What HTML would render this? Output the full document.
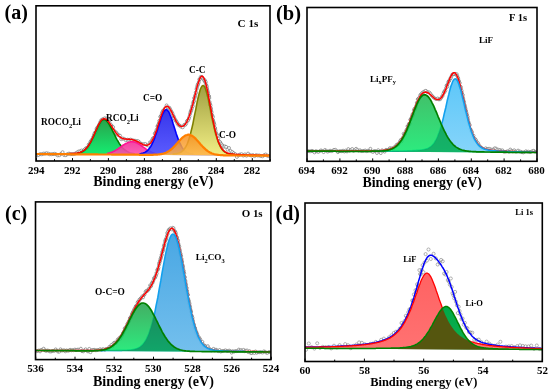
<!DOCTYPE html>
<html><head><meta charset="utf-8"><title>XPS spectra</title>
<style>
html,body{margin:0;padding:0;background:#fff;}
svg{display:block;}
text{font-family:"Liberation Serif","DejaVu Serif",serif;font-weight:bold;fill:#000;}
</style></head><body>
<svg width="550" height="391" viewBox="0 0 550 391">
<rect width="550" height="391" fill="#fff"/>
<defs>
<clipPath id="clipa"><rect x="36.0" y="5.8" width="234.0" height="155.2"/></clipPath>
<linearGradient id="g1" gradientUnits="userSpaceOnUse" x1="0" y1="119.5" x2="0" y2="155.7"><stop offset="0" stop-color="#169a3c"/><stop offset="1" stop-color="#00ee66"/></linearGradient>
<linearGradient id="g2" gradientUnits="userSpaceOnUse" x1="0" y1="141.7" x2="0" y2="155.7"><stop offset="0" stop-color="#f0309a"/><stop offset="1" stop-color="#ff52b0"/></linearGradient>
<linearGradient id="g3" gradientUnits="userSpaceOnUse" x1="0" y1="109.8" x2="0" y2="155.7"><stop offset="0" stop-color="#2020e8"/><stop offset="1" stop-color="#4a4aff"/></linearGradient>
<linearGradient id="g4" gradientUnits="userSpaceOnUse" x1="0" y1="85.5" x2="0" y2="155.7"><stop offset="0" stop-color="#8f8f20"/><stop offset="1" stop-color="#f0ec70"/></linearGradient>
<linearGradient id="g5" gradientUnits="userSpaceOnUse" x1="0" y1="134.7" x2="0" y2="155.7"><stop offset="0" stop-color="#f59020"/><stop offset="1" stop-color="#ffb347"/></linearGradient>
<clipPath id="clipb"><rect x="307.0" y="7.5" width="230.0" height="153.8"/></clipPath>
<linearGradient id="g6" gradientUnits="userSpaceOnUse" x1="0" y1="78.9" x2="0" y2="152.6"><stop offset="0" stop-color="#55c4f8"/><stop offset="1" stop-color="#7fd2fa"/></linearGradient>
<linearGradient id="g7" gradientUnits="userSpaceOnUse" x1="0" y1="94.7" x2="0" y2="152.6"><stop offset="0" stop-color="#20b650"/><stop offset="1" stop-color="#08e868"/></linearGradient>
<linearGradient id="g8" gradientUnits="userSpaceOnUse" x1="0" y1="94.7" x2="0" y2="152.6"><stop offset="0" stop-color="#20b650"/><stop offset="1" stop-color="#08e868"/></linearGradient>
<clipPath id="clipc"><rect x="35.5" y="201.9" width="235.4" height="157.7"/></clipPath>
<linearGradient id="g9" gradientUnits="userSpaceOnUse" x1="0" y1="234.1" x2="0" y2="352.0"><stop offset="0" stop-color="#3fa2e2"/><stop offset="1" stop-color="#6cbcec"/></linearGradient>
<linearGradient id="g10" gradientUnits="userSpaceOnUse" x1="0" y1="303.0" x2="0" y2="352.0"><stop offset="0" stop-color="#22a048"/><stop offset="1" stop-color="#08e868"/></linearGradient>
<linearGradient id="g11" gradientUnits="userSpaceOnUse" x1="0" y1="303.0" x2="0" y2="352.0"><stop offset="0" stop-color="#22a048"/><stop offset="1" stop-color="#08e868"/></linearGradient>
<clipPath id="clipd"><rect x="305.0" y="203.0" width="237.3" height="158.5"/></clipPath>
<linearGradient id="g12" gradientUnits="userSpaceOnUse" x1="0" y1="273.2" x2="0" y2="349.9"><stop offset="0" stop-color="#ff5a5a"/><stop offset="1" stop-color="#ff6a6a"/></linearGradient>
<linearGradient id="g13" gradientUnits="userSpaceOnUse" x1="0" y1="306.5" x2="0" y2="349.9"><stop offset="0" stop-color="#00a848"/><stop offset="1" stop-color="#10b050"/></linearGradient>
<linearGradient id="g14" gradientUnits="userSpaceOnUse" x1="0" y1="306.5" x2="0" y2="349.9"><stop offset="0" stop-color="#00a848"/><stop offset="1" stop-color="#10b050"/></linearGradient>
</defs>
<g clip-path="url(#clipa)">
<g fill="#fff" stroke="#666" stroke-width="0.60"><circle cx="37.0" cy="155.4" r="1.50"/><circle cx="38.6" cy="154.9" r="1.50"/><circle cx="40.2" cy="154.1" r="1.50"/><circle cx="41.8" cy="154.3" r="1.50"/><circle cx="43.4" cy="153.6" r="1.50"/><circle cx="45.0" cy="153.6" r="1.50"/><circle cx="46.6" cy="153.2" r="1.50"/><circle cx="48.2" cy="153.6" r="1.50"/><circle cx="49.8" cy="154.3" r="1.50"/><circle cx="51.4" cy="154.2" r="1.50"/><circle cx="53.0" cy="154.1" r="1.50"/><circle cx="54.6" cy="153.8" r="1.50"/><circle cx="56.2" cy="154.4" r="1.50"/><circle cx="57.8" cy="155.4" r="1.50"/><circle cx="59.4" cy="155.2" r="1.50"/><circle cx="61.0" cy="153.8" r="1.50"/><circle cx="62.6" cy="152.2" r="1.50"/><circle cx="64.2" cy="155.1" r="1.50"/><circle cx="65.8" cy="155.2" r="1.50"/><circle cx="67.4" cy="154.1" r="1.50"/><circle cx="69.0" cy="153.6" r="1.50"/><circle cx="70.6" cy="154.1" r="1.50"/><circle cx="72.2" cy="154.1" r="1.50"/><circle cx="73.8" cy="154.0" r="1.50"/><circle cx="75.4" cy="153.5" r="1.50"/><circle cx="77.0" cy="152.5" r="1.50"/><circle cx="78.6" cy="151.5" r="1.50"/><circle cx="80.1" cy="151.3" r="1.50"/><circle cx="81.6" cy="150.5" r="1.50"/><circle cx="83.1" cy="151.1" r="1.50"/><circle cx="84.4" cy="149.7" r="1.50"/><circle cx="85.6" cy="148.6" r="1.50"/><circle cx="86.8" cy="147.8" r="1.50"/><circle cx="87.8" cy="147.5" r="1.50"/><circle cx="88.7" cy="144.6" r="1.50"/><circle cx="89.6" cy="144.3" r="1.50"/><circle cx="90.4" cy="141.9" r="1.50"/><circle cx="91.1" cy="140.9" r="1.50"/><circle cx="91.9" cy="139.6" r="1.50"/><circle cx="92.6" cy="140.0" r="1.50"/><circle cx="93.2" cy="137.0" r="1.50"/><circle cx="93.9" cy="135.2" r="1.50"/><circle cx="94.5" cy="133.5" r="1.50"/><circle cx="95.2" cy="132.4" r="1.50"/><circle cx="95.8" cy="132.3" r="1.50"/><circle cx="96.5" cy="129.0" r="1.50"/><circle cx="97.1" cy="127.8" r="1.50"/><circle cx="97.8" cy="129.0" r="1.50"/><circle cx="98.5" cy="126.0" r="1.50"/><circle cx="99.2" cy="124.5" r="1.50"/><circle cx="100.0" cy="122.5" r="1.50"/><circle cx="100.9" cy="120.7" r="1.50"/><circle cx="101.9" cy="119.7" r="1.50"/><circle cx="103.1" cy="119.1" r="1.50"/><circle cx="104.6" cy="118.3" r="1.50"/><circle cx="106.2" cy="118.5" r="1.50"/><circle cx="107.5" cy="119.4" r="1.50"/><circle cx="108.6" cy="121.4" r="1.50"/><circle cx="109.6" cy="122.9" r="1.50"/><circle cx="110.5" cy="125.9" r="1.50"/><circle cx="111.3" cy="125.2" r="1.50"/><circle cx="112.2" cy="126.8" r="1.50"/><circle cx="113.1" cy="127.2" r="1.50"/><circle cx="113.9" cy="130.4" r="1.50"/><circle cx="114.8" cy="132.0" r="1.50"/><circle cx="115.7" cy="132.1" r="1.50"/><circle cx="116.7" cy="133.4" r="1.50"/><circle cx="117.7" cy="134.5" r="1.50"/><circle cx="118.8" cy="135.4" r="1.50"/><circle cx="120.0" cy="135.7" r="1.50"/><circle cx="121.3" cy="139.2" r="1.50"/><circle cx="122.7" cy="138.4" r="1.50"/><circle cx="124.3" cy="138.9" r="1.50"/><circle cx="125.8" cy="140.3" r="1.50"/><circle cx="127.4" cy="139.7" r="1.50"/><circle cx="129.0" cy="139.8" r="1.50"/><circle cx="130.6" cy="139.6" r="1.50"/><circle cx="132.2" cy="140.3" r="1.50"/><circle cx="133.8" cy="140.5" r="1.50"/><circle cx="135.3" cy="140.8" r="1.50"/><circle cx="136.8" cy="141.1" r="1.50"/><circle cx="138.2" cy="141.2" r="1.50"/><circle cx="139.6" cy="142.4" r="1.50"/><circle cx="141.0" cy="143.9" r="1.50"/><circle cx="142.4" cy="144.1" r="1.50"/><circle cx="143.9" cy="144.3" r="1.50"/><circle cx="145.4" cy="144.0" r="1.50"/><circle cx="147.0" cy="145.3" r="1.50"/><circle cx="148.6" cy="145.5" r="1.50"/><circle cx="149.9" cy="142.4" r="1.50"/><circle cx="151.0" cy="142.5" r="1.50"/><circle cx="152.0" cy="140.2" r="1.50"/><circle cx="152.8" cy="138.6" r="1.50"/><circle cx="153.5" cy="138.1" r="1.50"/><circle cx="154.2" cy="137.8" r="1.50"/><circle cx="154.8" cy="133.5" r="1.50"/><circle cx="155.4" cy="133.6" r="1.50"/><circle cx="155.9" cy="132.2" r="1.50"/><circle cx="156.4" cy="130.4" r="1.50"/><circle cx="156.9" cy="129.5" r="1.50"/><circle cx="157.4" cy="126.3" r="1.50"/><circle cx="157.9" cy="126.0" r="1.50"/><circle cx="158.4" cy="124.5" r="1.50"/><circle cx="158.9" cy="123.1" r="1.50"/><circle cx="159.4" cy="120.9" r="1.50"/><circle cx="159.8" cy="120.5" r="1.50"/><circle cx="160.3" cy="116.8" r="1.50"/><circle cx="160.8" cy="116.4" r="1.50"/><circle cx="161.3" cy="115.4" r="1.50"/><circle cx="161.9" cy="113.4" r="1.50"/><circle cx="162.4" cy="112.0" r="1.50"/><circle cx="163.0" cy="110.7" r="1.50"/><circle cx="163.7" cy="111.8" r="1.50"/><circle cx="164.5" cy="109.4" r="1.50"/><circle cx="165.4" cy="108.0" r="1.50"/><circle cx="166.6" cy="105.4" r="1.50"/><circle cx="168.2" cy="107.6" r="1.50"/><circle cx="169.4" cy="107.8" r="1.50"/><circle cx="170.3" cy="109.5" r="1.50"/><circle cx="171.1" cy="111.3" r="1.50"/><circle cx="171.8" cy="112.3" r="1.50"/><circle cx="172.5" cy="113.6" r="1.50"/><circle cx="173.2" cy="115.7" r="1.50"/><circle cx="173.9" cy="116.8" r="1.50"/><circle cx="174.5" cy="118.4" r="1.50"/><circle cx="175.3" cy="120.0" r="1.50"/><circle cx="176.0" cy="120.8" r="1.50"/><circle cx="176.8" cy="122.1" r="1.50"/><circle cx="177.6" cy="123.7" r="1.50"/><circle cx="178.6" cy="125.0" r="1.50"/><circle cx="179.8" cy="125.7" r="1.50"/><circle cx="181.1" cy="126.7" r="1.50"/><circle cx="182.7" cy="127.3" r="1.50"/><circle cx="184.2" cy="124.9" r="1.50"/><circle cx="185.3" cy="124.8" r="1.50"/><circle cx="186.2" cy="123.5" r="1.50"/><circle cx="187.0" cy="121.1" r="1.50"/><circle cx="187.7" cy="120.7" r="1.50"/><circle cx="188.4" cy="119.7" r="1.50"/><circle cx="189.0" cy="118.1" r="1.50"/><circle cx="189.5" cy="116.4" r="1.50"/><circle cx="190.0" cy="113.9" r="1.50"/><circle cx="190.5" cy="112.1" r="1.50"/><circle cx="191.0" cy="110.9" r="1.50"/><circle cx="191.4" cy="109.9" r="1.50"/><circle cx="191.8" cy="108.2" r="1.50"/><circle cx="192.3" cy="106.1" r="1.50"/><circle cx="192.7" cy="106.2" r="1.50"/><circle cx="193.1" cy="103.3" r="1.50"/><circle cx="193.5" cy="101.8" r="1.50"/><circle cx="193.9" cy="101.0" r="1.50"/><circle cx="194.2" cy="98.3" r="1.50"/><circle cx="194.6" cy="97.7" r="1.50"/><circle cx="195.0" cy="96.3" r="1.50"/><circle cx="195.4" cy="95.0" r="1.50"/><circle cx="195.8" cy="92.6" r="1.50"/><circle cx="196.1" cy="92.5" r="1.50"/><circle cx="196.5" cy="89.2" r="1.50"/><circle cx="196.9" cy="87.7" r="1.50"/><circle cx="197.4" cy="85.8" r="1.50"/><circle cx="197.8" cy="84.5" r="1.50"/><circle cx="198.3" cy="83.7" r="1.50"/><circle cx="198.8" cy="82.0" r="1.50"/><circle cx="199.3" cy="79.4" r="1.50"/><circle cx="199.9" cy="79.1" r="1.50"/><circle cx="200.7" cy="76.9" r="1.50"/><circle cx="201.8" cy="77.0" r="1.50"/><circle cx="203.4" cy="79.0" r="1.50"/><circle cx="204.2" cy="80.5" r="1.50"/><circle cx="204.8" cy="80.2" r="1.50"/><circle cx="205.3" cy="82.3" r="1.50"/><circle cx="205.7" cy="81.9" r="1.50"/><circle cx="206.1" cy="84.7" r="1.50"/><circle cx="206.5" cy="85.7" r="1.50"/><circle cx="206.8" cy="87.0" r="1.50"/><circle cx="207.2" cy="89.1" r="1.50"/><circle cx="207.5" cy="90.9" r="1.50"/><circle cx="207.8" cy="92.3" r="1.50"/><circle cx="208.1" cy="93.6" r="1.50"/><circle cx="208.4" cy="95.9" r="1.50"/><circle cx="208.7" cy="96.1" r="1.50"/><circle cx="209.0" cy="96.4" r="1.50"/><circle cx="209.3" cy="98.0" r="1.50"/><circle cx="209.6" cy="102.0" r="1.50"/><circle cx="209.9" cy="104.9" r="1.50"/><circle cx="210.2" cy="104.3" r="1.50"/><circle cx="210.5" cy="105.6" r="1.50"/><circle cx="210.8" cy="108.0" r="1.50"/><circle cx="211.0" cy="109.2" r="1.50"/><circle cx="211.3" cy="111.2" r="1.50"/><circle cx="211.6" cy="112.5" r="1.50"/><circle cx="211.9" cy="114.9" r="1.50"/><circle cx="212.2" cy="116.6" r="1.50"/><circle cx="212.5" cy="116.0" r="1.50"/><circle cx="212.8" cy="117.3" r="1.50"/><circle cx="213.1" cy="120.2" r="1.50"/><circle cx="213.4" cy="121.7" r="1.50"/><circle cx="213.8" cy="122.9" r="1.50"/><circle cx="214.1" cy="123.8" r="1.50"/><circle cx="214.4" cy="124.8" r="1.50"/><circle cx="214.8" cy="128.1" r="1.50"/><circle cx="215.2" cy="128.1" r="1.50"/><circle cx="215.5" cy="130.4" r="1.50"/><circle cx="215.9" cy="132.5" r="1.50"/><circle cx="216.4" cy="134.1" r="1.50"/><circle cx="216.8" cy="134.6" r="1.50"/><circle cx="217.2" cy="137.4" r="1.50"/><circle cx="217.7" cy="136.0" r="1.50"/><circle cx="218.3" cy="138.7" r="1.50"/><circle cx="218.8" cy="141.0" r="1.50"/><circle cx="219.4" cy="142.8" r="1.50"/><circle cx="220.1" cy="142.1" r="1.50"/><circle cx="220.8" cy="143.6" r="1.50"/><circle cx="221.6" cy="144.5" r="1.50"/><circle cx="222.5" cy="145.7" r="1.50"/><circle cx="223.6" cy="146.8" r="1.50"/><circle cx="224.8" cy="146.4" r="1.50"/><circle cx="226.1" cy="146.9" r="1.50"/><circle cx="227.5" cy="149.6" r="1.50"/><circle cx="229.0" cy="148.0" r="1.50"/><circle cx="230.6" cy="151.0" r="1.50"/><circle cx="232.2" cy="152.0" r="1.50"/><circle cx="233.7" cy="153.2" r="1.50"/><circle cx="235.3" cy="154.2" r="1.50"/><circle cx="236.9" cy="156.9" r="1.50"/><circle cx="238.5" cy="155.2" r="1.50"/><circle cx="240.1" cy="154.5" r="1.50"/><circle cx="241.7" cy="154.2" r="1.50"/><circle cx="243.3" cy="155.6" r="1.50"/><circle cx="244.9" cy="154.4" r="1.50"/><circle cx="246.5" cy="155.7" r="1.50"/><circle cx="248.1" cy="153.6" r="1.50"/><circle cx="249.7" cy="155.0" r="1.50"/><circle cx="251.3" cy="155.6" r="1.50"/><circle cx="252.9" cy="155.1" r="1.50"/><circle cx="254.5" cy="156.1" r="1.50"/><circle cx="256.1" cy="155.2" r="1.50"/><circle cx="257.7" cy="155.5" r="1.50"/><circle cx="259.3" cy="155.5" r="1.50"/><circle cx="260.9" cy="156.0" r="1.50"/><circle cx="262.5" cy="156.3" r="1.50"/><circle cx="264.1" cy="155.2" r="1.50"/><circle cx="265.7" cy="154.5" r="1.50"/><circle cx="267.3" cy="155.7" r="1.50"/><circle cx="268.9" cy="156.2" r="1.50"/></g>
<path d="M42.8,153.9 L43.5,153.9 L44.2,153.9 L45.0,153.9 L45.8,153.9 L46.5,153.9 L47.2,153.9 L48.0,153.9 L48.8,153.9 L49.5,153.9 L50.2,153.9 L51.0,153.9 L51.8,153.9 L52.5,153.9 L53.2,153.9 L54.0,153.9 L54.8,153.9 L55.5,153.9 L56.2,153.9 L57.0,153.9 L57.8,153.9 L58.5,153.9 L59.2,153.9 L60.0,153.9 L60.8,153.9 L61.5,153.9 L62.2,153.9 L63.0,153.9 L63.8,153.9 L64.5,153.8 L65.2,153.8 L66.0,153.8 L66.8,153.8 L67.5,153.8 L68.2,153.8 L69.0,153.8 L69.8,153.8 L70.5,153.7 L71.2,153.7 L72.0,153.7 L72.8,153.6 L73.5,153.6 L74.2,153.5 L75.0,153.5 L75.8,153.4 L76.5,153.3 L77.2,153.2 L78.0,153.1 L78.8,152.9 L79.5,152.7 L80.2,152.5 L81.0,152.2 L81.8,151.9 L82.5,151.5 L83.2,151.0 L84.0,150.5 L84.8,149.9 L85.5,149.3 L86.2,148.5 L87.0,147.7 L87.8,146.7 L88.5,145.7 L89.2,144.5 L90.0,143.3 L90.8,141.9 L91.5,140.5 L92.2,139.0 L93.0,137.4 L93.8,135.7 L94.5,134.0 L95.2,132.3 L96.0,130.6 L96.8,128.9 L97.5,127.3 L98.2,125.7 L99.0,124.3 L99.8,123.0 L100.5,121.9 L101.2,120.9 L102.0,120.2 L102.8,119.7 L103.5,119.5 L104.2,119.5 L105.0,119.8 L105.8,120.2 L106.5,120.8 L107.2,121.6 L108.0,122.6 L108.8,123.7 L109.5,124.9 L110.2,126.2 L111.0,127.6 L111.8,129.1 L112.5,130.6 L113.2,132.1 L114.0,133.7 L114.8,135.2 L115.5,136.7 L116.2,138.2 L117.0,139.6 L117.8,140.9 L118.5,142.2 L119.2,143.4 L120.0,144.6 L120.8,145.6 L121.5,146.6 L122.2,147.5 L123.0,148.3 L123.8,149.0 L124.5,149.7 L125.2,150.3 L126.0,150.8 L126.8,151.3 L127.5,151.7 L128.2,152.1 L129.0,152.4 L129.8,152.7 L130.5,152.9 L131.2,153.1 L132.0,153.3 L132.8,153.5 L133.5,153.6 L134.2,153.7 L135.0,153.8 L135.8,153.9 L136.5,154.0 L137.2,154.0 L138.0,154.1 L138.8,154.1 L139.5,154.2 L140.2,154.2 L141.0,154.2 L141.8,154.3 L142.5,154.3 L143.2,154.3 L144.0,154.4 L144.8,154.4 L145.5,154.4 L146.2,154.4 L147.0,154.4 L147.8,154.5 L148.5,154.5 L149.2,154.5 L150.0,154.5 L150.8,154.5 L151.5,154.5 L152.2,154.5 L153.0,154.6 L153.8,154.6 L154.5,154.6 L155.2,154.6 L156.0,154.6 L156.8,154.6 L157.5,154.6 L158.2,154.6 L159.0,154.7 L159.8,154.7 L160.5,154.7 L161.2,154.7 L162.0,154.7 L162.8,154.7 L163.5,154.7 L164.2,154.7 L165.0,154.7 L165.8,154.8 L166.5,154.8 L167.2,154.8 L168.0,154.8 L168.8,154.8 L169.5,154.8 L170.2,154.8 L171.0,154.8 L171.8,154.8 L172.5,154.8 L172.5,155.0 L42.8,154.0 Z" fill="url(#g1)" fill-opacity="0.92" stroke="none"/>
<path d="M76.5,153.3 L77.2,153.2 L78.0,153.1 L78.8,152.9 L79.5,152.7 L80.2,152.5 L81.0,152.2 L81.8,151.9 L82.5,151.5 L83.2,151.0 L84.0,150.5 L84.8,149.9 L85.5,149.3 L86.2,148.5 L87.0,147.7 L87.8,146.7 L88.5,145.7 L89.2,144.5 L90.0,143.3 L90.8,141.9 L91.5,140.5 L92.2,139.0 L93.0,137.4 L93.8,135.7 L94.5,134.0 L95.2,132.3 L96.0,130.6 L96.8,128.9 L97.5,127.3 L98.2,125.7 L99.0,124.3 L99.8,123.0 L100.5,121.9 L101.2,120.9 L102.0,120.2 L102.8,119.7 L103.5,119.5 L104.2,119.5 L105.0,119.8 L105.8,120.2 L106.5,120.8 L107.2,121.6 L108.0,122.6 L108.8,123.7 L109.5,124.9 L110.2,126.2 L111.0,127.6 L111.8,129.1 L112.5,130.6 L113.2,132.1 L114.0,133.7 L114.8,135.2 L115.5,136.7 L116.2,138.2 L117.0,139.6 L117.8,140.9 L118.5,142.2 L119.2,143.4 L120.0,144.6 L120.8,145.6 L121.5,146.6 L122.2,147.5 L123.0,148.3 L123.8,149.0 L124.5,149.7 L125.2,150.3 L126.0,150.8 L126.8,151.3 L127.5,151.7 L128.2,152.1 L129.0,152.4 L129.8,152.7 L130.5,152.9 L131.2,153.1 L132.0,153.3 L132.8,153.5 L133.5,153.6 L134.2,153.7 L135.0,153.8" fill="none" stroke="#008000" stroke-width="1.60" stroke-linejoin="round"/>
<path d="M99.8,154.3 L100.5,154.3 L101.2,154.2 L102.0,154.2 L102.8,154.1 L103.5,154.0 L104.2,154.0 L105.0,153.9 L105.8,153.8 L106.5,153.6 L107.2,153.5 L108.0,153.3 L108.8,153.1 L109.5,152.9 L110.2,152.7 L111.0,152.4 L111.8,152.2 L112.5,151.9 L113.2,151.5 L114.0,151.2 L114.8,150.8 L115.5,150.4 L116.2,149.9 L117.0,149.5 L117.8,149.0 L118.5,148.5 L119.2,148.0 L120.0,147.4 L120.8,146.9 L121.5,146.4 L122.2,145.8 L123.0,145.3 L123.8,144.8 L124.5,144.3 L125.2,143.9 L126.0,143.5 L126.8,143.1 L127.5,142.7 L128.2,142.4 L129.0,142.2 L129.8,142.0 L130.5,141.8 L131.2,141.7 L132.0,141.7 L132.8,141.7 L133.5,141.8 L134.2,142.0 L135.0,142.2 L135.8,142.5 L136.5,142.8 L137.2,143.1 L138.0,143.5 L138.8,144.0 L139.5,144.4 L140.2,144.9 L141.0,145.5 L141.8,146.0 L142.5,146.5 L143.2,147.1 L144.0,147.6 L144.8,148.1 L145.5,148.7 L146.2,149.2 L147.0,149.7 L147.8,150.1 L148.5,150.6 L149.2,151.0 L150.0,151.4 L150.8,151.8 L151.5,152.1 L152.2,152.5 L153.0,152.7 L153.8,153.0 L154.5,153.3 L155.2,153.5 L156.0,153.7 L156.8,153.8 L157.5,154.0 L158.2,154.1 L159.0,154.3 L159.8,154.4 L160.5,154.5 L161.2,154.5 L162.0,154.6 L162.8,154.7 L163.5,154.7 L164.2,154.8 L164.2,154.9 L99.8,154.5 Z" fill="url(#g2)" fill-opacity="0.90" stroke="none"/>
<path d="M107.2,153.5 L108.0,153.3 L108.8,153.1 L109.5,152.9 L110.2,152.7 L111.0,152.4 L111.8,152.2 L112.5,151.9 L113.2,151.5 L114.0,151.2 L114.8,150.8 L115.5,150.4 L116.2,149.9 L117.0,149.5 L117.8,149.0 L118.5,148.5 L119.2,148.0 L120.0,147.4 L120.8,146.9 L121.5,146.4 L122.2,145.8 L123.0,145.3 L123.8,144.8 L124.5,144.3 L125.2,143.9 L126.0,143.5 L126.8,143.1 L127.5,142.7 L128.2,142.4 L129.0,142.2 L129.8,142.0 L130.5,141.8 L131.2,141.7 L132.0,141.7 L132.8,141.7 L133.5,141.8 L134.2,142.0 L135.0,142.2 L135.8,142.5 L136.5,142.8 L137.2,143.1 L138.0,143.5 L138.8,144.0 L139.5,144.4 L140.2,144.9 L141.0,145.5 L141.8,146.0 L142.5,146.5 L143.2,147.1 L144.0,147.6 L144.8,148.1 L145.5,148.7 L146.2,149.2 L147.0,149.7 L147.8,150.1 L148.5,150.6 L149.2,151.0 L150.0,151.4 L150.8,151.8 L151.5,152.1 L152.2,152.5 L153.0,152.7 L153.8,153.0 L154.5,153.3 L155.2,153.5 L156.0,153.7 L156.8,153.8" fill="none" stroke="#ff1493" stroke-width="1.60" stroke-linejoin="round"/>
<path d="M102.8,154.3 L103.5,154.3 L104.2,154.3 L105.0,154.3 L105.8,154.3 L106.5,154.3 L107.2,154.3 L108.0,154.3 L108.8,154.3 L109.5,154.3 L110.2,154.3 L111.0,154.3 L111.8,154.3 L112.5,154.3 L113.2,154.3 L114.0,154.3 L114.8,154.3 L115.5,154.3 L116.2,154.3 L117.0,154.3 L117.8,154.3 L118.5,154.3 L119.2,154.3 L120.0,154.3 L120.8,154.3 L121.5,154.3 L122.2,154.3 L123.0,154.3 L123.8,154.3 L124.5,154.3 L125.2,154.3 L126.0,154.3 L126.8,154.3 L127.5,154.3 L128.2,154.3 L129.0,154.2 L129.8,154.2 L130.5,154.2 L131.2,154.2 L132.0,154.2 L132.8,154.2 L133.5,154.2 L134.2,154.1 L135.0,154.1 L135.8,154.1 L136.5,154.0 L137.2,154.0 L138.0,153.9 L138.8,153.9 L139.5,153.8 L140.2,153.7 L141.0,153.6 L141.8,153.4 L142.5,153.2 L143.2,153.0 L144.0,152.7 L144.8,152.4 L145.5,152.0 L146.2,151.5 L147.0,151.0 L147.8,150.3 L148.5,149.5 L149.2,148.6 L150.0,147.6 L150.8,146.4 L151.5,145.1 L152.2,143.6 L153.0,142.0 L153.8,140.2 L154.5,138.2 L155.2,136.1 L156.0,133.9 L156.8,131.6 L157.5,129.3 L158.2,126.8 L159.0,124.4 L159.8,122.0 L160.5,119.7 L161.2,117.5 L162.0,115.5 L162.8,113.7 L163.5,112.2 L164.2,111.1 L165.0,110.2 L165.8,109.8 L166.5,109.8 L167.2,110.1 L168.0,110.9 L168.8,112.0 L169.5,113.5 L170.2,115.2 L171.0,117.2 L171.8,119.3 L172.5,121.6 L173.2,124.0 L174.0,126.5 L174.8,128.9 L175.5,131.3 L176.2,133.6 L177.0,135.9 L177.8,138.0 L178.5,140.0 L179.2,141.8 L180.0,143.5 L180.8,145.0 L181.5,146.4 L182.2,147.6 L183.0,148.7 L183.8,149.6 L184.5,150.4 L185.2,151.1 L186.0,151.7 L186.8,152.2 L187.5,152.6 L188.2,153.0 L189.0,153.3 L189.8,153.5 L190.5,153.7 L191.2,153.9 L192.0,154.0 L192.8,154.1 L193.5,154.2 L194.2,154.3 L195.0,154.4 L195.8,154.4 L196.5,154.5 L197.2,154.5 L198.0,154.6 L198.8,154.6 L199.5,154.7 L200.2,154.7 L201.0,154.7 L201.8,154.7 L202.5,154.8 L203.2,154.8 L204.0,154.8 L204.8,154.8 L205.5,154.8 L206.2,154.9 L207.0,154.9 L207.8,154.9 L208.5,154.9 L209.2,154.9 L210.0,154.9 L210.8,155.0 L211.5,155.0 L212.2,155.0 L213.0,155.0 L213.8,155.0 L214.5,155.0 L215.2,155.0 L216.0,155.1 L216.8,155.1 L217.5,155.1 L218.2,155.1 L219.0,155.1 L219.8,155.1 L220.5,155.1 L221.2,155.1 L222.0,155.2 L222.8,155.2 L223.5,155.2 L224.2,155.2 L225.0,155.2 L225.8,155.2 L226.5,155.2 L227.2,155.2 L228.0,155.2 L228.8,155.2 L229.5,155.3 L230.2,155.3 L230.2,155.4 L102.8,154.5 Z" fill="url(#g3)" fill-opacity="0.90" stroke="none"/>
<path d="M139.5,153.8 L140.2,153.7 L141.0,153.6 L141.8,153.4 L142.5,153.2 L143.2,153.0 L144.0,152.7 L144.8,152.4 L145.5,152.0 L146.2,151.5 L147.0,151.0 L147.8,150.3 L148.5,149.5 L149.2,148.6 L150.0,147.6 L150.8,146.4 L151.5,145.1 L152.2,143.6 L153.0,142.0 L153.8,140.2 L154.5,138.2 L155.2,136.1 L156.0,133.9 L156.8,131.6 L157.5,129.3 L158.2,126.8 L159.0,124.4 L159.8,122.0 L160.5,119.7 L161.2,117.5 L162.0,115.5 L162.8,113.7 L163.5,112.2 L164.2,111.1 L165.0,110.2 L165.8,109.8 L166.5,109.8 L167.2,110.1 L168.0,110.9 L168.8,112.0 L169.5,113.5 L170.2,115.2 L171.0,117.2 L171.8,119.3 L172.5,121.6 L173.2,124.0 L174.0,126.5 L174.8,128.9 L175.5,131.3 L176.2,133.6 L177.0,135.9 L177.8,138.0 L178.5,140.0 L179.2,141.8 L180.0,143.5 L180.8,145.0 L181.5,146.4 L182.2,147.6 L183.0,148.7 L183.8,149.6 L184.5,150.4 L185.2,151.1 L186.0,151.7 L186.8,152.2 L187.5,152.6 L188.2,153.0 L189.0,153.3 L189.8,153.5 L190.5,153.7 L191.2,153.9 L192.0,154.0 L192.8,154.1 L193.5,154.2" fill="none" stroke="#0000ff" stroke-width="1.60" stroke-linejoin="round"/>
<path d="M125.2,154.5 L126.0,154.5 L126.8,154.5 L127.5,154.5 L128.2,154.5 L129.0,154.5 L129.8,154.5 L130.5,154.5 L131.2,154.5 L132.0,154.5 L132.8,154.5 L133.5,154.5 L134.2,154.5 L135.0,154.5 L135.8,154.5 L136.5,154.5 L137.2,154.5 L138.0,154.5 L138.8,154.5 L139.5,154.5 L140.2,154.5 L141.0,154.5 L141.8,154.5 L142.5,154.5 L143.2,154.5 L144.0,154.5 L144.8,154.5 L145.5,154.5 L146.2,154.5 L147.0,154.5 L147.8,154.5 L148.5,154.5 L149.2,154.5 L150.0,154.5 L150.8,154.5 L151.5,154.5 L152.2,154.5 L153.0,154.5 L153.8,154.5 L154.5,154.5 L155.2,154.5 L156.0,154.5 L156.8,154.5 L157.5,154.5 L158.2,154.4 L159.0,154.4 L159.8,154.4 L160.5,154.4 L161.2,154.4 L162.0,154.4 L162.8,154.4 L163.5,154.4 L164.2,154.3 L165.0,154.3 L165.8,154.3 L166.5,154.3 L167.2,154.3 L168.0,154.2 L168.8,154.2 L169.5,154.2 L170.2,154.2 L171.0,154.1 L171.8,154.1 L172.5,154.0 L173.2,154.0 L174.0,153.9 L174.8,153.8 L175.5,153.8 L176.2,153.6 L177.0,153.5 L177.8,153.3 L178.5,153.1 L179.2,152.9 L180.0,152.6 L180.8,152.2 L181.5,151.8 L182.2,151.2 L183.0,150.6 L183.8,149.8 L184.5,148.8 L185.2,147.7 L186.0,146.4 L186.8,144.9 L187.5,143.2 L188.2,141.3 L189.0,139.0 L189.8,136.6 L190.5,133.9 L191.2,130.9 L192.0,127.7 L192.8,124.3 L193.5,120.7 L194.2,117.0 L195.0,113.1 L195.8,109.3 L196.5,105.5 L197.2,101.8 L198.0,98.3 L198.8,95.0 L199.5,92.2 L200.2,89.7 L201.0,87.8 L201.8,86.4 L202.5,85.7 L203.2,85.5 L204.0,86.1 L204.8,87.2 L205.5,88.9 L206.2,91.1 L207.0,93.7 L207.8,96.7 L208.5,100.0 L209.2,103.6 L210.0,107.3 L210.8,111.0 L211.5,114.8 L212.2,118.5 L213.0,122.1 L213.8,125.5 L214.5,128.8 L215.2,131.9 L216.0,134.7 L216.8,137.3 L217.5,139.7 L218.2,141.8 L219.0,143.7 L219.8,145.4 L220.5,146.8 L221.2,148.1 L222.0,149.2 L222.8,150.1 L223.5,150.9 L224.2,151.5 L225.0,152.1 L225.8,152.5 L226.5,152.9 L227.2,153.2 L228.0,153.5 L228.8,153.7 L229.5,153.9 L230.2,154.0 L231.0,154.1 L231.8,154.2 L232.5,154.3 L233.2,154.4 L234.0,154.5 L234.8,154.5 L235.5,154.6 L236.2,154.6 L237.0,154.7 L237.8,154.7 L238.5,154.7 L239.2,154.8 L240.0,154.8 L240.8,154.8 L241.5,154.9 L242.2,154.9 L243.0,154.9 L243.8,155.0 L244.5,155.0 L245.2,155.0 L246.0,155.0 L246.8,155.0 L247.5,155.1 L248.2,155.1 L249.0,155.1 L249.8,155.1 L250.5,155.1 L251.2,155.2 L252.0,155.2 L252.8,155.2 L253.5,155.2 L254.2,155.2 L255.0,155.2 L255.8,155.3 L256.5,155.3 L257.2,155.3 L258.0,155.3 L258.8,155.3 L259.5,155.3 L260.2,155.3 L261.0,155.4 L261.8,155.4 L262.5,155.4 L263.2,155.4 L264.0,155.4 L264.8,155.4 L265.5,155.4 L266.2,155.4 L267.0,155.4 L267.8,155.5 L268.5,155.5 L269.2,155.5 L270.0,155.5 L270.0,155.5 L270.0,155.7 L125.2,154.6 Z" fill="url(#g4)" fill-opacity="0.85" stroke="none"/>
<path d="M172.5,154.0 L173.2,154.0 L174.0,153.9 L174.8,153.8 L175.5,153.8 L176.2,153.6 L177.0,153.5 L177.8,153.3 L178.5,153.1 L179.2,152.9 L180.0,152.6 L180.8,152.2 L181.5,151.8 L182.2,151.2 L183.0,150.6 L183.8,149.8 L184.5,148.8 L185.2,147.7 L186.0,146.4 L186.8,144.9 L187.5,143.2 L188.2,141.3 L189.0,139.0 L189.8,136.6 L190.5,133.9 L191.2,130.9 L192.0,127.7 L192.8,124.3 L193.5,120.7 L194.2,117.0 L195.0,113.1 L195.8,109.3 L196.5,105.5 L197.2,101.8 L198.0,98.3 L198.8,95.0 L199.5,92.2 L200.2,89.7 L201.0,87.8 L201.8,86.4 L202.5,85.7 L203.2,85.5 L204.0,86.1 L204.8,87.2 L205.5,88.9 L206.2,91.1 L207.0,93.7 L207.8,96.7 L208.5,100.0 L209.2,103.6 L210.0,107.3 L210.8,111.0 L211.5,114.8 L212.2,118.5 L213.0,122.1 L213.8,125.5 L214.5,128.8 L215.2,131.9 L216.0,134.7 L216.8,137.3 L217.5,139.7 L218.2,141.8 L219.0,143.7 L219.8,145.4 L220.5,146.8 L221.2,148.1 L222.0,149.2 L222.8,150.1 L223.5,150.9 L224.2,151.5 L225.0,152.1 L225.8,152.5 L226.5,152.9 L227.2,153.2 L228.0,153.5 L228.8,153.7 L229.5,153.9 L230.2,154.0 L231.0,154.1 L231.8,154.2 L232.5,154.3 L233.2,154.4 L234.0,154.5 L234.8,154.5" fill="none" stroke="#808000" stroke-width="1.60" stroke-linejoin="round"/>
<path d="M36.0,153.8 L36.8,153.8 L37.5,153.8 L38.2,153.8 L39.0,153.8 L39.8,153.8 L40.5,153.8 L41.2,153.8 L42.0,153.8 L42.8,153.8 L43.5,153.8 L44.2,153.8 L45.0,153.8 L45.8,153.8 L46.5,153.8 L47.2,153.8 L48.0,153.8 L48.8,153.8 L49.5,153.8 L50.2,153.8 L51.0,153.8 L51.8,153.8 L52.5,153.8 L53.2,153.8 L54.0,153.8 L54.8,153.8 L55.5,153.8 L56.2,153.8 L57.0,153.8 L57.8,153.8 L58.5,153.8 L59.2,153.8 L60.0,153.8 L60.8,153.8 L61.5,153.8 L62.2,153.8 L63.0,153.8 L63.8,153.7 L64.5,153.7 L65.2,153.7 L66.0,153.7 L66.8,153.7 L67.5,153.7 L68.2,153.7 L69.0,153.7 L69.8,153.6 L70.5,153.6 L71.2,153.6 L72.0,153.6 L72.8,153.5 L73.5,153.5 L74.2,153.4 L75.0,153.3 L75.8,153.3 L76.5,153.2 L77.2,153.1 L78.0,152.9 L78.8,152.8 L79.5,152.6 L80.2,152.3 L81.0,152.0 L81.8,151.7 L82.5,151.3 L83.2,150.9 L84.0,150.4 L84.8,149.8 L85.5,149.1 L86.2,148.4 L87.0,147.5 L87.8,146.5 L88.5,145.5 L89.2,144.3 L90.0,143.1 L90.8,141.7 L91.5,140.3 L92.2,138.7 L93.0,137.1 L93.8,135.5 L94.5,133.8 L95.2,132.1 L96.0,130.3 L96.8,128.6 L97.5,127.0 L98.2,125.4 L99.0,123.9 L99.8,122.6 L100.5,121.4 L101.2,120.4 L102.0,119.7 L102.8,119.1 L103.5,118.8 L104.2,118.7 L105.0,118.9 L105.8,119.2 L106.5,119.7 L107.2,120.3 L108.0,121.1 L108.8,122.0 L109.5,123.0 L110.2,124.1 L111.0,125.2 L111.8,126.4 L112.5,127.6 L113.2,128.8 L114.0,129.9 L114.8,131.1 L115.5,132.1 L116.2,133.1 L117.0,134.1 L117.8,134.9 L118.5,135.7 L119.2,136.4 L120.0,137.0 L120.8,137.5 L121.5,137.9 L122.2,138.2 L123.0,138.5 L123.8,138.7 L124.5,138.9 L125.2,139.0 L126.0,139.1 L126.8,139.2 L127.5,139.2 L128.2,139.2 L129.0,139.3 L129.8,139.3 L130.5,139.4 L131.2,139.5 L132.0,139.6 L132.8,139.8 L133.5,140.0 L134.2,140.2 L135.0,140.5 L135.8,140.8 L136.5,141.1 L137.2,141.5 L138.0,141.8 L138.8,142.2 L139.5,142.7 L140.2,143.1 L141.0,143.5 L141.8,143.9 L142.5,144.3 L143.2,144.6 L144.0,144.9 L144.8,145.1 L145.5,145.2 L146.2,145.2 L147.0,145.2 L147.8,145.0 L148.5,144.6 L149.2,144.1 L150.0,143.5 L150.8,142.7 L151.5,141.7 L152.2,140.5 L153.0,139.1 L153.8,137.6 L154.5,135.8 L155.2,133.9 L156.0,131.9 L156.8,129.7 L157.5,127.4 L158.2,125.0 L159.0,122.6 L159.8,120.2 L160.5,117.8 L161.2,115.6 L162.0,113.5 L162.8,111.5 L163.5,109.9 L164.2,108.5 L165.0,107.4 L165.8,106.7 L166.5,106.3 L167.2,106.3 L168.0,106.6 L168.8,107.2 L169.5,108.1 L170.2,109.3 L171.0,110.6 L171.8,112.1 L172.5,113.7 L173.2,115.3 L174.0,116.9 L174.8,118.5 L175.5,120.0 L176.2,121.4 L177.0,122.6 L177.8,123.7 L178.5,124.7 L179.2,125.4 L180.0,126.0 L180.8,126.3 L181.5,126.4 L182.2,126.4 L183.0,126.1 L183.8,125.7 L184.5,125.0 L185.2,124.2 L186.0,123.1 L186.8,121.8 L187.5,120.3 L188.2,118.6 L189.0,116.7 L189.8,114.6 L190.5,112.3 L191.2,109.8 L192.0,107.1 L192.8,104.3 L193.5,101.4 L194.2,98.3 L195.0,95.3 L195.8,92.2 L196.5,89.2 L197.2,86.4 L198.0,83.8 L198.8,81.4 L199.5,79.4 L200.2,77.8 L201.0,76.8 L201.8,76.2 L202.5,76.3 L203.2,77.0 L204.0,78.3 L204.8,80.1 L205.5,82.5 L206.2,85.3 L207.0,88.6 L207.8,92.2 L208.5,96.0 L209.2,100.0 L210.0,104.1 L210.8,108.2 L211.5,112.3 L212.2,116.3 L213.0,120.2 L213.8,123.9 L214.5,127.4 L215.2,130.6 L216.0,133.6 L216.8,136.4 L217.5,138.9 L218.2,141.1 L219.0,143.1 L219.8,144.8 L220.5,146.3 L221.2,147.6 L222.0,148.7 L222.8,149.7 L223.5,150.5 L224.2,151.2 L225.0,151.8 L225.8,152.2 L226.5,152.6 L227.2,153.0 L228.0,153.2 L228.8,153.5 L229.5,153.6 L230.2,153.8 L231.0,153.9 L231.8,154.0 L232.5,154.1 L233.2,154.2 L234.0,154.3 L234.8,154.3 L235.5,154.4 L236.2,154.5 L237.0,154.5 L237.8,154.5 L238.5,154.6 L239.2,154.6 L240.0,154.7 L240.8,154.7 L241.5,154.7 L242.2,154.8 L243.0,154.8 L243.8,154.8 L244.5,154.8 L245.2,154.9 L246.0,154.9 L246.8,154.9 L247.5,154.9 L248.2,155.0 L249.0,155.0 L249.8,155.0 L250.5,155.0 L251.2,155.0 L252.0,155.1 L252.8,155.1 L253.5,155.1 L254.2,155.1 L255.0,155.1 L255.8,155.1 L256.5,155.2 L257.2,155.2 L258.0,155.2 L258.8,155.2 L259.5,155.2 L260.2,155.2 L261.0,155.3 L261.8,155.3 L262.5,155.3 L263.2,155.3 L264.0,155.3 L264.8,155.3 L265.5,155.3 L266.2,155.3 L267.0,155.4 L267.8,155.4 L268.5,155.4 L269.2,155.4 L270.0,155.4 L270.0,155.4" fill="none" stroke="#ff0000" stroke-width="1.50" stroke-linejoin="round"/>
<path d="M155.2,154.7 L156.0,154.7 L156.8,154.6 L157.5,154.6 L158.2,154.5 L159.0,154.4 L159.8,154.3 L160.5,154.2 L161.2,154.1 L162.0,153.9 L162.8,153.7 L163.5,153.5 L164.2,153.3 L165.0,153.0 L165.8,152.7 L166.5,152.4 L167.2,152.0 L168.0,151.6 L168.8,151.1 L169.5,150.6 L170.2,150.1 L171.0,149.5 L171.8,148.9 L172.5,148.2 L173.2,147.5 L174.0,146.7 L174.8,145.9 L175.5,145.1 L176.2,144.3 L177.0,143.5 L177.8,142.6 L178.5,141.7 L179.2,140.9 L180.0,140.1 L180.8,139.3 L181.5,138.5 L182.2,137.8 L183.0,137.1 L183.8,136.6 L184.5,136.0 L185.2,135.6 L186.0,135.2 L186.8,135.0 L187.5,134.8 L188.2,134.7 L189.0,134.7 L189.8,134.9 L190.5,135.1 L191.2,135.4 L192.0,135.8 L192.8,136.3 L193.5,136.8 L194.2,137.4 L195.0,138.1 L195.8,138.9 L196.5,139.7 L197.2,140.5 L198.0,141.3 L198.8,142.2 L199.5,143.0 L200.2,143.9 L201.0,144.8 L201.8,145.6 L202.5,146.4 L203.2,147.2 L204.0,147.9 L204.8,148.6 L205.5,149.3 L206.2,150.0 L207.0,150.5 L207.8,151.1 L208.5,151.6 L209.2,152.0 L210.0,152.5 L210.8,152.8 L211.5,153.2 L212.2,153.5 L213.0,153.7 L213.8,154.0 L214.5,154.2 L215.2,154.4 L216.0,154.5 L216.8,154.6 L217.5,154.8 L218.2,154.9 L219.0,155.0 L219.8,155.0 L220.5,155.1 L221.2,155.1 L222.0,155.2 L222.0,155.4 L155.2,154.9 Z" fill="url(#g5)" fill-opacity="0.85" stroke="none"/>
<path d="M36.0,154.0 L36.8,154.0 L37.5,154.0 L38.2,154.0 L39.0,154.0 L39.8,154.0 L40.5,154.0 L41.2,154.0 L42.0,154.0 L42.8,154.0 L43.5,154.1 L44.2,154.1 L45.0,154.1 L45.8,154.1 L46.5,154.1 L47.2,154.1 L48.0,154.1 L48.8,154.1 L49.5,154.1 L50.2,154.1 L51.0,154.1 L51.8,154.1 L52.5,154.1 L53.2,154.1 L54.0,154.1 L54.8,154.1 L55.5,154.1 L56.2,154.1 L57.0,154.2 L57.8,154.2 L58.5,154.2 L59.2,154.2 L60.0,154.2 L60.8,154.2 L61.5,154.2 L62.2,154.2 L63.0,154.2 L63.8,154.2 L64.5,154.2 L65.2,154.2 L66.0,154.2 L66.8,154.2 L67.5,154.2 L68.2,154.2 L69.0,154.2 L69.8,154.2 L70.5,154.3 L71.2,154.3 L72.0,154.3 L72.8,154.3 L73.5,154.3 L74.2,154.3 L75.0,154.3 L75.8,154.3 L76.5,154.3 L77.2,154.3 L78.0,154.3 L78.8,154.3 L79.5,154.3 L80.2,154.3 L81.0,154.3 L81.8,154.3 L82.5,154.3 L83.2,154.3 L84.0,154.3 L84.8,154.4 L85.5,154.4 L86.2,154.4 L87.0,154.4 L87.8,154.4 L88.5,154.4 L89.2,154.4 L90.0,154.4 L90.8,154.4 L91.5,154.4 L92.2,154.4 L93.0,154.4 L93.8,154.4 L94.5,154.4 L95.2,154.4 L96.0,154.4 L96.8,154.4 L97.5,154.4 L98.2,154.5 L99.0,154.5 L99.8,154.5 L100.5,154.5 L101.2,154.5 L102.0,154.5 L102.8,154.5 L103.5,154.5 L104.2,154.5 L105.0,154.5 L105.8,154.5 L106.5,154.5 L107.2,154.5 L108.0,154.5 L108.8,154.5 L109.5,154.5 L110.2,154.5 L111.0,154.5 L111.8,154.6 L112.5,154.6 L113.2,154.6 L114.0,154.6 L114.8,154.6 L115.5,154.6 L116.2,154.6 L117.0,154.6 L117.8,154.6 L118.5,154.6 L119.2,154.6 L120.0,154.6 L120.8,154.6 L121.5,154.6 L122.2,154.6 L123.0,154.6 L123.8,154.6 L124.5,154.6 L125.2,154.6 L126.0,154.7 L126.8,154.7 L127.5,154.7 L128.2,154.7 L129.0,154.7 L129.8,154.7 L130.5,154.7 L131.2,154.7 L132.0,154.7 L132.8,154.7 L133.5,154.7 L134.2,154.7 L135.0,154.7 L135.8,154.7 L136.5,154.7 L137.2,154.7 L138.0,154.7 L138.8,154.7 L139.5,154.8 L140.2,154.8 L141.0,154.8 L141.8,154.8 L142.5,154.8 L143.2,154.8 L144.0,154.8 L144.8,154.8 L145.5,154.8 L146.2,154.8 L147.0,154.8 L147.8,154.8 L148.5,154.8 L149.2,154.8 L150.0,154.8 L150.8,154.8 L151.5,154.8 L152.2,154.8 L153.0,154.8 L153.8,154.7 L154.5,154.7 L155.2,154.7 L156.0,154.7 L156.8,154.6 L157.5,154.6 L158.2,154.5 L159.0,154.4 L159.8,154.3 L160.5,154.2 L161.2,154.1 L162.0,153.9 L162.8,153.7 L163.5,153.5 L164.2,153.3 L165.0,153.0 L165.8,152.7 L166.5,152.4 L167.2,152.0 L168.0,151.6 L168.8,151.1 L169.5,150.6 L170.2,150.1 L171.0,149.5 L171.8,148.9 L172.5,148.2 L173.2,147.5 L174.0,146.7 L174.8,145.9 L175.5,145.1 L176.2,144.3 L177.0,143.5 L177.8,142.6 L178.5,141.7 L179.2,140.9 L180.0,140.1 L180.8,139.3 L181.5,138.5 L182.2,137.8 L183.0,137.1 L183.8,136.6 L184.5,136.0 L185.2,135.6 L186.0,135.2 L186.8,135.0 L187.5,134.8 L188.2,134.7 L189.0,134.7 L189.8,134.9 L190.5,135.1 L191.2,135.4 L192.0,135.8 L192.8,136.3 L193.5,136.8 L194.2,137.4 L195.0,138.1 L195.8,138.9 L196.5,139.7 L197.2,140.5 L198.0,141.3 L198.8,142.2 L199.5,143.0 L200.2,143.9 L201.0,144.8 L201.8,145.6 L202.5,146.4 L203.2,147.2 L204.0,147.9 L204.8,148.6 L205.5,149.3 L206.2,150.0 L207.0,150.5 L207.8,151.1 L208.5,151.6 L209.2,152.0 L210.0,152.5 L210.8,152.8 L211.5,153.2 L212.2,153.5 L213.0,153.7 L213.8,154.0 L214.5,154.2 L215.2,154.4 L216.0,154.5 L216.8,154.6 L217.5,154.8 L218.2,154.9 L219.0,155.0 L219.8,155.0 L220.5,155.1 L221.2,155.1 L222.0,155.2 L222.8,155.2 L223.5,155.3 L224.2,155.3 L225.0,155.3 L225.8,155.3 L226.5,155.3 L227.2,155.4 L228.0,155.4 L228.8,155.4 L229.5,155.4 L230.2,155.4 L231.0,155.4 L231.8,155.4 L232.5,155.4 L233.2,155.4 L234.0,155.4 L234.8,155.4 L235.5,155.4 L236.2,155.5 L237.0,155.5 L237.8,155.5 L238.5,155.5 L239.2,155.5 L240.0,155.5 L240.8,155.5 L241.5,155.5 L242.2,155.5 L243.0,155.5 L243.8,155.5 L244.5,155.5 L245.2,155.5 L246.0,155.5 L246.8,155.5 L247.5,155.5 L248.2,155.5 L249.0,155.5 L249.8,155.6 L250.5,155.6 L251.2,155.6 L252.0,155.6 L252.8,155.6 L253.5,155.6 L254.2,155.6 L255.0,155.6 L255.8,155.6 L256.5,155.6 L257.2,155.6 L258.0,155.6 L258.8,155.6 L259.5,155.6 L260.2,155.6 L261.0,155.6 L261.8,155.6 L262.5,155.6 L263.2,155.7 L264.0,155.7 L264.8,155.7 L265.5,155.7 L266.2,155.7 L267.0,155.7 L267.8,155.7 L268.5,155.7 L269.2,155.7 L270.0,155.7 L270.0,155.7" fill="none" stroke="#ff7f00" stroke-width="2.20" stroke-linejoin="round"/>
</g>
<rect x="36.0" y="5.8" width="234.0" height="155.2" fill="none" stroke="#000" stroke-width="1.60"/>
<path d="M36.5,161.0 v-2.9 M54.5,161.0 v-1.9 M72.5,161.0 v-2.9 M90.4,161.0 v-1.9 M108.4,161.0 v-2.9 M126.4,161.0 v-1.9 M144.4,161.0 v-2.9 M162.4,161.0 v-1.9 M180.3,161.0 v-2.9 M198.3,161.0 v-1.9 M216.3,161.0 v-2.9 M234.3,161.0 v-1.9 M252.3,161.0 v-2.9 M270.2,161.0 v-1.9" stroke="#000" stroke-width="1" fill="none"/>
<text x="36.2" y="173.5" text-anchor="middle" font-size="11.0">294</text>
<text x="72.2" y="173.5" text-anchor="middle" font-size="11.0">292</text>
<text x="108.1" y="173.5" text-anchor="middle" font-size="11.0">290</text>
<text x="144.1" y="173.5" text-anchor="middle" font-size="11.0">288</text>
<text x="180.0" y="173.5" text-anchor="middle" font-size="11.0">286</text>
<text x="216.0" y="173.5" text-anchor="middle" font-size="11.0">284</text>
<text x="252.0" y="173.5" text-anchor="middle" font-size="11.0">282</text>
<text x="93.3" y="186.1" font-size="14.5" textLength="120.2" lengthAdjust="spacingAndGlyphs">Binding energy (eV)</text>
<text x="4.5" y="19.0" font-size="20.0">(a)</text>
<text x="237.6" y="27.2" font-size="11.1">C 1s</text>
<text x="41.0" y="125.2" font-size="9.3">ROCO<tspan font-size="70%" dy="2.8">2</tspan><tspan dy="-2.8">Li</tspan></text>
<text x="106.0" y="121.3" font-size="9.3">RCO<tspan font-size="70%" dy="2.8">2</tspan><tspan dy="-2.8">Li</tspan></text>
<text x="143.0" y="101.0" font-size="9.3">C=O</text>
<text x="189.0" y="73.0" font-size="9.3">C-C</text>
<text x="219.0" y="137.8" font-size="9.3">C-O</text>
<g clip-path="url(#clipb)">
<g fill="#fff" stroke="#666" stroke-width="0.60"><circle cx="308.0" cy="151.1" r="1.40"/><circle cx="309.3" cy="151.3" r="1.40"/><circle cx="310.6" cy="151.3" r="1.40"/><circle cx="311.9" cy="150.8" r="1.40"/><circle cx="313.2" cy="151.3" r="1.40"/><circle cx="314.5" cy="152.5" r="1.40"/><circle cx="315.8" cy="151.1" r="1.40"/><circle cx="317.1" cy="151.5" r="1.40"/><circle cx="318.4" cy="152.0" r="1.40"/><circle cx="319.7" cy="151.1" r="1.40"/><circle cx="321.0" cy="150.3" r="1.40"/><circle cx="322.3" cy="150.9" r="1.40"/><circle cx="323.6" cy="152.2" r="1.40"/><circle cx="324.9" cy="149.9" r="1.40"/><circle cx="326.2" cy="150.6" r="1.40"/><circle cx="327.5" cy="151.7" r="1.40"/><circle cx="328.8" cy="151.3" r="1.40"/><circle cx="330.1" cy="150.6" r="1.40"/><circle cx="331.4" cy="151.2" r="1.40"/><circle cx="332.7" cy="150.7" r="1.40"/><circle cx="334.0" cy="149.8" r="1.40"/><circle cx="335.3" cy="149.7" r="1.40"/><circle cx="336.6" cy="150.7" r="1.40"/><circle cx="337.9" cy="152.2" r="1.40"/><circle cx="339.2" cy="151.2" r="1.40"/><circle cx="340.5" cy="151.1" r="1.40"/><circle cx="341.8" cy="151.3" r="1.40"/><circle cx="343.1" cy="150.6" r="1.40"/><circle cx="344.4" cy="151.6" r="1.40"/><circle cx="345.7" cy="150.5" r="1.40"/><circle cx="347.0" cy="151.5" r="1.40"/><circle cx="348.3" cy="149.0" r="1.40"/><circle cx="349.6" cy="150.9" r="1.40"/><circle cx="350.9" cy="150.0" r="1.40"/><circle cx="352.2" cy="148.9" r="1.40"/><circle cx="353.5" cy="151.0" r="1.40"/><circle cx="354.8" cy="150.2" r="1.40"/><circle cx="356.1" cy="148.7" r="1.40"/><circle cx="357.4" cy="149.8" r="1.40"/><circle cx="358.7" cy="150.8" r="1.40"/><circle cx="360.0" cy="150.2" r="1.40"/><circle cx="361.3" cy="151.1" r="1.40"/><circle cx="362.6" cy="151.0" r="1.40"/><circle cx="363.9" cy="150.8" r="1.40"/><circle cx="365.2" cy="150.4" r="1.40"/><circle cx="366.5" cy="151.2" r="1.40"/><circle cx="367.8" cy="150.7" r="1.40"/><circle cx="369.1" cy="150.6" r="1.40"/><circle cx="370.4" cy="148.7" r="1.40"/><circle cx="371.7" cy="151.4" r="1.40"/><circle cx="373.0" cy="152.0" r="1.40"/><circle cx="374.3" cy="150.9" r="1.40"/><circle cx="375.6" cy="151.0" r="1.40"/><circle cx="376.9" cy="153.1" r="1.40"/><circle cx="378.2" cy="150.1" r="1.40"/><circle cx="379.5" cy="151.8" r="1.40"/><circle cx="380.8" cy="153.2" r="1.40"/><circle cx="382.1" cy="150.2" r="1.40"/><circle cx="383.4" cy="151.1" r="1.40"/><circle cx="384.7" cy="151.7" r="1.40"/><circle cx="386.0" cy="149.7" r="1.40"/><circle cx="387.3" cy="149.9" r="1.40"/><circle cx="388.5" cy="149.8" r="1.40"/><circle cx="389.8" cy="148.1" r="1.40"/><circle cx="391.0" cy="148.4" r="1.40"/><circle cx="392.2" cy="148.3" r="1.40"/><circle cx="393.4" cy="148.3" r="1.40"/><circle cx="394.5" cy="147.0" r="1.40"/><circle cx="395.6" cy="146.2" r="1.40"/><circle cx="396.6" cy="144.7" r="1.40"/><circle cx="397.6" cy="144.4" r="1.40"/><circle cx="398.5" cy="144.4" r="1.40"/><circle cx="399.3" cy="142.7" r="1.40"/><circle cx="400.1" cy="140.9" r="1.40"/><circle cx="400.9" cy="139.7" r="1.40"/><circle cx="401.6" cy="141.4" r="1.40"/><circle cx="402.3" cy="139.0" r="1.40"/><circle cx="402.9" cy="137.5" r="1.40"/><circle cx="403.6" cy="133.7" r="1.40"/><circle cx="404.2" cy="135.2" r="1.40"/><circle cx="404.7" cy="133.9" r="1.40"/><circle cx="405.3" cy="133.7" r="1.40"/><circle cx="405.8" cy="131.5" r="1.40"/><circle cx="406.4" cy="130.0" r="1.40"/><circle cx="406.9" cy="129.3" r="1.40"/><circle cx="407.4" cy="126.2" r="1.40"/><circle cx="407.9" cy="127.4" r="1.40"/><circle cx="408.4" cy="125.7" r="1.40"/><circle cx="408.8" cy="123.8" r="1.40"/><circle cx="409.3" cy="124.2" r="1.40"/><circle cx="409.8" cy="123.5" r="1.40"/><circle cx="410.2" cy="119.7" r="1.40"/><circle cx="410.7" cy="119.2" r="1.40"/><circle cx="411.1" cy="118.7" r="1.40"/><circle cx="411.6" cy="117.5" r="1.40"/><circle cx="412.0" cy="115.8" r="1.40"/><circle cx="412.5" cy="114.2" r="1.40"/><circle cx="412.9" cy="115.4" r="1.40"/><circle cx="413.4" cy="113.3" r="1.40"/><circle cx="413.8" cy="110.3" r="1.40"/><circle cx="414.3" cy="108.9" r="1.40"/><circle cx="414.7" cy="110.1" r="1.40"/><circle cx="415.2" cy="108.3" r="1.40"/><circle cx="415.7" cy="107.7" r="1.40"/><circle cx="416.2" cy="105.6" r="1.40"/><circle cx="416.7" cy="102.9" r="1.40"/><circle cx="417.2" cy="102.5" r="1.40"/><circle cx="417.7" cy="99.3" r="1.40"/><circle cx="418.2" cy="99.1" r="1.40"/><circle cx="418.8" cy="98.4" r="1.40"/><circle cx="419.4" cy="97.5" r="1.40"/><circle cx="420.1" cy="95.3" r="1.40"/><circle cx="420.8" cy="94.5" r="1.40"/><circle cx="421.6" cy="93.8" r="1.40"/><circle cx="422.4" cy="92.7" r="1.40"/><circle cx="423.4" cy="92.0" r="1.40"/><circle cx="424.6" cy="91.2" r="1.40"/><circle cx="425.9" cy="90.7" r="1.40"/><circle cx="427.2" cy="92.1" r="1.40"/><circle cx="428.3" cy="92.2" r="1.40"/><circle cx="429.4" cy="92.5" r="1.40"/><circle cx="430.4" cy="93.6" r="1.40"/><circle cx="431.4" cy="95.2" r="1.40"/><circle cx="432.4" cy="96.1" r="1.40"/><circle cx="433.3" cy="97.2" r="1.40"/><circle cx="434.3" cy="98.0" r="1.40"/><circle cx="435.4" cy="98.8" r="1.40"/><circle cx="436.5" cy="99.1" r="1.40"/><circle cx="437.7" cy="98.4" r="1.40"/><circle cx="439.0" cy="99.5" r="1.40"/><circle cx="440.2" cy="99.3" r="1.40"/><circle cx="441.2" cy="97.9" r="1.40"/><circle cx="442.0" cy="96.4" r="1.40"/><circle cx="442.7" cy="95.8" r="1.40"/><circle cx="443.3" cy="93.6" r="1.40"/><circle cx="443.9" cy="91.8" r="1.40"/><circle cx="444.5" cy="92.2" r="1.40"/><circle cx="445.0" cy="90.3" r="1.40"/><circle cx="445.5" cy="90.5" r="1.40"/><circle cx="446.0" cy="87.9" r="1.40"/><circle cx="446.5" cy="85.5" r="1.40"/><circle cx="446.9" cy="85.6" r="1.40"/><circle cx="447.4" cy="86.6" r="1.40"/><circle cx="447.8" cy="83.8" r="1.40"/><circle cx="448.3" cy="81.9" r="1.40"/><circle cx="448.8" cy="81.2" r="1.40"/><circle cx="449.2" cy="81.0" r="1.40"/><circle cx="449.7" cy="79.8" r="1.40"/><circle cx="450.3" cy="78.3" r="1.40"/><circle cx="450.8" cy="78.2" r="1.40"/><circle cx="451.4" cy="76.4" r="1.40"/><circle cx="452.1" cy="74.6" r="1.40"/><circle cx="452.9" cy="74.1" r="1.40"/><circle cx="453.9" cy="74.2" r="1.40"/><circle cx="455.2" cy="73.8" r="1.40"/><circle cx="456.2" cy="74.8" r="1.40"/><circle cx="456.8" cy="74.1" r="1.40"/><circle cx="457.4" cy="76.0" r="1.40"/><circle cx="457.9" cy="77.8" r="1.40"/><circle cx="458.3" cy="78.2" r="1.40"/><circle cx="458.7" cy="80.4" r="1.40"/><circle cx="459.1" cy="81.3" r="1.40"/><circle cx="459.4" cy="82.7" r="1.40"/><circle cx="459.8" cy="83.1" r="1.40"/><circle cx="460.1" cy="86.5" r="1.40"/><circle cx="460.4" cy="86.7" r="1.40"/><circle cx="460.7" cy="86.8" r="1.40"/><circle cx="461.1" cy="88.3" r="1.40"/><circle cx="461.4" cy="91.6" r="1.40"/><circle cx="461.7" cy="90.6" r="1.40"/><circle cx="461.9" cy="92.8" r="1.40"/><circle cx="462.2" cy="94.2" r="1.40"/><circle cx="462.5" cy="94.7" r="1.40"/><circle cx="462.8" cy="95.1" r="1.40"/><circle cx="463.1" cy="97.5" r="1.40"/><circle cx="463.4" cy="99.0" r="1.40"/><circle cx="463.7" cy="100.9" r="1.40"/><circle cx="463.9" cy="101.9" r="1.40"/><circle cx="464.2" cy="102.6" r="1.40"/><circle cx="464.5" cy="104.6" r="1.40"/><circle cx="464.8" cy="105.7" r="1.40"/><circle cx="465.1" cy="106.8" r="1.40"/><circle cx="465.4" cy="108.0" r="1.40"/><circle cx="465.6" cy="109.1" r="1.40"/><circle cx="465.9" cy="111.1" r="1.40"/><circle cx="466.2" cy="111.1" r="1.40"/><circle cx="466.5" cy="112.7" r="1.40"/><circle cx="466.8" cy="114.6" r="1.40"/><circle cx="467.1" cy="114.7" r="1.40"/><circle cx="467.4" cy="116.9" r="1.40"/><circle cx="467.7" cy="116.9" r="1.40"/><circle cx="468.1" cy="119.3" r="1.40"/><circle cx="468.4" cy="121.6" r="1.40"/><circle cx="468.7" cy="122.9" r="1.40"/><circle cx="469.1" cy="123.7" r="1.40"/><circle cx="469.4" cy="124.8" r="1.40"/><circle cx="469.8" cy="125.2" r="1.40"/><circle cx="470.1" cy="129.0" r="1.40"/><circle cx="470.5" cy="129.2" r="1.40"/><circle cx="470.9" cy="131.0" r="1.40"/><circle cx="471.3" cy="130.6" r="1.40"/><circle cx="471.7" cy="132.4" r="1.40"/><circle cx="472.2" cy="132.3" r="1.40"/><circle cx="472.7" cy="135.5" r="1.40"/><circle cx="473.1" cy="136.8" r="1.40"/><circle cx="473.6" cy="135.7" r="1.40"/><circle cx="474.2" cy="138.3" r="1.40"/><circle cx="474.7" cy="140.0" r="1.40"/><circle cx="475.4" cy="139.1" r="1.40"/><circle cx="476.0" cy="140.1" r="1.40"/><circle cx="476.7" cy="141.7" r="1.40"/><circle cx="477.4" cy="143.1" r="1.40"/><circle cx="478.3" cy="143.4" r="1.40"/><circle cx="479.1" cy="145.4" r="1.40"/><circle cx="480.1" cy="146.5" r="1.40"/><circle cx="481.1" cy="147.6" r="1.40"/><circle cx="482.2" cy="148.3" r="1.40"/><circle cx="483.3" cy="149.6" r="1.40"/><circle cx="484.5" cy="149.8" r="1.40"/><circle cx="485.7" cy="148.2" r="1.40"/><circle cx="487.0" cy="149.1" r="1.40"/><circle cx="488.3" cy="148.8" r="1.40"/><circle cx="489.5" cy="148.8" r="1.40"/><circle cx="490.8" cy="149.5" r="1.40"/><circle cx="492.1" cy="149.5" r="1.40"/><circle cx="493.4" cy="149.8" r="1.40"/><circle cx="494.7" cy="148.2" r="1.40"/><circle cx="496.0" cy="148.5" r="1.40"/><circle cx="497.3" cy="149.6" r="1.40"/><circle cx="498.6" cy="149.7" r="1.40"/><circle cx="499.9" cy="150.0" r="1.40"/><circle cx="501.2" cy="150.5" r="1.40"/><circle cx="502.5" cy="150.3" r="1.40"/><circle cx="503.8" cy="151.8" r="1.40"/><circle cx="505.1" cy="151.8" r="1.40"/><circle cx="506.4" cy="151.6" r="1.40"/><circle cx="507.7" cy="151.2" r="1.40"/><circle cx="509.0" cy="151.6" r="1.40"/><circle cx="510.3" cy="149.5" r="1.40"/><circle cx="511.6" cy="150.8" r="1.40"/><circle cx="512.9" cy="151.5" r="1.40"/><circle cx="514.2" cy="150.2" r="1.40"/><circle cx="515.5" cy="151.6" r="1.40"/><circle cx="516.8" cy="151.6" r="1.40"/><circle cx="518.1" cy="150.5" r="1.40"/><circle cx="519.4" cy="151.5" r="1.40"/><circle cx="520.7" cy="151.6" r="1.40"/><circle cx="522.0" cy="152.3" r="1.40"/><circle cx="523.3" cy="152.5" r="1.40"/><circle cx="524.6" cy="152.0" r="1.40"/><circle cx="525.9" cy="151.2" r="1.40"/><circle cx="527.2" cy="151.7" r="1.40"/><circle cx="528.5" cy="151.6" r="1.40"/><circle cx="529.8" cy="152.2" r="1.40"/><circle cx="531.1" cy="151.8" r="1.40"/><circle cx="532.4" cy="151.0" r="1.40"/><circle cx="533.7" cy="150.7" r="1.40"/><circle cx="535.0" cy="151.7" r="1.40"/><circle cx="536.3" cy="151.6" r="1.40"/></g>
<path d="M307.0,151.0 L307.8,151.0 L308.5,151.0 L309.2,151.0 L310.0,151.0 L310.8,151.0 L311.5,151.0 L312.2,151.0 L313.0,151.0 L313.8,151.0 L314.5,151.0 L315.2,151.0 L316.0,151.0 L316.8,151.1 L317.5,151.1 L318.2,151.1 L319.0,151.1 L319.8,151.1 L320.5,151.1 L321.2,151.1 L322.0,151.1 L322.8,151.1 L323.5,151.1 L324.2,151.1 L325.0,151.1 L325.8,151.1 L326.5,151.1 L327.2,151.1 L328.0,151.1 L328.8,151.1 L329.5,151.1 L330.2,151.1 L331.0,151.1 L331.8,151.1 L332.5,151.1 L333.2,151.1 L334.0,151.1 L334.8,151.1 L335.5,151.1 L336.2,151.1 L337.0,151.1 L337.8,151.1 L338.5,151.1 L339.2,151.1 L340.0,151.1 L340.8,151.1 L341.5,151.1 L342.2,151.1 L343.0,151.1 L343.8,151.1 L344.5,151.1 L345.2,151.1 L346.0,151.1 L346.8,151.1 L347.5,151.1 L348.2,151.1 L349.0,151.1 L349.8,151.1 L350.5,151.1 L351.2,151.1 L352.0,151.1 L352.8,151.1 L353.5,151.1 L354.2,151.1 L355.0,151.1 L355.8,151.1 L356.5,151.1 L357.2,151.0 L358.0,151.0 L358.8,151.0 L359.5,151.0 L360.2,151.0 L361.0,151.0 L361.8,151.0 L362.5,151.0 L363.2,151.0 L364.0,151.0 L364.8,151.0 L365.5,151.0 L366.2,151.0 L367.0,151.0 L367.8,151.0 L368.5,151.0 L369.2,151.0 L370.0,150.9 L370.8,150.9 L371.5,150.9 L372.2,150.9 L373.0,150.9 L373.8,150.9 L374.5,150.9 L375.2,150.8 L376.0,150.8 L376.8,150.8 L377.5,150.8 L378.2,150.7 L379.0,150.7 L379.8,150.7 L380.5,150.6 L381.2,150.6 L382.0,150.5 L382.8,150.5 L383.5,150.4 L384.2,150.3 L385.0,150.2 L385.8,150.1 L386.5,150.0 L387.2,149.8 L388.0,149.7 L388.8,149.5 L389.5,149.3 L390.2,149.0 L391.0,148.8 L391.8,148.5 L392.5,148.1 L393.2,147.7 L394.0,147.3 L394.8,146.8 L395.5,146.3 L396.2,145.7 L397.0,145.0 L397.8,144.3 L398.5,143.4 L399.2,142.6 L400.0,141.6 L400.8,140.6 L401.5,139.4 L402.2,138.2 L403.0,136.9 L403.8,135.5 L404.5,134.1 L405.2,132.5 L406.0,130.9 L406.8,129.1 L407.5,127.4 L408.2,125.5 L409.0,123.6 L409.8,121.6 L410.5,119.6 L411.2,117.6 L412.0,115.6 L412.8,113.5 L413.5,111.5 L414.2,109.4 L415.0,107.5 L415.8,105.5 L416.5,103.7 L417.2,101.9 L418.0,100.3 L418.8,98.8 L419.5,97.3 L420.2,96.1 L421.0,95.0 L421.8,94.1 L422.5,93.3 L423.2,92.7 L424.0,92.4 L424.8,92.2 L425.5,92.1 L426.2,92.2 L427.0,92.4 L427.8,92.7 L428.5,93.2 L429.2,93.7 L430.0,94.3 L430.8,95.0 L431.5,95.6 L432.2,96.3 L433.0,97.0 L433.8,97.7 L434.5,98.3 L435.2,98.8 L436.0,99.2 L436.8,99.5 L437.5,99.6 L438.2,99.6 L439.0,99.4 L439.8,99.1 L440.5,98.5 L441.2,97.7 L442.0,96.7 L442.8,95.5 L443.5,94.2 L444.2,92.6 L445.0,90.9 L445.8,89.1 L446.5,87.2 L447.2,85.2 L448.0,83.2 L448.8,81.3 L449.5,79.4 L450.2,77.6 L451.0,76.1 L451.8,74.7 L452.5,73.7 L453.2,73.0 L454.0,72.7 L454.8,72.8 L455.5,73.4 L456.2,74.4 L457.0,75.7 L457.8,77.5 L458.5,79.6 L459.2,82.0 L460.0,84.7 L460.8,87.7 L461.5,90.8 L462.2,94.0 L463.0,97.4 L463.8,100.7 L464.5,104.1 L465.2,107.5 L466.0,110.8 L466.8,114.0 L467.5,117.1 L468.2,120.1 L469.0,122.9 L469.8,125.6 L470.5,128.1 L471.2,130.4 L472.0,132.6 L472.8,134.6 L473.5,136.4 L474.2,138.1 L475.0,139.6 L475.8,140.9 L476.5,142.1 L477.2,143.2 L478.0,144.1 L478.8,145.0 L479.5,145.7 L480.2,146.4 L481.0,146.9 L481.8,147.4 L482.5,147.9 L483.2,148.2 L484.0,148.6 L484.8,148.9 L485.5,149.1 L486.2,149.3 L487.0,149.5 L487.8,149.7 L488.5,149.8 L489.2,150.0 L490.0,150.1 L490.8,150.2 L491.5,150.3 L492.2,150.4 L493.0,150.5 L493.8,150.5 L494.5,150.6 L495.2,150.7 L496.0,150.7 L496.8,150.8 L497.5,150.8 L498.2,150.9 L499.0,150.9 L499.8,151.0 L500.5,151.0 L501.2,151.1 L502.0,151.1 L502.8,151.2 L503.5,151.2 L504.2,151.2 L505.0,151.3 L505.8,151.3 L506.5,151.3 L507.2,151.4 L508.0,151.4 L508.8,151.4 L509.5,151.5 L510.2,151.5 L511.0,151.5 L511.8,151.5 L512.5,151.6 L513.2,151.6 L514.0,151.6 L514.8,151.6 L515.5,151.7 L516.2,151.7 L517.0,151.7 L517.8,151.7 L518.5,151.8 L519.2,151.8 L520.0,151.8 L520.8,151.8 L521.5,151.8 L522.2,151.8 L523.0,151.9 L523.8,151.9 L524.5,151.9 L525.2,151.9 L526.0,151.9 L526.8,151.9 L527.5,152.0 L528.2,152.0 L529.0,152.0 L529.8,152.0 L530.5,152.0 L531.2,152.0 L532.0,152.1 L532.8,152.1 L533.5,152.1 L534.2,152.1 L535.0,152.1 L535.8,152.1 L536.5,152.1 L537.0,152.1" fill="none" stroke="#ff0000" stroke-width="1.50" stroke-linejoin="round"/>
<path d="M331.0,151.2 L331.8,151.2 L332.5,151.2 L333.2,151.2 L334.0,151.2 L334.8,151.2 L335.5,151.2 L336.2,151.2 L337.0,151.2 L337.8,151.2 L338.5,151.2 L339.2,151.2 L340.0,151.2 L340.8,151.2 L341.5,151.2 L342.2,151.2 L343.0,151.2 L343.8,151.2 L344.5,151.2 L345.2,151.2 L346.0,151.2 L346.8,151.2 L347.5,151.2 L348.2,151.2 L349.0,151.3 L349.8,151.3 L350.5,151.3 L351.2,151.3 L352.0,151.3 L352.8,151.3 L353.5,151.3 L354.2,151.3 L355.0,151.3 L355.8,151.3 L356.5,151.3 L357.2,151.3 L358.0,151.3 L358.8,151.3 L359.5,151.3 L360.2,151.3 L361.0,151.3 L361.8,151.3 L362.5,151.3 L363.2,151.3 L364.0,151.3 L364.8,151.3 L365.5,151.3 L366.2,151.3 L367.0,151.3 L367.8,151.3 L368.5,151.3 L369.2,151.3 L370.0,151.3 L370.8,151.3 L371.5,151.3 L372.2,151.3 L373.0,151.3 L373.8,151.3 L374.5,151.3 L375.2,151.3 L376.0,151.3 L376.8,151.3 L377.5,151.2 L378.2,151.2 L379.0,151.2 L379.8,151.2 L380.5,151.2 L381.2,151.2 L382.0,151.2 L382.8,151.2 L383.5,151.2 L384.2,151.2 L385.0,151.2 L385.8,151.2 L386.5,151.2 L387.2,151.2 L388.0,151.2 L388.8,151.2 L389.5,151.2 L390.2,151.2 L391.0,151.2 L391.8,151.2 L392.5,151.1 L393.2,151.1 L394.0,151.1 L394.8,151.1 L395.5,151.1 L396.2,151.1 L397.0,151.1 L397.8,151.1 L398.5,151.1 L399.2,151.0 L400.0,151.0 L400.8,151.0 L401.5,151.0 L402.2,151.0 L403.0,151.0 L403.8,150.9 L404.5,150.9 L405.2,150.9 L406.0,150.9 L406.8,150.9 L407.5,150.8 L408.2,150.8 L409.0,150.8 L409.8,150.8 L410.5,150.7 L411.2,150.7 L412.0,150.7 L412.8,150.6 L413.5,150.6 L414.2,150.6 L415.0,150.5 L415.8,150.5 L416.5,150.4 L417.2,150.4 L418.0,150.3 L418.8,150.2 L419.5,150.2 L420.2,150.1 L421.0,150.0 L421.8,149.9 L422.5,149.8 L423.2,149.7 L424.0,149.5 L424.8,149.3 L425.5,149.1 L426.2,148.9 L427.0,148.7 L427.8,148.4 L428.5,148.0 L429.2,147.6 L430.0,147.1 L430.8,146.6 L431.5,146.0 L432.2,145.2 L433.0,144.4 L433.8,143.5 L434.5,142.4 L435.2,141.2 L436.0,139.8 L436.8,138.3 L437.5,136.7 L438.2,134.8 L439.0,132.8 L439.8,130.6 L440.5,128.2 L441.2,125.7 L442.0,122.9 L442.8,120.1 L443.5,117.1 L444.2,113.9 L445.0,110.7 L445.8,107.5 L446.5,104.1 L447.2,100.8 L448.0,97.6 L448.8,94.5 L449.5,91.4 L450.2,88.7 L451.0,86.1 L451.8,83.9 L452.5,82.0 L453.2,80.5 L454.0,79.5 L454.8,79.0 L455.5,78.9 L456.2,79.4 L457.0,80.2 L457.8,81.5 L458.5,83.2 L459.2,85.3 L460.0,87.7 L460.8,90.3 L461.5,93.1 L462.2,96.1 L463.0,99.3 L463.8,102.4 L464.5,105.7 L465.2,108.9 L466.0,112.0 L466.8,115.1 L467.5,118.1 L468.2,121.0 L469.0,123.8 L469.8,126.4 L470.5,128.8 L471.2,131.1 L472.0,133.2 L472.8,135.2 L473.5,137.0 L474.2,138.6 L475.0,140.1 L475.8,141.4 L476.5,142.6 L477.2,143.6 L478.0,144.6 L478.8,145.4 L479.5,146.1 L480.2,146.8 L481.0,147.3 L481.8,147.8 L482.5,148.2 L483.2,148.6 L484.0,148.9 L484.8,149.2 L485.5,149.4 L486.2,149.6 L487.0,149.8 L487.8,150.0 L488.5,150.1 L489.2,150.2 L490.0,150.4 L490.8,150.5 L491.5,150.5 L492.2,150.6 L493.0,150.7 L493.8,150.8 L494.5,150.8 L495.2,150.9 L496.0,151.0 L496.8,151.0 L497.5,151.1 L498.2,151.1 L499.0,151.2 L499.8,151.2 L500.5,151.2 L501.2,151.3 L502.0,151.3 L502.8,151.4 L503.5,151.4 L504.2,151.4 L505.0,151.5 L505.8,151.5 L506.5,151.5 L507.2,151.5 L508.0,151.6 L508.8,151.6 L509.5,151.6 L510.2,151.7 L511.0,151.7 L511.8,151.7 L512.5,151.7 L513.2,151.7 L514.0,151.8 L514.8,151.8 L515.5,151.8 L516.2,151.8 L517.0,151.8 L517.8,151.9 L518.5,151.9 L519.2,151.9 L520.0,151.9 L520.8,151.9 L521.5,152.0 L522.2,152.0 L523.0,152.0 L523.8,152.0 L524.5,152.0 L525.2,152.0 L526.0,152.1 L526.8,152.1 L527.5,152.1 L528.2,152.1 L529.0,152.1 L529.8,152.1 L530.5,152.1 L531.2,152.1 L532.0,152.2 L532.8,152.2 L533.5,152.2 L534.2,152.2 L535.0,152.2 L535.8,152.2 L536.5,152.2 L537.0,152.2 L537.0,152.6 L331.0,151.3 Z" fill="url(#g6)" fill-opacity="0.95" stroke="none"/>
<path d="M374.5,151.3 L375.2,151.3 L376.0,151.3 L376.8,151.3 L377.5,151.2 L378.2,151.2 L379.0,151.2 L379.8,151.2 L380.5,151.2 L381.2,151.2 L382.0,151.2 L382.8,151.2 L383.5,151.2 L384.2,151.2 L385.0,151.2 L385.8,151.2 L386.5,151.2 L387.2,151.2 L388.0,151.2 L388.8,151.2 L389.5,151.2 L390.2,151.2 L391.0,151.2 L391.8,151.2 L392.5,151.1 L393.2,151.1 L394.0,151.1 L394.8,151.1 L395.5,151.1 L396.2,151.1 L397.0,151.1 L397.8,151.1 L398.5,151.1 L399.2,151.0 L400.0,151.0 L400.8,151.0 L401.5,151.0 L402.2,151.0 L403.0,151.0 L403.8,150.9 L404.5,150.9 L405.2,150.9 L406.0,150.9 L406.8,150.9 L407.5,150.8 L408.2,150.8 L409.0,150.8 L409.8,150.8 L410.5,150.7 L411.2,150.7 L412.0,150.7 L412.8,150.6 L413.5,150.6 L414.2,150.6 L415.0,150.5 L415.8,150.5 L416.5,150.4 L417.2,150.4 L418.0,150.3 L418.8,150.2 L419.5,150.2 L420.2,150.1 L421.0,150.0 L421.8,149.9 L422.5,149.8 L423.2,149.7 L424.0,149.5 L424.8,149.3 L425.5,149.1 L426.2,148.9 L427.0,148.7 L427.8,148.4 L428.5,148.0 L429.2,147.6 L430.0,147.1 L430.8,146.6 L431.5,146.0 L432.2,145.2 L433.0,144.4 L433.8,143.5 L434.5,142.4 L435.2,141.2 L436.0,139.8 L436.8,138.3 L437.5,136.7 L438.2,134.8 L439.0,132.8 L439.8,130.6 L440.5,128.2 L441.2,125.7 L442.0,122.9 L442.8,120.1 L443.5,117.1 L444.2,113.9 L445.0,110.7 L445.8,107.5 L446.5,104.1 L447.2,100.8 L448.0,97.6 L448.8,94.5 L449.5,91.4 L450.2,88.7 L451.0,86.1 L451.8,83.9 L452.5,82.0 L453.2,80.5 L454.0,79.5 L454.8,79.0 L455.5,78.9 L456.2,79.4 L457.0,80.2 L457.8,81.5 L458.5,83.2 L459.2,85.3 L460.0,87.7 L460.8,90.3 L461.5,93.1 L462.2,96.1 L463.0,99.3 L463.8,102.4 L464.5,105.7 L465.2,108.9 L466.0,112.0 L466.8,115.1 L467.5,118.1 L468.2,121.0 L469.0,123.8 L469.8,126.4 L470.5,128.8 L471.2,131.1 L472.0,133.2 L472.8,135.2 L473.5,137.0 L474.2,138.6 L475.0,140.1 L475.8,141.4 L476.5,142.6 L477.2,143.6 L478.0,144.6 L478.8,145.4 L479.5,146.1 L480.2,146.8 L481.0,147.3 L481.8,147.8 L482.5,148.2 L483.2,148.6 L484.0,148.9 L484.8,149.2 L485.5,149.4 L486.2,149.6 L487.0,149.8 L487.8,150.0 L488.5,150.1 L489.2,150.2 L490.0,150.4 L490.8,150.5 L491.5,150.5 L492.2,150.6 L493.0,150.7 L493.8,150.8 L494.5,150.8 L495.2,150.9 L496.0,151.0 L496.8,151.0 L497.5,151.1 L498.2,151.1 L499.0,151.2 L499.8,151.2 L500.5,151.2 L501.2,151.3 L502.0,151.3 L502.8,151.4 L503.5,151.4 L504.2,151.4 L505.0,151.5 L505.8,151.5 L506.5,151.5 L507.2,151.5 L508.0,151.6 L508.8,151.6 L509.5,151.6 L510.2,151.7 L511.0,151.7 L511.8,151.7 L512.5,151.7 L513.2,151.7 L514.0,151.8 L514.8,151.8 L515.5,151.8 L516.2,151.8 L517.0,151.8 L517.8,151.9 L518.5,151.9 L519.2,151.9 L520.0,151.9 L520.8,151.9 L521.5,152.0 L522.2,152.0 L523.0,152.0 L523.8,152.0 L524.5,152.0 L525.2,152.0 L526.0,152.1 L526.8,152.1 L527.5,152.1 L528.2,152.1 L529.0,152.1 L529.8,152.1 L530.5,152.1 L531.2,152.1 L532.0,152.2 L532.8,152.2 L533.5,152.2 L534.2,152.2 L535.0,152.2 L535.8,152.2 L536.5,152.2 L537.0,152.2" fill="none" stroke="#12a0ee" stroke-width="1.60" stroke-linejoin="round"/>
<path d="M343.8,151.3 L344.5,151.3 L345.2,151.3 L346.0,151.3 L346.8,151.3 L347.5,151.3 L348.2,151.3 L349.0,151.3 L349.8,151.3 L350.5,151.3 L351.2,151.3 L352.0,151.3 L352.8,151.3 L353.5,151.3 L354.2,151.3 L355.0,151.3 L355.8,151.3 L356.5,151.3 L357.2,151.3 L358.0,151.3 L358.8,151.3 L359.5,151.3 L360.2,151.3 L361.0,151.3 L361.8,151.3 L362.5,151.3 L363.2,151.3 L364.0,151.3 L364.8,151.3 L365.5,151.3 L366.2,151.3 L367.0,151.3 L367.8,151.3 L368.5,151.3 L369.2,151.3 L370.0,151.3 L370.8,151.3 L371.5,151.2 L372.2,151.2 L373.0,151.2 L373.8,151.2 L374.5,151.2 L375.2,151.2 L376.0,151.2 L376.8,151.2 L377.5,151.2 L378.2,151.1 L379.0,151.1 L379.8,151.1 L380.5,151.0 L381.2,151.0 L382.0,151.0 L382.8,150.9 L383.5,150.8 L384.2,150.8 L385.0,150.7 L385.8,150.6 L386.5,150.5 L387.2,150.3 L388.0,150.2 L388.8,150.0 L389.5,149.8 L390.2,149.6 L391.0,149.3 L391.8,149.0 L392.5,148.7 L393.2,148.3 L394.0,147.9 L394.8,147.4 L395.5,146.9 L396.2,146.3 L397.0,145.7 L397.8,144.9 L398.5,144.1 L399.2,143.3 L400.0,142.3 L400.8,141.3 L401.5,140.2 L402.2,139.0 L403.0,137.7 L403.8,136.4 L404.5,134.9 L405.2,133.4 L406.0,131.8 L406.8,130.1 L407.5,128.3 L408.2,126.5 L409.0,124.6 L409.8,122.7 L410.5,120.7 L411.2,118.7 L412.0,116.7 L412.8,114.7 L413.5,112.7 L414.2,110.7 L415.0,108.8 L415.8,106.9 L416.5,105.2 L417.2,103.5 L418.0,101.9 L418.8,100.4 L419.5,99.1 L420.2,97.9 L421.0,96.9 L421.8,96.1 L422.5,95.4 L423.2,95.0 L424.0,94.8 L424.8,94.7 L425.5,94.9 L426.2,95.2 L427.0,95.7 L427.8,96.3 L428.5,97.1 L429.2,98.0 L430.0,99.1 L430.8,100.3 L431.5,101.6 L432.2,103.1 L433.0,104.6 L433.8,106.2 L434.5,107.9 L435.2,109.6 L436.0,111.4 L436.8,113.2 L437.5,115.0 L438.2,116.8 L439.0,118.6 L439.8,120.5 L440.5,122.3 L441.2,124.0 L442.0,125.8 L442.8,127.5 L443.5,129.1 L444.2,130.7 L445.0,132.2 L445.8,133.7 L446.5,135.1 L447.2,136.4 L448.0,137.7 L448.8,138.9 L449.5,140.0 L450.2,141.0 L451.0,142.0 L451.8,142.9 L452.5,143.8 L453.2,144.6 L454.0,145.3 L454.8,146.0 L455.5,146.6 L456.2,147.1 L457.0,147.6 L457.8,148.1 L458.5,148.5 L459.2,148.9 L460.0,149.2 L460.8,149.5 L461.5,149.8 L462.2,150.0 L463.0,150.2 L463.8,150.4 L464.5,150.6 L465.2,150.8 L466.0,150.9 L466.8,151.0 L467.5,151.1 L468.2,151.2 L469.0,151.3 L469.8,151.4 L470.5,151.4 L471.2,151.5 L472.0,151.5 L472.8,151.6 L473.5,151.6 L474.2,151.7 L475.0,151.7 L475.8,151.7 L476.5,151.8 L477.2,151.8 L478.0,151.8 L478.8,151.8 L479.5,151.8 L480.2,151.9 L481.0,151.9 L481.8,151.9 L482.5,151.9 L483.2,151.9 L484.0,151.9 L484.8,152.0 L485.5,152.0 L486.2,152.0 L487.0,152.0 L487.8,152.0 L488.5,152.0 L489.2,152.0 L490.0,152.0 L490.8,152.1 L491.5,152.1 L492.2,152.1 L493.0,152.1 L493.8,152.1 L494.5,152.1 L495.2,152.1 L496.0,152.1 L496.8,152.1 L497.5,152.1 L498.2,152.1 L499.0,152.2 L499.8,152.2 L500.5,152.2 L501.2,152.2 L502.0,152.2 L502.8,152.2 L503.5,152.2 L504.2,152.2 L505.0,152.2 L505.8,152.2 L506.5,152.2 L507.2,152.2 L508.0,152.3 L508.8,152.3 L509.5,152.3 L510.2,152.3 L511.0,152.3 L511.8,152.3 L512.5,152.3 L513.2,152.3 L514.0,152.3 L514.0,152.5 L343.8,151.4 Z" fill="url(#g7)" fill-opacity="0.85" stroke="none"/>
<path d="M343.8,151.3 L344.5,151.3 L345.2,151.3 L346.0,151.3 L346.8,151.3 L347.5,151.3 L348.2,151.3 L349.0,151.3 L349.8,151.3 L350.5,151.3 L351.2,151.3 L352.0,151.3 L352.8,151.3 L353.5,151.3 L354.2,151.3 L355.0,151.3 L355.8,151.3 L356.5,151.3 L357.2,151.3 L358.0,151.3 L358.8,151.3 L359.5,151.3 L360.2,151.3 L361.0,151.3 L361.8,151.3 L362.5,151.3 L363.2,151.3 L364.0,151.3 L364.8,151.3 L365.5,151.3 L366.2,151.3 L367.0,151.3 L367.8,151.3 L368.5,151.3 L369.2,151.3 L370.0,151.3 L370.8,151.3 L371.5,151.3 L372.2,151.3 L373.0,151.3 L373.8,151.3 L374.5,151.3 L375.2,151.3 L376.0,151.3 L376.8,151.3 L377.5,151.2 L378.2,151.2 L379.0,151.2 L379.8,151.2 L380.5,151.2 L381.2,151.2 L382.0,151.2 L382.8,151.2 L383.5,151.2 L384.2,151.2 L385.0,151.2 L385.8,151.2 L386.5,151.2 L387.2,151.2 L388.0,151.2 L388.8,151.2 L389.5,151.2 L390.2,151.2 L391.0,151.2 L391.8,151.2 L392.5,151.1 L393.2,151.1 L394.0,151.1 L394.8,151.1 L395.5,151.1 L396.2,151.1 L397.0,151.1 L397.8,151.1 L398.5,151.1 L399.2,151.0 L400.0,151.0 L400.8,151.0 L401.5,151.0 L402.2,151.0 L403.0,151.0 L403.8,150.9 L404.5,150.9 L405.2,150.9 L406.0,150.9 L406.8,150.9 L407.5,150.8 L408.2,150.8 L409.0,150.8 L409.8,150.8 L410.5,150.7 L411.2,150.7 L412.0,150.7 L412.8,150.6 L413.5,150.6 L414.2,150.6 L415.0,150.5 L415.8,150.5 L416.5,150.4 L417.2,150.4 L418.0,150.3 L418.8,150.2 L419.5,150.2 L420.2,150.1 L421.0,150.0 L421.8,149.9 L422.5,149.8 L423.2,149.7 L424.0,149.5 L424.8,149.3 L425.5,149.1 L426.2,148.9 L427.0,148.7 L427.8,148.4 L428.5,148.0 L429.2,147.6 L430.0,147.1 L430.8,146.6 L431.5,146.0 L432.2,145.2 L433.0,144.4 L433.8,143.5 L434.5,142.4 L435.2,141.2 L436.0,139.8 L436.8,138.3 L437.5,136.7 L438.2,134.8 L439.0,132.8 L439.8,130.6 L440.5,128.2 L441.2,125.7 L442.0,125.8 L442.8,127.5 L443.5,129.1 L444.2,130.7 L445.0,132.2 L445.8,133.7 L446.5,135.1 L447.2,136.4 L448.0,137.7 L448.8,138.9 L449.5,140.0 L450.2,141.0 L451.0,142.0 L451.8,142.9 L452.5,143.8 L453.2,144.6 L454.0,145.3 L454.8,146.0 L455.5,146.6 L456.2,147.1 L457.0,147.6 L457.8,148.1 L458.5,148.5 L459.2,148.9 L460.0,149.2 L460.8,149.5 L461.5,149.8 L462.2,150.0 L463.0,150.2 L463.8,150.4 L464.5,150.6 L465.2,150.8 L466.0,150.9 L466.8,151.0 L467.5,151.1 L468.2,151.2 L469.0,151.3 L469.8,151.4 L470.5,151.4 L471.2,151.5 L472.0,151.5 L472.8,151.6 L473.5,151.6 L474.2,151.7 L475.0,151.7 L475.8,151.7 L476.5,151.8 L477.2,151.8 L478.0,151.8 L478.8,151.8 L479.5,151.8 L480.2,151.9 L481.0,151.9 L481.8,151.9 L482.5,151.9 L483.2,151.9 L484.0,151.9 L484.8,152.0 L485.5,152.0 L486.2,152.0 L487.0,152.0 L487.8,152.0 L488.5,152.0 L489.2,152.0 L490.0,152.0 L490.8,152.1 L491.5,152.1 L492.2,152.1 L493.0,152.1 L493.8,152.1 L494.5,152.1 L495.2,152.1 L496.0,152.1 L496.8,152.1 L497.5,152.1 L498.2,152.1 L499.0,152.2 L499.8,152.2 L500.5,152.2 L501.2,152.2 L502.0,152.2 L502.8,152.2 L503.5,152.2 L504.2,152.2 L505.0,152.2 L505.8,152.2 L506.5,152.2 L507.2,152.2 L508.0,152.3 L508.8,152.3 L509.5,152.3 L510.2,152.3 L511.0,152.3 L511.8,152.3 L512.5,152.3 L513.2,152.3 L514.0,152.3 L514.0,152.5 L343.8,151.4 Z" fill="#0a7a50" fill-opacity="0.45" stroke="none"/>
<path d="M307.0,151.1 L307.8,151.1 L308.5,151.1 L309.2,151.1 L310.0,151.1 L310.8,151.1 L311.5,151.1 L312.2,151.2 L313.0,151.2 L313.8,151.2 L314.5,151.2 L315.2,151.2 L316.0,151.2 L316.8,151.2 L317.5,151.2 L318.2,151.2 L319.0,151.2 L319.8,151.2 L320.5,151.2 L321.2,151.2 L322.0,151.2 L322.8,151.2 L323.5,151.2 L324.2,151.2 L325.0,151.2 L325.8,151.2 L326.5,151.2 L327.2,151.2 L328.0,151.2 L328.8,151.2 L329.5,151.2 L330.2,151.2 L331.0,151.2 L331.8,151.2 L332.5,151.2 L333.2,151.2 L334.0,151.2 L334.8,151.2 L335.5,151.2 L336.2,151.3 L337.0,151.3 L337.8,151.3 L338.5,151.3 L339.2,151.3 L340.0,151.3 L340.8,151.3 L341.5,151.3 L342.2,151.3 L343.0,151.3 L343.8,151.3 L344.5,151.3 L345.2,151.3 L346.0,151.3 L346.8,151.3 L347.5,151.3 L348.2,151.3 L349.0,151.3 L349.8,151.3 L350.5,151.3 L351.2,151.3 L352.0,151.3 L352.8,151.3 L353.5,151.3 L354.2,151.3 L355.0,151.3 L355.8,151.3 L356.5,151.3 L357.2,151.3 L358.0,151.3 L358.8,151.3 L359.5,151.3 L360.2,151.3 L361.0,151.3 L361.8,151.3 L362.5,151.3 L363.2,151.3 L364.0,151.3 L364.8,151.3 L365.5,151.3 L366.2,151.3 L367.0,151.3 L367.8,151.3 L368.5,151.3 L369.2,151.3 L370.0,151.3 L370.8,151.3 L371.5,151.2 L372.2,151.2 L373.0,151.2 L373.8,151.2 L374.5,151.2 L375.2,151.2 L376.0,151.2 L376.8,151.2 L377.5,151.2 L378.2,151.1 L379.0,151.1 L379.8,151.1 L380.5,151.0 L381.2,151.0 L382.0,151.0 L382.8,150.9 L383.5,150.8 L384.2,150.8 L385.0,150.7 L385.8,150.6 L386.5,150.5 L387.2,150.3 L388.0,150.2 L388.8,150.0 L389.5,149.8 L390.2,149.6 L391.0,149.3 L391.8,149.0 L392.5,148.7 L393.2,148.3 L394.0,147.9 L394.8,147.4 L395.5,146.9 L396.2,146.3 L397.0,145.7 L397.8,144.9 L398.5,144.1 L399.2,143.3 L400.0,142.3 L400.8,141.3 L401.5,140.2 L402.2,139.0 L403.0,137.7 L403.8,136.4 L404.5,134.9 L405.2,133.4 L406.0,131.8 L406.8,130.1 L407.5,128.3 L408.2,126.5 L409.0,124.6 L409.8,122.7 L410.5,120.7 L411.2,118.7 L412.0,116.7 L412.8,114.7 L413.5,112.7 L414.2,110.7 L415.0,108.8 L415.8,106.9 L416.5,105.2 L417.2,103.5 L418.0,101.9 L418.8,100.4 L419.5,99.1 L420.2,97.9 L421.0,96.9 L421.8,96.1 L422.5,95.4 L423.2,95.0 L424.0,94.8 L424.8,94.7 L425.5,94.9 L426.2,95.2 L427.0,95.7 L427.8,96.3 L428.5,97.1 L429.2,98.0 L430.0,99.1 L430.8,100.3 L431.5,101.6 L432.2,103.1 L433.0,104.6 L433.8,106.2 L434.5,107.9 L435.2,109.6 L436.0,111.4 L436.8,113.2 L437.5,115.0 L438.2,116.8 L439.0,118.6 L439.8,120.5 L440.5,122.3 L441.2,124.0 L442.0,125.8 L442.8,127.5 L443.5,129.1 L444.2,130.7 L445.0,132.2 L445.8,133.7 L446.5,135.1 L447.2,136.4 L448.0,137.7 L448.8,138.9 L449.5,140.0 L450.2,141.0 L451.0,142.0 L451.8,142.9 L452.5,143.8 L453.2,144.6 L454.0,145.3 L454.8,146.0 L455.5,146.6 L456.2,147.1 L457.0,147.6 L457.8,148.1 L458.5,148.5 L459.2,148.9 L460.0,149.2 L460.8,149.5 L461.5,149.8 L462.2,150.0 L463.0,150.2 L463.8,150.4 L464.5,150.6 L465.2,150.8 L466.0,150.9 L466.8,151.0 L467.5,151.1 L468.2,151.2 L469.0,151.3 L469.8,151.4 L470.5,151.4 L471.2,151.5 L472.0,151.5 L472.8,151.6 L473.5,151.6 L474.2,151.7 L475.0,151.7 L475.8,151.7 L476.5,151.8 L477.2,151.8 L478.0,151.8 L478.8,151.8 L479.5,151.8 L480.2,151.9 L481.0,151.9 L481.8,151.9 L482.5,151.9 L483.2,151.9 L484.0,151.9 L484.8,152.0 L485.5,152.0 L486.2,152.0 L487.0,152.0 L487.8,152.0 L488.5,152.0 L489.2,152.0 L490.0,152.0 L490.8,152.1 L491.5,152.1 L492.2,152.1 L493.0,152.1 L493.8,152.1 L494.5,152.1 L495.2,152.1 L496.0,152.1 L496.8,152.1 L497.5,152.1 L498.2,152.1 L499.0,152.2 L499.8,152.2 L500.5,152.2 L501.2,152.2 L502.0,152.2 L502.8,152.2 L503.5,152.2 L504.2,152.2 L505.0,152.2 L505.8,152.2 L506.5,152.2 L507.2,152.2 L508.0,152.3 L508.8,152.3 L509.5,152.3 L510.2,152.3 L511.0,152.3 L511.8,152.3 L512.5,152.3 L513.2,152.3 L514.0,152.3 L514.8,152.3 L515.5,152.3 L516.2,152.3 L517.0,152.3 L517.8,152.3 L518.5,152.4 L519.2,152.4 L520.0,152.4 L520.8,152.4 L521.5,152.4 L522.2,152.4 L523.0,152.4 L523.8,152.4 L524.5,152.4 L525.2,152.4 L526.0,152.4 L526.8,152.4 L527.5,152.4 L528.2,152.4 L529.0,152.4 L529.8,152.4 L530.5,152.5 L531.2,152.5 L532.0,152.5 L532.8,152.5 L533.5,152.5 L534.2,152.5 L535.0,152.5 L535.8,152.5 L536.5,152.5 L537.0,152.5" fill="none" stroke="#008000" stroke-width="1.70" stroke-linejoin="round"/>
</g>
<rect x="307.0" y="7.5" width="230.0" height="153.8" fill="none" stroke="#000" stroke-width="1.60"/>
<path d="M307.0,161.3 v-2.9 M323.4,161.3 v-1.9 M339.9,161.3 v-2.9 M356.3,161.3 v-1.9 M372.7,161.3 v-2.9 M389.1,161.3 v-1.9 M405.6,161.3 v-2.9 M422.0,161.3 v-1.9 M438.4,161.3 v-2.9 M454.9,161.3 v-1.9 M471.3,161.3 v-2.9 M487.7,161.3 v-1.9 M504.1,161.3 v-2.9 M520.6,161.3 v-1.9 M537.0,161.3 v-2.9" stroke="#000" stroke-width="1" fill="none"/>
<text x="306.5" y="174.3" text-anchor="middle" font-size="11.0">694</text>
<text x="339.4" y="174.3" text-anchor="middle" font-size="11.0">692</text>
<text x="372.2" y="174.3" text-anchor="middle" font-size="11.0">690</text>
<text x="405.1" y="174.3" text-anchor="middle" font-size="11.0">688</text>
<text x="437.9" y="174.3" text-anchor="middle" font-size="11.0">686</text>
<text x="470.8" y="174.3" text-anchor="middle" font-size="11.0">684</text>
<text x="503.6" y="174.3" text-anchor="middle" font-size="11.0">682</text>
<text x="536.5" y="174.3" text-anchor="middle" font-size="11.0">680</text>
<text x="362.4" y="186.6" font-size="14.5" textLength="119.5" lengthAdjust="spacingAndGlyphs">Binding energy (eV)</text>
<text x="276.0" y="20.0" font-size="20.5">(b)</text>
<text x="509.0" y="21.0" font-size="10.5">F 1s</text>
<text x="370.0" y="81.5" font-size="9.0">Li<tspan font-size="70%" dy="2.8">x</tspan><tspan dy="-2.8">PF</tspan><tspan font-size="70%" dy="2.8">y</tspan></text>
<text x="479.0" y="42.5" font-size="9.0">LiF</text>
<g clip-path="url(#clipc)">
<g fill="#fff" stroke="#666" stroke-width="0.60"><circle cx="36.5" cy="351.2" r="1.40"/><circle cx="37.7" cy="350.9" r="1.40"/><circle cx="38.9" cy="350.4" r="1.40"/><circle cx="40.1" cy="351.5" r="1.40"/><circle cx="41.3" cy="349.8" r="1.40"/><circle cx="42.5" cy="349.7" r="1.40"/><circle cx="43.7" cy="348.6" r="1.40"/><circle cx="44.9" cy="350.4" r="1.40"/><circle cx="46.1" cy="351.0" r="1.40"/><circle cx="47.3" cy="350.4" r="1.40"/><circle cx="48.5" cy="350.7" r="1.40"/><circle cx="49.7" cy="351.4" r="1.40"/><circle cx="50.9" cy="351.6" r="1.40"/><circle cx="52.1" cy="351.0" r="1.40"/><circle cx="53.3" cy="350.8" r="1.40"/><circle cx="54.5" cy="350.9" r="1.40"/><circle cx="55.7" cy="349.3" r="1.40"/><circle cx="56.9" cy="350.6" r="1.40"/><circle cx="58.1" cy="351.7" r="1.40"/><circle cx="59.3" cy="351.7" r="1.40"/><circle cx="60.5" cy="349.2" r="1.40"/><circle cx="61.7" cy="350.6" r="1.40"/><circle cx="62.9" cy="350.5" r="1.40"/><circle cx="64.1" cy="350.2" r="1.40"/><circle cx="65.3" cy="351.4" r="1.40"/><circle cx="66.5" cy="350.3" r="1.40"/><circle cx="67.7" cy="350.8" r="1.40"/><circle cx="68.9" cy="350.6" r="1.40"/><circle cx="70.1" cy="349.7" r="1.40"/><circle cx="71.3" cy="350.4" r="1.40"/><circle cx="72.5" cy="350.0" r="1.40"/><circle cx="73.7" cy="350.3" r="1.40"/><circle cx="74.9" cy="349.5" r="1.40"/><circle cx="76.1" cy="350.2" r="1.40"/><circle cx="77.3" cy="349.6" r="1.40"/><circle cx="78.5" cy="349.6" r="1.40"/><circle cx="79.7" cy="349.8" r="1.40"/><circle cx="80.9" cy="348.6" r="1.40"/><circle cx="82.1" cy="351.3" r="1.40"/><circle cx="83.3" cy="351.4" r="1.40"/><circle cx="84.5" cy="350.2" r="1.40"/><circle cx="85.7" cy="349.2" r="1.40"/><circle cx="86.9" cy="350.7" r="1.40"/><circle cx="88.1" cy="351.5" r="1.40"/><circle cx="89.3" cy="348.8" r="1.40"/><circle cx="90.5" cy="352.3" r="1.40"/><circle cx="91.7" cy="350.0" r="1.40"/><circle cx="92.9" cy="350.0" r="1.40"/><circle cx="94.1" cy="349.7" r="1.40"/><circle cx="95.3" cy="350.3" r="1.40"/><circle cx="96.5" cy="350.2" r="1.40"/><circle cx="97.7" cy="349.9" r="1.40"/><circle cx="98.9" cy="350.0" r="1.40"/><circle cx="100.1" cy="349.1" r="1.40"/><circle cx="101.3" cy="350.0" r="1.40"/><circle cx="102.5" cy="349.2" r="1.40"/><circle cx="103.6" cy="349.2" r="1.40"/><circle cx="104.8" cy="349.9" r="1.40"/><circle cx="106.0" cy="348.9" r="1.40"/><circle cx="107.1" cy="348.9" r="1.40"/><circle cx="108.2" cy="349.1" r="1.40"/><circle cx="109.3" cy="346.8" r="1.40"/><circle cx="110.4" cy="346.9" r="1.40"/><circle cx="111.4" cy="344.9" r="1.40"/><circle cx="112.4" cy="346.5" r="1.40"/><circle cx="113.4" cy="343.5" r="1.40"/><circle cx="114.3" cy="342.6" r="1.40"/><circle cx="115.2" cy="342.6" r="1.40"/><circle cx="116.0" cy="343.2" r="1.40"/><circle cx="116.8" cy="341.7" r="1.40"/><circle cx="117.6" cy="339.5" r="1.40"/><circle cx="118.3" cy="340.1" r="1.40"/><circle cx="119.0" cy="338.6" r="1.40"/><circle cx="119.7" cy="337.6" r="1.40"/><circle cx="120.4" cy="338.7" r="1.40"/><circle cx="121.0" cy="336.8" r="1.40"/><circle cx="121.6" cy="335.9" r="1.40"/><circle cx="122.3" cy="334.9" r="1.40"/><circle cx="122.9" cy="333.1" r="1.40"/><circle cx="123.4" cy="332.8" r="1.40"/><circle cx="124.0" cy="331.2" r="1.40"/><circle cx="124.6" cy="328.3" r="1.40"/><circle cx="125.1" cy="329.0" r="1.40"/><circle cx="125.6" cy="329.0" r="1.40"/><circle cx="126.2" cy="326.6" r="1.40"/><circle cx="126.7" cy="326.6" r="1.40"/><circle cx="127.2" cy="324.2" r="1.40"/><circle cx="127.7" cy="323.6" r="1.40"/><circle cx="128.3" cy="322.4" r="1.40"/><circle cx="128.8" cy="321.4" r="1.40"/><circle cx="129.3" cy="320.5" r="1.40"/><circle cx="129.8" cy="318.2" r="1.40"/><circle cx="130.3" cy="317.8" r="1.40"/><circle cx="130.8" cy="317.8" r="1.40"/><circle cx="131.3" cy="315.9" r="1.40"/><circle cx="131.9" cy="314.0" r="1.40"/><circle cx="132.4" cy="313.1" r="1.40"/><circle cx="132.9" cy="312.1" r="1.40"/><circle cx="133.4" cy="311.1" r="1.40"/><circle cx="134.0" cy="309.8" r="1.40"/><circle cx="134.5" cy="308.8" r="1.40"/><circle cx="135.1" cy="307.6" r="1.40"/><circle cx="135.7" cy="306.2" r="1.40"/><circle cx="136.3" cy="306.2" r="1.40"/><circle cx="136.8" cy="305.1" r="1.40"/><circle cx="137.5" cy="302.5" r="1.40"/><circle cx="138.1" cy="301.6" r="1.40"/><circle cx="138.7" cy="301.6" r="1.40"/><circle cx="139.4" cy="299.6" r="1.40"/><circle cx="140.1" cy="299.3" r="1.40"/><circle cx="140.8" cy="298.3" r="1.40"/><circle cx="141.6" cy="297.7" r="1.40"/><circle cx="142.3" cy="296.2" r="1.40"/><circle cx="143.1" cy="297.4" r="1.40"/><circle cx="143.9" cy="295.3" r="1.40"/><circle cx="144.7" cy="294.3" r="1.40"/><circle cx="145.5" cy="291.8" r="1.40"/><circle cx="146.3" cy="290.8" r="1.40"/><circle cx="147.1" cy="291.0" r="1.40"/><circle cx="147.9" cy="290.5" r="1.40"/><circle cx="148.6" cy="288.9" r="1.40"/><circle cx="149.3" cy="288.7" r="1.40"/><circle cx="150.0" cy="285.3" r="1.40"/><circle cx="150.7" cy="286.5" r="1.40"/><circle cx="151.3" cy="285.8" r="1.40"/><circle cx="151.9" cy="282.8" r="1.40"/><circle cx="152.4" cy="283.1" r="1.40"/><circle cx="152.9" cy="281.9" r="1.40"/><circle cx="153.4" cy="280.5" r="1.40"/><circle cx="153.9" cy="278.4" r="1.40"/><circle cx="154.4" cy="277.9" r="1.40"/><circle cx="154.8" cy="277.9" r="1.40"/><circle cx="155.2" cy="277.4" r="1.40"/><circle cx="155.6" cy="275.7" r="1.40"/><circle cx="156.0" cy="275.8" r="1.40"/><circle cx="156.4" cy="272.9" r="1.40"/><circle cx="156.8" cy="273.6" r="1.40"/><circle cx="157.2" cy="269.8" r="1.40"/><circle cx="157.5" cy="270.2" r="1.40"/><circle cx="157.9" cy="269.4" r="1.40"/><circle cx="158.2" cy="268.5" r="1.40"/><circle cx="158.5" cy="267.5" r="1.40"/><circle cx="158.9" cy="265.0" r="1.40"/><circle cx="159.2" cy="263.0" r="1.40"/><circle cx="159.5" cy="263.2" r="1.40"/><circle cx="159.8" cy="261.3" r="1.40"/><circle cx="160.1" cy="261.2" r="1.40"/><circle cx="160.4" cy="259.2" r="1.40"/><circle cx="160.7" cy="258.6" r="1.40"/><circle cx="161.0" cy="257.5" r="1.40"/><circle cx="161.3" cy="256.5" r="1.40"/><circle cx="161.6" cy="254.7" r="1.40"/><circle cx="161.9" cy="254.9" r="1.40"/><circle cx="162.2" cy="252.3" r="1.40"/><circle cx="162.5" cy="251.5" r="1.40"/><circle cx="162.9" cy="250.7" r="1.40"/><circle cx="163.2" cy="249.2" r="1.40"/><circle cx="163.5" cy="249.0" r="1.40"/><circle cx="163.8" cy="246.6" r="1.40"/><circle cx="164.1" cy="245.2" r="1.40"/><circle cx="164.4" cy="245.1" r="1.40"/><circle cx="164.7" cy="243.5" r="1.40"/><circle cx="165.1" cy="241.3" r="1.40"/><circle cx="165.4" cy="240.3" r="1.40"/><circle cx="165.7" cy="239.6" r="1.40"/><circle cx="166.1" cy="239.1" r="1.40"/><circle cx="166.5" cy="237.6" r="1.40"/><circle cx="166.8" cy="235.8" r="1.40"/><circle cx="167.2" cy="232.9" r="1.40"/><circle cx="167.7" cy="233.9" r="1.40"/><circle cx="168.1" cy="231.4" r="1.40"/><circle cx="168.6" cy="230.0" r="1.40"/><circle cx="169.2" cy="229.5" r="1.40"/><circle cx="169.8" cy="229.1" r="1.40"/><circle cx="170.5" cy="228.2" r="1.40"/><circle cx="171.5" cy="229.4" r="1.40"/><circle cx="172.7" cy="227.7" r="1.40"/><circle cx="173.6" cy="228.2" r="1.40"/><circle cx="174.3" cy="230.8" r="1.40"/><circle cx="174.9" cy="231.2" r="1.40"/><circle cx="175.3" cy="231.9" r="1.40"/><circle cx="175.8" cy="232.8" r="1.40"/><circle cx="176.2" cy="234.6" r="1.40"/><circle cx="176.5" cy="236.8" r="1.40"/><circle cx="176.9" cy="237.4" r="1.40"/><circle cx="177.2" cy="237.9" r="1.40"/><circle cx="177.5" cy="239.9" r="1.40"/><circle cx="177.8" cy="240.6" r="1.40"/><circle cx="178.1" cy="240.7" r="1.40"/><circle cx="178.3" cy="243.3" r="1.40"/><circle cx="178.6" cy="244.4" r="1.40"/><circle cx="178.9" cy="246.4" r="1.40"/><circle cx="179.1" cy="246.3" r="1.40"/><circle cx="179.4" cy="246.7" r="1.40"/><circle cx="179.6" cy="249.2" r="1.40"/><circle cx="179.8" cy="251.7" r="1.40"/><circle cx="180.1" cy="250.6" r="1.40"/><circle cx="180.3" cy="253.4" r="1.40"/><circle cx="180.5" cy="253.5" r="1.40"/><circle cx="180.7" cy="255.1" r="1.40"/><circle cx="181.0" cy="255.8" r="1.40"/><circle cx="181.2" cy="256.3" r="1.40"/><circle cx="181.4" cy="258.9" r="1.40"/><circle cx="181.6" cy="259.0" r="1.40"/><circle cx="181.8" cy="260.6" r="1.40"/><circle cx="182.0" cy="262.1" r="1.40"/><circle cx="182.2" cy="261.9" r="1.40"/><circle cx="182.4" cy="264.5" r="1.40"/><circle cx="182.6" cy="265.5" r="1.40"/><circle cx="182.9" cy="266.2" r="1.40"/><circle cx="183.1" cy="267.1" r="1.40"/><circle cx="183.3" cy="268.9" r="1.40"/><circle cx="183.5" cy="270.2" r="1.40"/><circle cx="183.7" cy="270.9" r="1.40"/><circle cx="183.9" cy="272.4" r="1.40"/><circle cx="184.1" cy="273.4" r="1.40"/><circle cx="184.3" cy="273.4" r="1.40"/><circle cx="184.5" cy="276.6" r="1.40"/><circle cx="184.7" cy="277.7" r="1.40"/><circle cx="184.9" cy="277.3" r="1.40"/><circle cx="185.1" cy="280.9" r="1.40"/><circle cx="185.3" cy="280.4" r="1.40"/><circle cx="185.5" cy="281.4" r="1.40"/><circle cx="185.7" cy="283.2" r="1.40"/><circle cx="185.9" cy="285.1" r="1.40"/><circle cx="186.1" cy="284.7" r="1.40"/><circle cx="186.3" cy="287.4" r="1.40"/><circle cx="186.5" cy="287.8" r="1.40"/><circle cx="186.7" cy="288.3" r="1.40"/><circle cx="186.9" cy="290.4" r="1.40"/><circle cx="187.1" cy="291.0" r="1.40"/><circle cx="187.3" cy="292.7" r="1.40"/><circle cx="187.5" cy="294.1" r="1.40"/><circle cx="187.8" cy="294.8" r="1.40"/><circle cx="188.0" cy="294.9" r="1.40"/><circle cx="188.2" cy="298.6" r="1.40"/><circle cx="188.4" cy="299.7" r="1.40"/><circle cx="188.6" cy="300.8" r="1.40"/><circle cx="188.8" cy="301.0" r="1.40"/><circle cx="189.1" cy="302.6" r="1.40"/><circle cx="189.3" cy="303.8" r="1.40"/><circle cx="189.5" cy="303.2" r="1.40"/><circle cx="189.8" cy="305.4" r="1.40"/><circle cx="190.0" cy="306.9" r="1.40"/><circle cx="190.2" cy="307.4" r="1.40"/><circle cx="190.5" cy="309.4" r="1.40"/><circle cx="190.7" cy="310.9" r="1.40"/><circle cx="191.0" cy="311.5" r="1.40"/><circle cx="191.2" cy="311.9" r="1.40"/><circle cx="191.5" cy="315.2" r="1.40"/><circle cx="191.8" cy="316.0" r="1.40"/><circle cx="192.0" cy="316.7" r="1.40"/><circle cx="192.3" cy="318.2" r="1.40"/><circle cx="192.6" cy="317.8" r="1.40"/><circle cx="192.9" cy="320.3" r="1.40"/><circle cx="193.1" cy="321.4" r="1.40"/><circle cx="193.4" cy="324.0" r="1.40"/><circle cx="193.8" cy="324.3" r="1.40"/><circle cx="194.1" cy="324.9" r="1.40"/><circle cx="194.4" cy="327.2" r="1.40"/><circle cx="194.7" cy="327.8" r="1.40"/><circle cx="195.1" cy="328.0" r="1.40"/><circle cx="195.4" cy="329.3" r="1.40"/><circle cx="195.8" cy="332.5" r="1.40"/><circle cx="196.2" cy="331.4" r="1.40"/><circle cx="196.6" cy="332.6" r="1.40"/><circle cx="197.0" cy="333.9" r="1.40"/><circle cx="197.4" cy="334.5" r="1.40"/><circle cx="197.9" cy="336.2" r="1.40"/><circle cx="198.3" cy="337.3" r="1.40"/><circle cx="198.8" cy="338.3" r="1.40"/><circle cx="199.3" cy="337.6" r="1.40"/><circle cx="199.9" cy="339.0" r="1.40"/><circle cx="200.5" cy="339.8" r="1.40"/><circle cx="201.1" cy="342.5" r="1.40"/><circle cx="201.8" cy="342.9" r="1.40"/><circle cx="202.5" cy="341.9" r="1.40"/><circle cx="203.2" cy="344.6" r="1.40"/><circle cx="204.1" cy="345.8" r="1.40"/><circle cx="204.9" cy="345.6" r="1.40"/><circle cx="205.9" cy="346.5" r="1.40"/><circle cx="206.9" cy="347.8" r="1.40"/><circle cx="207.9" cy="346.1" r="1.40"/><circle cx="209.0" cy="348.4" r="1.40"/><circle cx="210.1" cy="349.4" r="1.40"/><circle cx="211.3" cy="350.5" r="1.40"/><circle cx="212.4" cy="349.7" r="1.40"/><circle cx="213.6" cy="348.8" r="1.40"/><circle cx="214.8" cy="350.5" r="1.40"/><circle cx="216.0" cy="349.6" r="1.40"/><circle cx="217.2" cy="350.4" r="1.40"/><circle cx="218.4" cy="351.2" r="1.40"/><circle cx="219.6" cy="349.9" r="1.40"/><circle cx="220.8" cy="351.6" r="1.40"/><circle cx="222.0" cy="351.1" r="1.40"/><circle cx="223.2" cy="350.9" r="1.40"/><circle cx="224.4" cy="350.7" r="1.40"/><circle cx="225.6" cy="350.3" r="1.40"/><circle cx="226.8" cy="351.1" r="1.40"/><circle cx="228.0" cy="351.1" r="1.40"/><circle cx="229.2" cy="350.5" r="1.40"/><circle cx="230.4" cy="351.0" r="1.40"/><circle cx="231.6" cy="352.7" r="1.40"/><circle cx="232.8" cy="351.1" r="1.40"/><circle cx="234.0" cy="351.7" r="1.40"/><circle cx="235.2" cy="351.0" r="1.40"/><circle cx="236.4" cy="351.2" r="1.40"/><circle cx="237.6" cy="350.9" r="1.40"/><circle cx="238.8" cy="349.5" r="1.40"/><circle cx="240.0" cy="350.5" r="1.40"/><circle cx="241.2" cy="350.0" r="1.40"/><circle cx="242.4" cy="350.7" r="1.40"/><circle cx="243.6" cy="349.8" r="1.40"/><circle cx="244.7" cy="351.3" r="1.40"/><circle cx="245.9" cy="350.6" r="1.40"/><circle cx="247.1" cy="350.4" r="1.40"/><circle cx="248.3" cy="352.2" r="1.40"/><circle cx="249.5" cy="351.0" r="1.40"/><circle cx="250.7" cy="353.1" r="1.40"/><circle cx="251.9" cy="353.1" r="1.40"/><circle cx="253.1" cy="352.0" r="1.40"/><circle cx="254.3" cy="353.1" r="1.40"/><circle cx="255.5" cy="351.4" r="1.40"/><circle cx="256.7" cy="352.9" r="1.40"/><circle cx="257.9" cy="352.2" r="1.40"/><circle cx="259.1" cy="352.4" r="1.40"/><circle cx="260.3" cy="351.9" r="1.40"/><circle cx="261.5" cy="352.3" r="1.40"/><circle cx="262.7" cy="352.6" r="1.40"/><circle cx="263.9" cy="351.3" r="1.40"/><circle cx="265.1" cy="351.7" r="1.40"/><circle cx="266.3" cy="352.7" r="1.40"/><circle cx="267.5" cy="352.9" r="1.40"/><circle cx="268.7" cy="352.0" r="1.40"/><circle cx="269.9" cy="352.1" r="1.40"/></g>
<path d="M35.5,350.4 L36.2,350.4 L37.0,350.4 L37.8,350.4 L38.5,350.4 L39.2,350.4 L40.0,350.4 L40.8,350.4 L41.5,350.4 L42.2,350.4 L43.0,350.4 L43.8,350.4 L44.5,350.4 L45.2,350.4 L46.0,350.4 L46.8,350.5 L47.5,350.5 L48.2,350.5 L49.0,350.5 L49.8,350.5 L50.5,350.5 L51.2,350.5 L52.0,350.5 L52.8,350.5 L53.5,350.5 L54.2,350.5 L55.0,350.5 L55.8,350.5 L56.5,350.5 L57.2,350.5 L58.0,350.5 L58.8,350.5 L59.5,350.5 L60.2,350.5 L61.0,350.5 L61.8,350.5 L62.5,350.5 L63.2,350.5 L64.0,350.5 L64.8,350.5 L65.5,350.5 L66.2,350.5 L67.0,350.5 L67.8,350.5 L68.5,350.5 L69.2,350.5 L70.0,350.5 L70.8,350.5 L71.5,350.5 L72.2,350.5 L73.0,350.5 L73.8,350.6 L74.5,350.6 L75.2,350.6 L76.0,350.6 L76.8,350.6 L77.5,350.6 L78.2,350.6 L79.0,350.6 L79.8,350.6 L80.5,350.6 L81.2,350.6 L82.0,350.6 L82.8,350.6 L83.5,350.6 L84.2,350.6 L85.0,350.6 L85.8,350.6 L86.5,350.6 L87.2,350.5 L88.0,350.5 L88.8,350.5 L89.5,350.5 L90.2,350.5 L91.0,350.5 L91.8,350.5 L92.5,350.5 L93.2,350.5 L94.0,350.4 L94.8,350.4 L95.5,350.4 L96.2,350.3 L97.0,350.3 L97.8,350.2 L98.5,350.2 L99.2,350.1 L100.0,350.0 L100.8,349.9 L101.5,349.8 L102.2,349.7 L103.0,349.6 L103.8,349.4 L104.5,349.3 L105.2,349.1 L106.0,348.8 L106.8,348.6 L107.5,348.3 L108.2,348.0 L109.0,347.7 L109.8,347.3 L110.5,346.9 L111.2,346.4 L112.0,345.9 L112.8,345.3 L113.5,344.7 L114.2,344.1 L115.0,343.4 L115.8,342.6 L116.5,341.8 L117.2,340.9 L118.0,340.0 L118.8,339.0 L119.5,337.9 L120.2,336.8 L121.0,335.6 L121.8,334.4 L122.5,333.1 L123.2,331.7 L124.0,330.3 L124.8,328.9 L125.5,327.4 L126.2,325.9 L127.0,324.4 L127.8,322.8 L128.5,321.2 L129.2,319.7 L130.0,318.1 L130.8,316.5 L131.5,314.9 L132.2,313.3 L133.0,311.8 L133.8,310.3 L134.5,308.8 L135.2,307.4 L136.0,306.1 L136.8,304.8 L137.5,303.5 L138.2,302.3 L139.0,301.2 L139.8,300.1 L140.5,299.1 L141.2,298.1 L142.0,297.2 L142.8,296.3 L143.5,295.4 L144.2,294.6 L145.0,293.8 L145.8,292.9 L146.5,292.1 L147.2,291.2 L148.0,290.3 L148.8,289.4 L149.5,288.3 L150.2,287.2 L151.0,286.0 L151.8,284.7 L152.5,283.2 L153.2,281.6 L154.0,279.9 L154.8,278.0 L155.5,276.0 L156.2,273.9 L157.0,271.6 L157.8,269.1 L158.5,266.6 L159.2,263.9 L160.0,261.2 L160.8,258.4 L161.5,255.5 L162.2,252.6 L163.0,249.7 L163.8,246.9 L164.5,244.1 L165.2,241.5 L166.0,239.0 L166.8,236.7 L167.5,234.6 L168.2,232.7 L169.0,231.1 L169.8,229.9 L170.5,229.0 L171.2,228.5 L172.0,228.3 L172.8,228.6 L173.5,229.2 L174.2,230.3 L175.0,231.8 L175.8,233.6 L176.5,235.9 L177.2,238.5 L178.0,241.4 L178.8,244.6 L179.5,248.1 L180.2,251.9 L181.0,255.8 L181.8,259.9 L182.5,264.2 L183.2,268.5 L184.0,272.9 L184.8,277.3 L185.5,281.7 L186.2,286.1 L187.0,290.4 L187.8,294.6 L188.5,298.7 L189.2,302.7 L190.0,306.5 L190.8,310.1 L191.5,313.6 L192.2,316.9 L193.0,320.1 L193.8,323.0 L194.5,325.7 L195.2,328.2 L196.0,330.6 L196.8,332.7 L197.5,334.7 L198.2,336.5 L199.0,338.2 L199.8,339.7 L200.5,341.0 L201.2,342.2 L202.0,343.3 L202.8,344.3 L203.5,345.1 L204.2,345.9 L205.0,346.5 L205.8,347.1 L206.5,347.6 L207.2,348.1 L208.0,348.5 L208.8,348.8 L209.5,349.1 L210.2,349.4 L211.0,349.6 L211.8,349.8 L212.5,350.0 L213.2,350.1 L214.0,350.2 L214.8,350.3 L215.5,350.4 L216.2,350.5 L217.0,350.6 L217.8,350.7 L218.5,350.7 L219.2,350.8 L220.0,350.8 L220.8,350.9 L221.5,350.9 L222.2,350.9 L223.0,351.0 L223.8,351.0 L224.5,351.0 L225.2,351.0 L226.0,351.1 L226.8,351.1 L227.5,351.1 L228.2,351.1 L229.0,351.2 L229.8,351.2 L230.5,351.2 L231.2,351.2 L232.0,351.2 L232.8,351.2 L233.5,351.3 L234.2,351.3 L235.0,351.3 L235.8,351.3 L236.5,351.3 L237.2,351.3 L238.0,351.4 L238.8,351.4 L239.5,351.4 L240.2,351.4 L241.0,351.4 L241.8,351.4 L242.5,351.4 L243.2,351.4 L244.0,351.5 L244.8,351.5 L245.5,351.5 L246.2,351.5 L247.0,351.5 L247.8,351.5 L248.5,351.5 L249.2,351.5 L250.0,351.6 L250.8,351.6 L251.5,351.6 L252.2,351.6 L253.0,351.6 L253.8,351.6 L254.5,351.6 L255.2,351.6 L256.0,351.6 L256.8,351.6 L257.5,351.7 L258.2,351.7 L259.0,351.7 L259.8,351.7 L260.5,351.7 L261.2,351.7 L262.0,351.7 L262.8,351.7 L263.5,351.7 L264.2,351.7 L265.0,351.7 L265.8,351.7 L266.5,351.8 L267.2,351.8 L268.0,351.8 L268.8,351.8 L269.5,351.8 L270.2,351.8 L270.9,351.8" fill="none" stroke="#ff0000" stroke-width="1.50" stroke-linejoin="round"/>
<path d="M61.0,350.5 L61.8,350.5 L62.5,350.5 L63.2,350.5 L64.0,350.5 L64.8,350.5 L65.5,350.5 L66.2,350.5 L67.0,350.5 L67.8,350.5 L68.5,350.5 L69.2,350.5 L70.0,350.5 L70.8,350.5 L71.5,350.5 L72.2,350.5 L73.0,350.5 L73.8,350.6 L74.5,350.6 L75.2,350.6 L76.0,350.6 L76.8,350.6 L77.5,350.6 L78.2,350.6 L79.0,350.6 L79.8,350.6 L80.5,350.6 L81.2,350.6 L82.0,350.6 L82.8,350.6 L83.5,350.6 L84.2,350.6 L85.0,350.6 L85.8,350.6 L86.5,350.6 L87.2,350.6 L88.0,350.6 L88.8,350.6 L89.5,350.6 L90.2,350.6 L91.0,350.6 L91.8,350.6 L92.5,350.6 L93.2,350.6 L94.0,350.6 L94.8,350.6 L95.5,350.6 L96.2,350.6 L97.0,350.6 L97.8,350.6 L98.5,350.6 L99.2,350.6 L100.0,350.6 L100.8,350.6 L101.5,350.6 L102.2,350.6 L103.0,350.6 L103.8,350.5 L104.5,350.5 L105.2,350.5 L106.0,350.5 L106.8,350.5 L107.5,350.5 L108.2,350.5 L109.0,350.5 L109.8,350.5 L110.5,350.5 L111.2,350.5 L112.0,350.5 L112.8,350.5 L113.5,350.5 L114.2,350.5 L115.0,350.5 L115.8,350.5 L116.5,350.4 L117.2,350.4 L118.0,350.4 L118.8,350.4 L119.5,350.4 L120.2,350.4 L121.0,350.4 L121.8,350.4 L122.5,350.3 L123.2,350.3 L124.0,350.3 L124.8,350.3 L125.5,350.2 L126.2,350.2 L127.0,350.2 L127.8,350.1 L128.5,350.1 L129.2,350.0 L130.0,349.9 L130.8,349.9 L131.5,349.8 L132.2,349.7 L133.0,349.5 L133.8,349.4 L134.5,349.2 L135.2,349.0 L136.0,348.8 L136.8,348.6 L137.5,348.3 L138.2,347.9 L139.0,347.5 L139.8,347.1 L140.5,346.5 L141.2,345.9 L142.0,345.2 L142.8,344.5 L143.5,343.6 L144.2,342.6 L145.0,341.5 L145.8,340.3 L146.5,338.9 L147.2,337.4 L148.0,335.7 L148.8,333.8 L149.5,331.8 L150.2,329.6 L151.0,327.2 L151.8,324.6 L152.5,321.9 L153.2,318.9 L154.0,315.7 L154.8,312.4 L155.5,308.9 L156.2,305.2 L157.0,301.4 L157.8,297.5 L158.5,293.4 L159.2,289.2 L160.0,285.0 L160.8,280.7 L161.5,276.4 L162.2,272.1 L163.0,267.9 L163.8,263.7 L164.5,259.7 L165.2,255.9 L166.0,252.2 L166.8,248.8 L167.5,245.7 L168.2,242.8 L169.0,240.4 L169.8,238.3 L170.5,236.6 L171.2,235.3 L172.0,234.5 L172.8,234.1 L173.5,234.2 L174.2,234.7 L175.0,235.7 L175.8,237.1 L176.5,239.0 L177.2,241.2 L178.0,243.8 L178.8,246.8 L179.5,250.0 L180.2,253.5 L181.0,257.2 L181.8,261.1 L182.5,265.2 L183.2,269.4 L184.0,273.7 L184.8,278.0 L185.5,282.3 L186.2,286.6 L187.0,290.8 L187.8,294.9 L188.5,299.0 L189.2,302.9 L190.0,306.7 L190.8,310.3 L191.5,313.8 L192.2,317.1 L193.0,320.2 L193.8,323.1 L194.5,325.8 L195.2,328.3 L196.0,330.6 L196.8,332.8 L197.5,334.8 L198.2,336.6 L199.0,338.2 L199.8,339.7 L200.5,341.0 L201.2,342.2 L202.0,343.3 L202.8,344.3 L203.5,345.1 L204.2,345.9 L205.0,346.5 L205.8,347.1 L206.5,347.6 L207.2,348.1 L208.0,348.5 L208.8,348.8 L209.5,349.1 L210.2,349.4 L211.0,349.6 L211.8,349.8 L212.5,350.0 L213.2,350.1 L214.0,350.2 L214.8,350.3 L215.5,350.4 L216.2,350.5 L217.0,350.6 L217.8,350.7 L218.5,350.7 L219.2,350.8 L220.0,350.8 L220.8,350.9 L221.5,350.9 L222.2,350.9 L223.0,351.0 L223.8,351.0 L224.5,351.0 L225.2,351.0 L226.0,351.1 L226.8,351.1 L227.5,351.1 L228.2,351.1 L229.0,351.2 L229.8,351.2 L230.5,351.2 L231.2,351.2 L232.0,351.2 L232.8,351.2 L233.5,351.3 L234.2,351.3 L235.0,351.3 L235.8,351.3 L236.5,351.3 L237.2,351.3 L238.0,351.4 L238.8,351.4 L239.5,351.4 L240.2,351.4 L241.0,351.4 L241.8,351.4 L242.5,351.4 L243.2,351.4 L244.0,351.5 L244.8,351.5 L245.5,351.5 L246.2,351.5 L247.0,351.5 L247.8,351.5 L248.5,351.5 L249.2,351.5 L250.0,351.6 L250.8,351.6 L251.5,351.6 L252.2,351.6 L253.0,351.6 L253.8,351.6 L254.5,351.6 L255.2,351.6 L256.0,351.6 L256.8,351.6 L257.5,351.7 L258.2,351.7 L259.0,351.7 L259.8,351.7 L260.5,351.7 L261.2,351.7 L262.0,351.7 L262.8,351.7 L263.5,351.7 L264.2,351.7 L265.0,351.7 L265.8,351.7 L266.5,351.8 L267.2,351.8 L268.0,351.8 L268.8,351.8 L269.5,351.8 L270.2,351.8 L270.9,351.8 L270.9,352.0 L61.0,350.7 Z" fill="url(#g9)" fill-opacity="0.95" stroke="none"/>
<path d="M100.8,350.6 L101.5,350.6 L102.2,350.6 L103.0,350.6 L103.8,350.5 L104.5,350.5 L105.2,350.5 L106.0,350.5 L106.8,350.5 L107.5,350.5 L108.2,350.5 L109.0,350.5 L109.8,350.5 L110.5,350.5 L111.2,350.5 L112.0,350.5 L112.8,350.5 L113.5,350.5 L114.2,350.5 L115.0,350.5 L115.8,350.5 L116.5,350.4 L117.2,350.4 L118.0,350.4 L118.8,350.4 L119.5,350.4 L120.2,350.4 L121.0,350.4 L121.8,350.4 L122.5,350.3 L123.2,350.3 L124.0,350.3 L124.8,350.3 L125.5,350.2 L126.2,350.2 L127.0,350.2 L127.8,350.1 L128.5,350.1 L129.2,350.0 L130.0,349.9 L130.8,349.9 L131.5,349.8 L132.2,349.7 L133.0,349.5 L133.8,349.4 L134.5,349.2 L135.2,349.0 L136.0,348.8 L136.8,348.6 L137.5,348.3 L138.2,347.9 L139.0,347.5 L139.8,347.1 L140.5,346.5 L141.2,345.9 L142.0,345.2 L142.8,344.5 L143.5,343.6 L144.2,342.6 L145.0,341.5 L145.8,340.3 L146.5,338.9 L147.2,337.4 L148.0,335.7 L148.8,333.8 L149.5,331.8 L150.2,329.6 L151.0,327.2 L151.8,324.6 L152.5,321.9 L153.2,318.9 L154.0,315.7 L154.8,312.4 L155.5,308.9 L156.2,305.2 L157.0,301.4 L157.8,297.5 L158.5,293.4 L159.2,289.2 L160.0,285.0 L160.8,280.7 L161.5,276.4 L162.2,272.1 L163.0,267.9 L163.8,263.7 L164.5,259.7 L165.2,255.9 L166.0,252.2 L166.8,248.8 L167.5,245.7 L168.2,242.8 L169.0,240.4 L169.8,238.3 L170.5,236.6 L171.2,235.3 L172.0,234.5 L172.8,234.1 L173.5,234.2 L174.2,234.7 L175.0,235.7 L175.8,237.1 L176.5,239.0 L177.2,241.2 L178.0,243.8 L178.8,246.8 L179.5,250.0 L180.2,253.5 L181.0,257.2 L181.8,261.1 L182.5,265.2 L183.2,269.4 L184.0,273.7 L184.8,278.0 L185.5,282.3 L186.2,286.6 L187.0,290.8 L187.8,294.9 L188.5,299.0 L189.2,302.9 L190.0,306.7 L190.8,310.3 L191.5,313.8 L192.2,317.1 L193.0,320.2 L193.8,323.1 L194.5,325.8 L195.2,328.3 L196.0,330.6 L196.8,332.8 L197.5,334.8 L198.2,336.6 L199.0,338.2 L199.8,339.7 L200.5,341.0 L201.2,342.2 L202.0,343.3 L202.8,344.3 L203.5,345.1 L204.2,345.9 L205.0,346.5 L205.8,347.1 L206.5,347.6 L207.2,348.1 L208.0,348.5 L208.8,348.8 L209.5,349.1 L210.2,349.4 L211.0,349.6 L211.8,349.8 L212.5,350.0 L213.2,350.1 L214.0,350.2 L214.8,350.3 L215.5,350.4 L216.2,350.5 L217.0,350.6 L217.8,350.7 L218.5,350.7 L219.2,350.8 L220.0,350.8 L220.8,350.9 L221.5,350.9 L222.2,350.9 L223.0,351.0 L223.8,351.0 L224.5,351.0 L225.2,351.0 L226.0,351.1 L226.8,351.1 L227.5,351.1 L228.2,351.1 L229.0,351.2 L229.8,351.2 L230.5,351.2 L231.2,351.2 L232.0,351.2 L232.8,351.2 L233.5,351.3 L234.2,351.3 L235.0,351.3 L235.8,351.3 L236.5,351.3 L237.2,351.3 L238.0,351.4 L238.8,351.4 L239.5,351.4 L240.2,351.4 L241.0,351.4 L241.8,351.4 L242.5,351.4 L243.2,351.4 L244.0,351.5 L244.8,351.5 L245.5,351.5" fill="none" stroke="#12a0ee" stroke-width="1.60" stroke-linejoin="round"/>
<path d="M94.8,350.7 L95.5,350.7 L96.2,350.7 L97.0,350.6 L97.8,350.6 L98.5,350.5 L99.2,350.5 L100.0,350.4 L100.8,350.3 L101.5,350.2 L102.2,350.1 L103.0,350.0 L103.8,349.8 L104.5,349.7 L105.2,349.5 L106.0,349.3 L106.8,349.0 L107.5,348.7 L108.2,348.4 L109.0,348.1 L109.8,347.7 L110.5,347.3 L111.2,346.9 L112.0,346.4 L112.8,345.8 L113.5,345.3 L114.2,344.6 L115.0,343.9 L115.8,343.2 L116.5,342.4 L117.2,341.5 L118.0,340.6 L118.8,339.6 L119.5,338.5 L120.2,337.4 L121.0,336.3 L121.8,335.1 L122.5,333.8 L123.2,332.5 L124.0,331.1 L124.8,329.7 L125.5,328.3 L126.2,326.8 L127.0,325.3 L127.8,323.8 L128.5,322.3 L129.2,320.7 L130.0,319.2 L130.8,317.7 L131.5,316.2 L132.2,314.8 L133.0,313.4 L133.8,312.0 L134.5,310.7 L135.2,309.5 L136.0,308.4 L136.8,307.3 L137.5,306.4 L138.2,305.5 L139.0,304.8 L139.8,304.2 L140.5,303.7 L141.2,303.3 L142.0,303.1 L142.8,303.0 L143.5,303.0 L144.2,303.2 L145.0,303.5 L145.8,303.9 L146.5,304.4 L147.2,305.1 L148.0,305.9 L148.8,306.8 L149.5,307.8 L150.2,308.8 L151.0,310.0 L151.8,311.3 L152.5,312.6 L153.2,314.0 L154.0,315.4 L154.8,316.9 L155.5,318.4 L156.2,319.9 L157.0,321.4 L157.8,323.0 L158.5,324.5 L159.2,326.0 L160.0,327.5 L160.8,329.0 L161.5,330.4 L162.2,331.8 L163.0,333.2 L163.8,334.5 L164.5,335.8 L165.2,337.0 L166.0,338.1 L166.8,339.2 L167.5,340.2 L168.2,341.2 L169.0,342.1 L169.8,343.0 L170.5,343.8 L171.2,344.5 L172.0,345.2 L172.8,345.8 L173.5,346.4 L174.2,347.0 L175.0,347.4 L175.8,347.9 L176.5,348.3 L177.2,348.7 L178.0,349.0 L178.8,349.3 L179.5,349.6 L180.2,349.8 L181.0,350.0 L181.8,350.2 L182.5,350.4 L183.2,350.5 L184.0,350.7 L184.8,350.8 L185.5,350.9 L186.2,351.0 L187.0,351.0 L187.8,351.1 L188.5,351.2 L189.2,351.2 L190.0,351.3 L190.8,351.3 L191.5,351.3 L191.5,351.5 L94.8,350.9 Z" fill="url(#g10)" fill-opacity="0.85" stroke="none"/>
<path d="M94.8,350.7 L95.5,350.7 L96.2,350.7 L97.0,350.6 L97.8,350.6 L98.5,350.6 L99.2,350.6 L100.0,350.6 L100.8,350.6 L101.5,350.6 L102.2,350.6 L103.0,350.6 L103.8,350.5 L104.5,350.5 L105.2,350.5 L106.0,350.5 L106.8,350.5 L107.5,350.5 L108.2,350.5 L109.0,350.5 L109.8,350.5 L110.5,350.5 L111.2,350.5 L112.0,350.5 L112.8,350.5 L113.5,350.5 L114.2,350.5 L115.0,350.5 L115.8,350.5 L116.5,350.4 L117.2,350.4 L118.0,350.4 L118.8,350.4 L119.5,350.4 L120.2,350.4 L121.0,350.4 L121.8,350.4 L122.5,350.3 L123.2,350.3 L124.0,350.3 L124.8,350.3 L125.5,350.2 L126.2,350.2 L127.0,350.2 L127.8,350.1 L128.5,350.1 L129.2,350.0 L130.0,349.9 L130.8,349.9 L131.5,349.8 L132.2,349.7 L133.0,349.5 L133.8,349.4 L134.5,349.2 L135.2,349.0 L136.0,348.8 L136.8,348.6 L137.5,348.3 L138.2,347.9 L139.0,347.5 L139.8,347.1 L140.5,346.5 L141.2,345.9 L142.0,345.2 L142.8,344.5 L143.5,343.6 L144.2,342.6 L145.0,341.5 L145.8,340.3 L146.5,338.9 L147.2,337.4 L148.0,335.7 L148.8,333.8 L149.5,331.8 L150.2,329.6 L151.0,327.2 L151.8,324.6 L152.5,321.9 L153.2,318.9 L154.0,315.7 L154.8,316.9 L155.5,318.4 L156.2,319.9 L157.0,321.4 L157.8,323.0 L158.5,324.5 L159.2,326.0 L160.0,327.5 L160.8,329.0 L161.5,330.4 L162.2,331.8 L163.0,333.2 L163.8,334.5 L164.5,335.8 L165.2,337.0 L166.0,338.1 L166.8,339.2 L167.5,340.2 L168.2,341.2 L169.0,342.1 L169.8,343.0 L170.5,343.8 L171.2,344.5 L172.0,345.2 L172.8,345.8 L173.5,346.4 L174.2,347.0 L175.0,347.4 L175.8,347.9 L176.5,348.3 L177.2,348.7 L178.0,349.0 L178.8,349.3 L179.5,349.6 L180.2,349.8 L181.0,350.0 L181.8,350.2 L182.5,350.4 L183.2,350.5 L184.0,350.7 L184.8,350.8 L185.5,350.9 L186.2,351.0 L187.0,351.0 L187.8,351.1 L188.5,351.2 L189.2,351.2 L190.0,351.3 L190.8,351.3 L191.5,351.3 L191.5,351.5 L94.8,350.9 Z" fill="#0a6a58" fill-opacity="0.50" stroke="none"/>
<path d="M35.5,350.5 L36.2,350.5 L37.0,350.5 L37.8,350.5 L38.5,350.5 L39.2,350.5 L40.0,350.5 L40.8,350.5 L41.5,350.5 L42.2,350.5 L43.0,350.5 L43.8,350.6 L44.5,350.6 L45.2,350.6 L46.0,350.6 L46.8,350.6 L47.5,350.6 L48.2,350.6 L49.0,350.6 L49.8,350.6 L50.5,350.6 L51.2,350.6 L52.0,350.6 L52.8,350.6 L53.5,350.6 L54.2,350.6 L55.0,350.6 L55.8,350.6 L56.5,350.6 L57.2,350.6 L58.0,350.6 L58.8,350.6 L59.5,350.7 L60.2,350.7 L61.0,350.7 L61.8,350.7 L62.5,350.7 L63.2,350.7 L64.0,350.7 L64.8,350.7 L65.5,350.7 L66.2,350.7 L67.0,350.7 L67.8,350.7 L68.5,350.7 L69.2,350.7 L70.0,350.7 L70.8,350.7 L71.5,350.7 L72.2,350.7 L73.0,350.7 L73.8,350.7 L74.5,350.7 L75.2,350.8 L76.0,350.8 L76.8,350.8 L77.5,350.8 L78.2,350.8 L79.0,350.8 L79.8,350.8 L80.5,350.8 L81.2,350.8 L82.0,350.8 L82.8,350.8 L83.5,350.8 L84.2,350.8 L85.0,350.8 L85.8,350.8 L86.5,350.8 L87.2,350.8 L88.0,350.8 L88.8,350.8 L89.5,350.8 L90.2,350.8 L91.0,350.8 L91.8,350.8 L92.5,350.8 L93.2,350.8 L94.0,350.7 L94.8,350.7 L95.5,350.7 L96.2,350.7 L97.0,350.6 L97.8,350.6 L98.5,350.5 L99.2,350.5 L100.0,350.4 L100.8,350.3 L101.5,350.2 L102.2,350.1 L103.0,350.0 L103.8,349.8 L104.5,349.7 L105.2,349.5 L106.0,349.3 L106.8,349.0 L107.5,348.7 L108.2,348.4 L109.0,348.1 L109.8,347.7 L110.5,347.3 L111.2,346.9 L112.0,346.4 L112.8,345.8 L113.5,345.3 L114.2,344.6 L115.0,343.9 L115.8,343.2 L116.5,342.4 L117.2,341.5 L118.0,340.6 L118.8,339.6 L119.5,338.5 L120.2,337.4 L121.0,336.3 L121.8,335.1 L122.5,333.8 L123.2,332.5 L124.0,331.1 L124.8,329.7 L125.5,328.3 L126.2,326.8 L127.0,325.3 L127.8,323.8 L128.5,322.3 L129.2,320.7 L130.0,319.2 L130.8,317.7 L131.5,316.2 L132.2,314.8 L133.0,313.4 L133.8,312.0 L134.5,310.7 L135.2,309.5 L136.0,308.4 L136.8,307.3 L137.5,306.4 L138.2,305.5 L139.0,304.8 L139.8,304.2 L140.5,303.7 L141.2,303.3 L142.0,303.1 L142.8,303.0 L143.5,303.0 L144.2,303.2 L145.0,303.5 L145.8,303.9 L146.5,304.4 L147.2,305.1 L148.0,305.9 L148.8,306.8 L149.5,307.8 L150.2,308.8 L151.0,310.0 L151.8,311.3 L152.5,312.6 L153.2,314.0 L154.0,315.4 L154.8,316.9 L155.5,318.4 L156.2,319.9 L157.0,321.4 L157.8,323.0 L158.5,324.5 L159.2,326.0 L160.0,327.5 L160.8,329.0 L161.5,330.4 L162.2,331.8 L163.0,333.2 L163.8,334.5 L164.5,335.8 L165.2,337.0 L166.0,338.1 L166.8,339.2 L167.5,340.2 L168.2,341.2 L169.0,342.1 L169.8,343.0 L170.5,343.8 L171.2,344.5 L172.0,345.2 L172.8,345.8 L173.5,346.4 L174.2,347.0 L175.0,347.4 L175.8,347.9 L176.5,348.3 L177.2,348.7 L178.0,349.0 L178.8,349.3 L179.5,349.6 L180.2,349.8 L181.0,350.0 L181.8,350.2 L182.5,350.4 L183.2,350.5 L184.0,350.7 L184.8,350.8 L185.5,350.9 L186.2,351.0 L187.0,351.0 L187.8,351.1 L188.5,351.2 L189.2,351.2 L190.0,351.3 L190.8,351.3 L191.5,351.3 L192.2,351.4 L193.0,351.4 L193.8,351.4 L194.5,351.4 L195.2,351.5 L196.0,351.5 L196.8,351.5 L197.5,351.5 L198.2,351.5 L199.0,351.5 L199.8,351.5 L200.5,351.5 L201.2,351.5 L202.0,351.6 L202.8,351.6 L203.5,351.6 L204.2,351.6 L205.0,351.6 L205.8,351.6 L206.5,351.6 L207.2,351.6 L208.0,351.6 L208.8,351.6 L209.5,351.6 L210.2,351.6 L211.0,351.6 L211.8,351.6 L212.5,351.6 L213.2,351.6 L214.0,351.6 L214.8,351.6 L215.5,351.6 L216.2,351.7 L217.0,351.7 L217.8,351.7 L218.5,351.7 L219.2,351.7 L220.0,351.7 L220.8,351.7 L221.5,351.7 L222.2,351.7 L223.0,351.7 L223.8,351.7 L224.5,351.7 L225.2,351.7 L226.0,351.7 L226.8,351.7 L227.5,351.7 L228.2,351.7 L229.0,351.7 L229.8,351.7 L230.5,351.7 L231.2,351.7 L232.0,351.8 L232.8,351.8 L233.5,351.8 L234.2,351.8 L235.0,351.8 L235.8,351.8 L236.5,351.8 L237.2,351.8 L238.0,351.8 L238.8,351.8 L239.5,351.8 L240.2,351.8 L241.0,351.8 L241.8,351.8 L242.5,351.8 L243.2,351.8 L244.0,351.8 L244.8,351.8 L245.5,351.8 L246.2,351.8 L247.0,351.8 L247.8,351.9 L248.5,351.9 L249.2,351.9 L250.0,351.9 L250.8,351.9 L251.5,351.9 L252.2,351.9 L253.0,351.9 L253.8,351.9 L254.5,351.9 L255.2,351.9 L256.0,351.9 L256.8,351.9 L257.5,351.9 L258.2,351.9 L259.0,351.9 L259.8,351.9 L260.5,351.9 L261.2,351.9 L262.0,351.9 L262.8,351.9 L263.5,352.0 L264.2,352.0 L265.0,352.0 L265.8,352.0 L266.5,352.0 L267.2,352.0 L268.0,352.0 L268.8,352.0 L269.5,352.0 L270.2,352.0 L270.9,352.0" fill="none" stroke="#008000" stroke-width="1.70" stroke-linejoin="round"/>
</g>
<rect x="35.5" y="201.9" width="235.4" height="157.7" fill="none" stroke="#000" stroke-width="1.60"/>
<path d="M35.7,359.6 v-2.9 M55.3,359.6 v-1.9 M75.0,359.6 v-2.9 M94.6,359.6 v-1.9 M114.2,359.6 v-2.9 M133.8,359.6 v-1.9 M153.5,359.6 v-2.9 M173.1,359.6 v-1.9 M192.7,359.6 v-2.9 M212.4,359.6 v-1.9 M232.0,359.6 v-2.9 M251.6,359.6 v-1.9 M271.3,359.6 v-2.9" stroke="#000" stroke-width="1" fill="none"/>
<text x="35.4" y="371.9" text-anchor="middle" font-size="11.0">536</text>
<text x="74.7" y="371.9" text-anchor="middle" font-size="11.0">534</text>
<text x="113.9" y="371.9" text-anchor="middle" font-size="11.0">532</text>
<text x="153.2" y="371.9" text-anchor="middle" font-size="11.0">530</text>
<text x="192.4" y="371.9" text-anchor="middle" font-size="11.0">528</text>
<text x="231.7" y="371.9" text-anchor="middle" font-size="11.0">526</text>
<text x="271.0" y="371.9" text-anchor="middle" font-size="11.0">524</text>
<text x="93.0" y="385.9" font-size="14.5" textLength="120.8" lengthAdjust="spacingAndGlyphs">Binding energy (eV)</text>
<text x="5.0" y="220.0" font-size="20.0">(c)</text>
<text x="241.7" y="216.7" font-size="10.9">O 1s</text>
<text x="95.0" y="295.1" font-size="9.4">O-C=O</text>
<text x="195.8" y="260.0" font-size="9.2">Li<tspan font-size="70%" dy="2.8">2</tspan><tspan dy="-2.8">CO</tspan><tspan font-size="70%" dy="2.8">3</tspan></text>
<g clip-path="url(#clipd)">
<g fill="none" stroke="#777" stroke-width="0.55"><circle cx="306.0" cy="349.8" r="1.55"/><circle cx="308.8" cy="343.5" r="1.55"/><circle cx="311.6" cy="347.1" r="1.55"/><circle cx="314.4" cy="348.6" r="1.55"/><circle cx="317.2" cy="343.3" r="1.55"/><circle cx="320.0" cy="347.9" r="1.55"/><circle cx="322.8" cy="346.8" r="1.55"/><circle cx="325.6" cy="347.1" r="1.55"/><circle cx="328.4" cy="347.0" r="1.55"/><circle cx="331.2" cy="348.4" r="1.55"/><circle cx="334.0" cy="345.7" r="1.55"/><circle cx="336.8" cy="347.5" r="1.55"/><circle cx="339.6" cy="345.1" r="1.55"/><circle cx="342.4" cy="347.0" r="1.55"/><circle cx="345.2" cy="344.1" r="1.55"/><circle cx="348.0" cy="345.2" r="1.55"/><circle cx="350.8" cy="348.2" r="1.55"/><circle cx="353.6" cy="345.8" r="1.55"/><circle cx="356.4" cy="344.5" r="1.55"/><circle cx="359.1" cy="342.4" r="1.55"/><circle cx="361.9" cy="342.8" r="1.55"/><circle cx="364.7" cy="344.2" r="1.55"/><circle cx="367.5" cy="345.2" r="1.55"/><circle cx="370.3" cy="343.8" r="1.55"/><circle cx="373.0" cy="343.5" r="1.55"/><circle cx="375.8" cy="341.9" r="1.55"/><circle cx="378.5" cy="343.8" r="1.55"/><circle cx="381.2" cy="339.8" r="1.55"/><circle cx="383.9" cy="338.6" r="1.55"/><circle cx="386.5" cy="340.3" r="1.55"/><circle cx="389.0" cy="337.4" r="1.55"/><circle cx="391.5" cy="335.3" r="1.55"/><circle cx="393.8" cy="333.0" r="1.55"/><circle cx="396.0" cy="331.7" r="1.55"/><circle cx="398.0" cy="331.5" r="1.55"/><circle cx="399.8" cy="328.7" r="1.55"/><circle cx="401.5" cy="323.0" r="1.55"/><circle cx="403.1" cy="324.1" r="1.55"/><circle cx="404.5" cy="321.1" r="1.55"/><circle cx="405.8" cy="315.8" r="1.55"/><circle cx="407.0" cy="317.4" r="1.55"/><circle cx="408.2" cy="312.3" r="1.55"/><circle cx="409.3" cy="309.5" r="1.55"/><circle cx="410.3" cy="309.7" r="1.55"/><circle cx="411.2" cy="308.4" r="1.55"/><circle cx="412.2" cy="300.5" r="1.55"/><circle cx="413.0" cy="300.8" r="1.55"/><circle cx="413.9" cy="294.5" r="1.55"/><circle cx="414.7" cy="300.8" r="1.55"/><circle cx="415.5" cy="290.2" r="1.55"/><circle cx="416.3" cy="292.4" r="1.55"/><circle cx="417.1" cy="284.3" r="1.55"/><circle cx="417.8" cy="285.9" r="1.55"/><circle cx="418.6" cy="287.6" r="1.55"/><circle cx="419.4" cy="270.1" r="1.55"/><circle cx="420.1" cy="274.0" r="1.55"/><circle cx="420.9" cy="274.4" r="1.55"/><circle cx="421.7" cy="269.8" r="1.55"/><circle cx="422.6" cy="265.2" r="1.55"/><circle cx="423.5" cy="272.2" r="1.55"/><circle cx="424.5" cy="262.6" r="1.55"/><circle cx="425.6" cy="254.1" r="1.55"/><circle cx="426.9" cy="260.6" r="1.55"/><circle cx="428.5" cy="249.5" r="1.55"/><circle cx="430.8" cy="259.0" r="1.55"/><circle cx="433.6" cy="253.8" r="1.55"/><circle cx="435.8" cy="258.4" r="1.55"/><circle cx="437.7" cy="264.5" r="1.55"/><circle cx="439.5" cy="262.7" r="1.55"/><circle cx="441.1" cy="259.9" r="1.55"/><circle cx="442.7" cy="261.3" r="1.55"/><circle cx="444.1" cy="273.5" r="1.55"/><circle cx="445.4" cy="274.5" r="1.55"/><circle cx="446.6" cy="272.0" r="1.55"/><circle cx="447.8" cy="280.0" r="1.55"/><circle cx="448.8" cy="281.5" r="1.55"/><circle cx="449.8" cy="284.6" r="1.55"/><circle cx="450.8" cy="278.5" r="1.55"/><circle cx="451.7" cy="287.0" r="1.55"/><circle cx="452.5" cy="293.2" r="1.55"/><circle cx="453.4" cy="295.3" r="1.55"/><circle cx="454.3" cy="298.4" r="1.55"/><circle cx="455.1" cy="291.9" r="1.55"/><circle cx="456.0" cy="301.7" r="1.55"/><circle cx="456.9" cy="305.2" r="1.55"/><circle cx="457.8" cy="313.1" r="1.55"/><circle cx="458.7" cy="306.8" r="1.55"/><circle cx="459.6" cy="311.0" r="1.55"/><circle cx="460.5" cy="314.5" r="1.55"/><circle cx="461.5" cy="319.1" r="1.55"/><circle cx="462.6" cy="318.5" r="1.55"/><circle cx="463.7" cy="324.7" r="1.55"/><circle cx="464.8" cy="322.8" r="1.55"/><circle cx="466.1" cy="327.6" r="1.55"/><circle cx="467.4" cy="328.3" r="1.55"/><circle cx="468.9" cy="332.0" r="1.55"/><circle cx="470.5" cy="332.4" r="1.55"/><circle cx="472.3" cy="332.7" r="1.55"/><circle cx="474.3" cy="339.8" r="1.55"/><circle cx="476.4" cy="339.9" r="1.55"/><circle cx="478.8" cy="339.6" r="1.55"/><circle cx="481.3" cy="342.1" r="1.55"/><circle cx="484.0" cy="344.5" r="1.55"/><circle cx="486.6" cy="341.6" r="1.55"/><circle cx="489.4" cy="343.7" r="1.55"/><circle cx="492.1" cy="345.4" r="1.55"/><circle cx="494.9" cy="345.8" r="1.55"/><circle cx="497.7" cy="344.6" r="1.55"/><circle cx="500.4" cy="341.8" r="1.55"/><circle cx="503.2" cy="348.0" r="1.55"/><circle cx="506.0" cy="346.6" r="1.55"/><circle cx="508.8" cy="346.3" r="1.55"/><circle cx="511.6" cy="346.0" r="1.55"/><circle cx="514.4" cy="347.2" r="1.55"/><circle cx="517.2" cy="346.1" r="1.55"/><circle cx="520.0" cy="345.3" r="1.55"/><circle cx="522.8" cy="345.9" r="1.55"/><circle cx="525.6" cy="346.3" r="1.55"/><circle cx="528.4" cy="346.4" r="1.55"/><circle cx="531.2" cy="345.6" r="1.55"/><circle cx="534.0" cy="348.8" r="1.55"/><circle cx="536.8" cy="345.5" r="1.55"/><circle cx="539.6" cy="349.0" r="1.55"/></g>
<path d="M305.0,347.1 L305.8,347.1 L306.5,347.1 L307.2,347.1 L308.0,347.1 L308.8,347.1 L309.5,347.1 L310.2,347.1 L311.0,347.0 L311.8,347.0 L312.5,347.0 L313.2,347.0 L314.0,347.0 L314.8,347.0 L315.5,347.0 L316.2,346.9 L317.0,346.9 L317.8,346.9 L318.5,346.9 L319.2,346.9 L320.0,346.9 L320.8,346.8 L321.5,346.8 L322.2,346.8 L323.0,346.8 L323.8,346.8 L324.5,346.8 L325.2,346.7 L326.0,346.7 L326.8,346.7 L327.5,346.7 L328.2,346.6 L329.0,346.6 L329.8,346.6 L330.5,346.6 L331.2,346.5 L332.0,346.5 L332.8,346.5 L333.5,346.5 L334.2,346.4 L335.0,346.4 L335.8,346.4 L336.5,346.4 L337.2,346.3 L338.0,346.3 L338.8,346.3 L339.5,346.2 L340.2,346.2 L341.0,346.1 L341.8,346.1 L342.5,346.1 L343.2,346.0 L344.0,346.0 L344.8,346.0 L345.5,345.9 L346.2,345.9 L347.0,345.8 L347.8,345.8 L348.5,345.7 L349.2,345.7 L350.0,345.6 L350.8,345.6 L351.5,345.5 L352.2,345.5 L353.0,345.4 L353.8,345.4 L354.5,345.3 L355.2,345.2 L356.0,345.2 L356.8,345.1 L357.5,345.0 L358.2,345.0 L359.0,344.9 L359.8,344.8 L360.5,344.7 L361.2,344.7 L362.0,344.6 L362.8,344.5 L363.5,344.4 L364.2,344.3 L365.0,344.2 L365.8,344.1 L366.5,344.0 L367.2,343.9 L368.0,343.8 L368.8,343.7 L369.5,343.6 L370.2,343.4 L371.0,343.3 L371.8,343.2 L372.5,343.0 L373.2,342.9 L374.0,342.8 L374.8,342.6 L375.5,342.4 L376.2,342.3 L377.0,342.1 L377.8,341.9 L378.5,341.7 L379.2,341.5 L380.0,341.3 L380.8,341.1 L381.5,340.9 L382.2,340.6 L383.0,340.3 L383.8,340.1 L384.5,339.8 L385.2,339.5 L386.0,339.2 L386.8,338.8 L387.5,338.5 L388.2,338.1 L389.0,337.7 L389.8,337.3 L390.5,336.9 L391.2,336.4 L392.0,335.9 L392.8,335.3 L393.5,334.8 L394.2,334.2 L395.0,333.5 L395.8,332.9 L396.5,332.1 L397.2,331.4 L398.0,330.6 L398.8,329.7 L399.5,328.8 L400.2,327.8 L401.0,326.8 L401.8,325.7 L402.5,324.5 L403.2,323.3 L404.0,322.0 L404.8,320.6 L405.5,319.2 L406.2,317.7 L407.0,316.1 L407.8,314.4 L408.5,312.6 L409.2,310.7 L410.0,308.8 L410.8,306.8 L411.5,304.7 L412.2,302.5 L413.0,300.2 L413.8,297.8 L414.5,295.4 L415.2,292.9 L416.0,290.3 L416.8,287.7 L417.5,285.1 L418.2,282.4 L419.0,279.8 L419.8,277.1 L420.5,274.6 L421.2,272.1 L422.0,269.6 L422.8,267.4 L423.5,265.2 L424.2,263.3 L425.0,261.5 L425.8,259.9 L426.5,258.6 L427.2,257.4 L428.0,256.6 L428.8,255.9 L429.5,255.5 L430.2,255.2 L431.0,255.2 L431.8,255.3 L432.5,255.6 L433.2,256.1 L434.0,256.6 L434.8,257.2 L435.5,257.9 L436.2,258.7 L437.0,259.6 L437.8,260.5 L438.5,261.4 L439.2,262.4 L440.0,263.4 L440.8,264.5 L441.5,265.6 L442.2,266.8 L443.0,268.0 L443.8,269.3 L444.5,270.7 L445.2,272.1 L446.0,273.7 L446.8,275.3 L447.5,277.0 L448.2,278.9 L449.0,280.8 L449.8,282.8 L450.5,284.9 L451.2,287.1 L452.0,289.3 L452.8,291.6 L453.5,293.9 L454.2,296.2 L455.0,298.6 L455.8,300.9 L456.5,303.2 L457.2,305.4 L458.0,307.7 L458.8,309.8 L459.5,312.0 L460.2,314.0 L461.0,316.0 L461.8,317.9 L462.5,319.8 L463.2,321.5 L464.0,323.2 L464.8,324.8 L465.5,326.3 L466.2,327.7 L467.0,329.1 L467.8,330.3 L468.5,331.5 L469.2,332.6 L470.0,333.6 L470.8,334.5 L471.5,335.4 L472.2,336.2 L473.0,337.0 L473.8,337.6 L474.5,338.3 L475.2,338.9 L476.0,339.4 L476.8,339.9 L477.5,340.3 L478.2,340.8 L479.0,341.1 L479.8,341.5 L480.5,341.8 L481.2,342.1 L482.0,342.4 L482.8,342.7 L483.5,342.9 L484.2,343.1 L485.0,343.3 L485.8,343.5 L486.5,343.7 L487.2,343.9 L488.0,344.0 L488.8,344.2 L489.5,344.3 L490.2,344.5 L491.0,344.6 L491.8,344.7 L492.5,344.9 L493.2,345.0 L494.0,345.1 L494.8,345.2 L495.5,345.3 L496.2,345.4 L497.0,345.5 L497.8,345.6 L498.5,345.7 L499.2,345.8 L500.0,345.9 L500.8,345.9 L501.5,346.0 L502.2,346.1 L503.0,346.2 L503.8,346.2 L504.5,346.3 L505.2,346.4 L506.0,346.5 L506.8,346.5 L507.5,346.6 L508.2,346.6 L509.0,346.7 L509.8,346.8 L510.5,346.8 L511.2,346.9 L512.0,346.9 L512.8,347.0 L513.5,347.0 L514.2,347.1 L515.0,347.1 L515.8,347.2 L516.5,347.2 L517.2,347.3 L518.0,347.3 L518.8,347.4 L519.5,347.4 L520.2,347.5 L521.0,347.5 L521.8,347.5 L522.5,347.6 L523.2,347.6 L524.0,347.7 L524.8,347.7 L525.5,347.7 L526.2,347.8 L527.0,347.8 L527.8,347.8 L528.5,347.9 L529.2,347.9 L530.0,347.9 L530.8,348.0 L531.5,348.0 L532.2,348.0 L533.0,348.1 L533.8,348.1 L534.5,348.1 L535.2,348.2 L536.0,348.2 L536.8,348.2 L537.5,348.2 L538.2,348.3 L539.0,348.3 L539.8,348.3 L540.5,348.3 L541.2,348.4 L542.0,348.4 L542.3,348.4" fill="none" stroke="#0000ff" stroke-width="1.50" stroke-linejoin="round"/>
<path d="M305.0,347.3 L305.8,347.3 L306.5,347.2 L307.2,347.2 L308.0,347.2 L308.8,347.2 L309.5,347.2 L310.2,347.2 L311.0,347.2 L311.8,347.2 L312.5,347.2 L313.2,347.1 L314.0,347.1 L314.8,347.1 L315.5,347.1 L316.2,347.1 L317.0,347.1 L317.8,347.1 L318.5,347.1 L319.2,347.0 L320.0,347.0 L320.8,347.0 L321.5,347.0 L322.2,347.0 L323.0,347.0 L323.8,346.9 L324.5,346.9 L325.2,346.9 L326.0,346.9 L326.8,346.9 L327.5,346.8 L328.2,346.8 L329.0,346.8 L329.8,346.8 L330.5,346.8 L331.2,346.7 L332.0,346.7 L332.8,346.7 L333.5,346.7 L334.2,346.6 L335.0,346.6 L335.8,346.6 L336.5,346.6 L337.2,346.5 L338.0,346.5 L338.8,346.5 L339.5,346.4 L340.2,346.4 L341.0,346.4 L341.8,346.3 L342.5,346.3 L343.2,346.3 L344.0,346.2 L344.8,346.2 L345.5,346.2 L346.2,346.1 L347.0,346.1 L347.8,346.0 L348.5,346.0 L349.2,345.9 L350.0,345.9 L350.8,345.9 L351.5,345.8 L352.2,345.8 L353.0,345.7 L353.8,345.6 L354.5,345.6 L355.2,345.5 L356.0,345.5 L356.8,345.4 L357.5,345.4 L358.2,345.3 L359.0,345.2 L359.8,345.1 L360.5,345.1 L361.2,345.0 L362.0,344.9 L362.8,344.8 L363.5,344.8 L364.2,344.7 L365.0,344.6 L365.8,344.5 L366.5,344.4 L367.2,344.3 L368.0,344.2 L368.8,344.1 L369.5,344.0 L370.2,343.9 L371.0,343.8 L371.8,343.6 L372.5,343.5 L373.2,343.4 L374.0,343.2 L374.8,343.1 L375.5,342.9 L376.2,342.8 L377.0,342.6 L377.8,342.4 L378.5,342.3 L379.2,342.1 L380.0,341.9 L380.8,341.7 L381.5,341.4 L382.2,341.2 L383.0,341.0 L383.8,340.7 L384.5,340.4 L385.2,340.1 L386.0,339.8 L386.8,339.5 L387.5,339.2 L388.2,338.8 L389.0,338.5 L389.8,338.1 L390.5,337.6 L391.2,337.2 L392.0,336.7 L392.8,336.2 L393.5,335.6 L394.2,335.1 L395.0,334.5 L395.8,333.8 L396.5,333.1 L397.2,332.4 L398.0,331.6 L398.8,330.8 L399.5,329.9 L400.2,329.0 L401.0,328.0 L401.8,327.0 L402.5,325.9 L403.2,324.7 L404.0,323.5 L404.8,322.2 L405.5,320.8 L406.2,319.4 L407.0,317.9 L407.8,316.3 L408.5,314.7 L409.2,313.0 L410.0,311.2 L410.8,309.4 L411.5,307.5 L412.2,305.5 L413.0,303.4 L413.8,301.4 L414.5,299.2 L415.2,297.1 L416.0,294.9 L416.8,292.7 L417.5,290.5 L418.2,288.4 L419.0,286.2 L419.8,284.2 L420.5,282.3 L421.2,280.4 L422.0,278.8 L422.8,277.3 L423.5,276.0 L424.2,274.9 L425.0,274.1 L425.8,273.5 L426.5,273.2 L427.2,273.2 L428.0,273.5 L428.8,274.0 L429.5,274.9 L430.2,275.9 L431.0,277.2 L431.8,278.7 L432.5,280.4 L433.2,282.2 L434.0,284.2 L434.8,286.2 L435.5,288.3 L436.2,290.5 L437.0,292.7 L437.8,294.9 L438.5,297.1 L439.2,299.2 L440.0,301.4 L440.8,303.5 L441.5,305.5 L442.2,307.5 L443.0,309.4 L443.8,311.3 L444.5,313.1 L445.2,314.8 L446.0,316.5 L446.8,318.1 L447.5,319.6 L448.2,321.0 L449.0,322.4 L449.8,323.7 L450.5,324.9 L451.2,326.1 L452.0,327.2 L452.8,328.3 L453.5,329.3 L454.2,330.2 L455.0,331.1 L455.8,331.9 L456.5,332.7 L457.2,333.5 L458.0,334.2 L458.8,334.8 L459.5,335.4 L460.2,336.0 L461.0,336.6 L461.8,337.1 L462.5,337.6 L463.2,338.1 L464.0,338.5 L464.8,338.9 L465.5,339.3 L466.2,339.7 L467.0,340.0 L467.8,340.3 L468.5,340.7 L469.2,341.0 L470.0,341.2 L470.8,341.5 L471.5,341.8 L472.2,342.0 L473.0,342.2 L473.8,342.4 L474.5,342.7 L475.2,342.9 L476.0,343.0 L476.8,343.2 L477.5,343.4 L478.2,343.6 L479.0,343.7 L479.8,343.9 L480.5,344.0 L481.2,344.2 L482.0,344.3 L482.8,344.5 L483.5,344.6 L484.2,344.7 L485.0,344.8 L485.8,344.9 L486.5,345.1 L487.2,345.2 L488.0,345.3 L488.8,345.4 L489.5,345.5 L490.2,345.6 L491.0,345.7 L491.8,345.7 L492.5,345.8 L493.2,345.9 L494.0,346.0 L494.8,346.1 L495.5,346.1 L496.2,346.2 L497.0,346.3 L497.8,346.4 L498.5,346.4 L499.2,346.5 L500.0,346.6 L500.8,346.6 L501.5,346.7 L502.2,346.8 L503.0,346.8 L503.8,346.9 L504.5,346.9 L505.2,347.0 L506.0,347.0 L506.8,347.1 L507.5,347.1 L508.2,347.2 L509.0,347.2 L509.8,347.3 L510.5,347.3 L511.2,347.4 L512.0,347.4 L512.8,347.5 L513.5,347.5 L514.2,347.5 L515.0,347.6 L515.8,347.6 L516.5,347.7 L517.2,347.7 L518.0,347.7 L518.8,347.8 L519.5,347.8 L520.2,347.8 L521.0,347.9 L521.8,347.9 L522.5,347.9 L523.2,348.0 L524.0,348.0 L524.8,348.0 L525.5,348.1 L526.2,348.1 L527.0,348.1 L527.8,348.2 L528.5,348.2 L529.2,348.2 L530.0,348.2 L530.8,348.3 L531.5,348.3 L532.2,348.3 L533.0,348.3 L533.8,348.4 L534.5,348.4 L535.2,348.4 L536.0,348.4 L536.8,348.5 L537.5,348.5 L538.2,348.5 L539.0,348.5 L539.8,348.6 L540.5,348.6 L541.2,348.6 L542.0,348.6 L542.3,348.6 L542.3,349.9 L305.0,348.4 Z" fill="url(#g12)" fill-opacity="0.95" stroke="none"/>
<path d="M305.0,347.3 L305.8,347.3 L306.5,347.2 L307.2,347.2 L308.0,347.2 L308.8,347.2 L309.5,347.2 L310.2,347.2 L311.0,347.2 L311.8,347.2 L312.5,347.2 L313.2,347.1 L314.0,347.1 L314.8,347.1 L315.5,347.1 L316.2,347.1 L317.0,347.1 L317.8,347.1 L318.5,347.1 L319.2,347.0 L320.0,347.0 L320.8,347.0 L321.5,347.0 L322.2,347.0 L323.0,347.0 L323.8,346.9 L324.5,346.9 L325.2,346.9 L326.0,346.9 L326.8,346.9 L327.5,346.8 L328.2,346.8 L329.0,346.8 L329.8,346.8 L330.5,346.8 L331.2,346.7 L332.0,346.7 L332.8,346.7 L333.5,346.7 L334.2,346.6 L335.0,346.6 L335.8,346.6 L336.5,346.6 L337.2,346.5 L338.0,346.5 L338.8,346.5 L339.5,346.4 L340.2,346.4 L341.0,346.4 L341.8,346.3 L342.5,346.3 L343.2,346.3 L344.0,346.2 L344.8,346.2 L345.5,346.2 L346.2,346.1 L347.0,346.1 L347.8,346.0 L348.5,346.0 L349.2,345.9 L350.0,345.9 L350.8,345.9 L351.5,345.8 L352.2,345.8 L353.0,345.7 L353.8,345.6 L354.5,345.6 L355.2,345.5 L356.0,345.5 L356.8,345.4 L357.5,345.4 L358.2,345.3 L359.0,345.2 L359.8,345.1 L360.5,345.1 L361.2,345.0 L362.0,344.9 L362.8,344.8 L363.5,344.8 L364.2,344.7 L365.0,344.6 L365.8,344.5 L366.5,344.4 L367.2,344.3 L368.0,344.2 L368.8,344.1 L369.5,344.0 L370.2,343.9 L371.0,343.8 L371.8,343.6 L372.5,343.5 L373.2,343.4 L374.0,343.2 L374.8,343.1 L375.5,342.9 L376.2,342.8 L377.0,342.6 L377.8,342.4 L378.5,342.3 L379.2,342.1 L380.0,341.9 L380.8,341.7 L381.5,341.4 L382.2,341.2 L383.0,341.0 L383.8,340.7 L384.5,340.4 L385.2,340.1 L386.0,339.8 L386.8,339.5 L387.5,339.2 L388.2,338.8 L389.0,338.5 L389.8,338.1 L390.5,337.6 L391.2,337.2 L392.0,336.7 L392.8,336.2 L393.5,335.6 L394.2,335.1 L395.0,334.5 L395.8,333.8 L396.5,333.1 L397.2,332.4 L398.0,331.6 L398.8,330.8 L399.5,329.9 L400.2,329.0 L401.0,328.0 L401.8,327.0 L402.5,325.9 L403.2,324.7 L404.0,323.5 L404.8,322.2 L405.5,320.8 L406.2,319.4 L407.0,317.9 L407.8,316.3 L408.5,314.7 L409.2,313.0 L410.0,311.2 L410.8,309.4 L411.5,307.5 L412.2,305.5 L413.0,303.4 L413.8,301.4 L414.5,299.2 L415.2,297.1 L416.0,294.9 L416.8,292.7 L417.5,290.5 L418.2,288.4 L419.0,286.2 L419.8,284.2 L420.5,282.3 L421.2,280.4 L422.0,278.8 L422.8,277.3 L423.5,276.0 L424.2,274.9 L425.0,274.1 L425.8,273.5 L426.5,273.2 L427.2,273.2 L428.0,273.5 L428.8,274.0 L429.5,274.9 L430.2,275.9 L431.0,277.2 L431.8,278.7 L432.5,280.4 L433.2,282.2 L434.0,284.2 L434.8,286.2 L435.5,288.3 L436.2,290.5 L437.0,292.7 L437.8,294.9 L438.5,297.1 L439.2,299.2 L440.0,301.4 L440.8,303.5 L441.5,305.5 L442.2,307.5 L443.0,309.4 L443.8,311.3 L444.5,313.1 L445.2,314.8 L446.0,316.5 L446.8,318.1 L447.5,319.6 L448.2,321.0 L449.0,322.4 L449.8,323.7 L450.5,324.9 L451.2,326.1 L452.0,327.2 L452.8,328.3 L453.5,329.3 L454.2,330.2 L455.0,331.1 L455.8,331.9 L456.5,332.7 L457.2,333.5 L458.0,334.2 L458.8,334.8 L459.5,335.4 L460.2,336.0 L461.0,336.6 L461.8,337.1 L462.5,337.6 L463.2,338.1 L464.0,338.5 L464.8,338.9 L465.5,339.3 L466.2,339.7 L467.0,340.0 L467.8,340.3 L468.5,340.7 L469.2,341.0 L470.0,341.2 L470.8,341.5 L471.5,341.8 L472.2,342.0 L473.0,342.2 L473.8,342.4 L474.5,342.7 L475.2,342.9 L476.0,343.0 L476.8,343.2 L477.5,343.4 L478.2,343.6 L479.0,343.7 L479.8,343.9 L480.5,344.0 L481.2,344.2 L482.0,344.3 L482.8,344.5 L483.5,344.6 L484.2,344.7 L485.0,344.8 L485.8,344.9 L486.5,345.1 L487.2,345.2 L488.0,345.3 L488.8,345.4 L489.5,345.5 L490.2,345.6 L491.0,345.7 L491.8,345.7 L492.5,345.8 L493.2,345.9 L494.0,346.0 L494.8,346.1 L495.5,346.1 L496.2,346.2 L497.0,346.3 L497.8,346.4 L498.5,346.4 L499.2,346.5 L500.0,346.6 L500.8,346.6 L501.5,346.7 L502.2,346.8 L503.0,346.8 L503.8,346.9 L504.5,346.9 L505.2,347.0 L506.0,347.0 L506.8,347.1 L507.5,347.1 L508.2,347.2 L509.0,347.2 L509.8,347.3 L510.5,347.3 L511.2,347.4 L512.0,347.4 L512.8,347.5 L513.5,347.5 L514.2,347.5 L515.0,347.6 L515.8,347.6 L516.5,347.7 L517.2,347.7 L518.0,347.7 L518.8,347.8 L519.5,347.8 L520.2,347.8 L521.0,347.9 L521.8,347.9 L522.5,347.9 L523.2,348.0 L524.0,348.0 L524.8,348.0 L525.5,348.1 L526.2,348.1 L527.0,348.1 L527.8,348.2 L528.5,348.2 L529.2,348.2 L530.0,348.2 L530.8,348.3 L531.5,348.3 L532.2,348.3 L533.0,348.3 L533.8,348.4 L534.5,348.4 L535.2,348.4 L536.0,348.4 L536.8,348.5 L537.5,348.5 L538.2,348.5 L539.0,348.5 L539.8,348.6 L540.5,348.6 L541.2,348.6 L542.0,348.6 L542.3,348.6" fill="none" stroke="#ff0000" stroke-width="1.30" stroke-linejoin="round"/>
<path d="M316.2,348.3 L317.0,348.3 L317.8,348.3 L318.5,348.3 L319.2,348.3 L320.0,348.3 L320.8,348.3 L321.5,348.3 L322.2,348.3 L323.0,348.3 L323.8,348.3 L324.5,348.4 L325.2,348.4 L326.0,348.4 L326.8,348.4 L327.5,348.4 L328.2,348.4 L329.0,348.4 L329.8,348.4 L330.5,348.4 L331.2,348.4 L332.0,348.4 L332.8,348.4 L333.5,348.4 L334.2,348.4 L335.0,348.4 L335.8,348.4 L336.5,348.4 L337.2,348.4 L338.0,348.4 L338.8,348.4 L339.5,348.4 L340.2,348.4 L341.0,348.4 L341.8,348.4 L342.5,348.4 L343.2,348.4 L344.0,348.4 L344.8,348.4 L345.5,348.4 L346.2,348.4 L347.0,348.4 L347.8,348.4 L348.5,348.4 L349.2,348.4 L350.0,348.4 L350.8,348.4 L351.5,348.4 L352.2,348.4 L353.0,348.4 L353.8,348.4 L354.5,348.4 L355.2,348.4 L356.0,348.4 L356.8,348.4 L357.5,348.4 L358.2,348.4 L359.0,348.4 L359.8,348.4 L360.5,348.4 L361.2,348.4 L362.0,348.4 L362.8,348.4 L363.5,348.4 L364.2,348.4 L365.0,348.4 L365.8,348.4 L366.5,348.4 L367.2,348.4 L368.0,348.4 L368.8,348.4 L369.5,348.4 L370.2,348.4 L371.0,348.4 L371.8,348.4 L372.5,348.4 L373.2,348.4 L374.0,348.4 L374.8,348.4 L375.5,348.4 L376.2,348.3 L377.0,348.3 L377.8,348.3 L378.5,348.3 L379.2,348.3 L380.0,348.3 L380.8,348.3 L381.5,348.3 L382.2,348.3 L383.0,348.3 L383.8,348.3 L384.5,348.3 L385.2,348.3 L386.0,348.2 L386.8,348.2 L387.5,348.2 L388.2,348.2 L389.0,348.2 L389.8,348.2 L390.5,348.2 L391.2,348.1 L392.0,348.1 L392.8,348.1 L393.5,348.1 L394.2,348.1 L395.0,348.0 L395.8,348.0 L396.5,348.0 L397.2,348.0 L398.0,347.9 L398.8,347.9 L399.5,347.9 L400.2,347.8 L401.0,347.8 L401.8,347.7 L402.5,347.7 L403.2,347.6 L404.0,347.6 L404.8,347.5 L405.5,347.4 L406.2,347.3 L407.0,347.2 L407.8,347.1 L408.5,347.0 L409.2,346.8 L410.0,346.7 L410.8,346.5 L411.5,346.3 L412.2,346.0 L413.0,345.8 L413.8,345.5 L414.5,345.2 L415.2,344.9 L416.0,344.5 L416.8,344.1 L417.5,343.7 L418.2,343.2 L419.0,342.6 L419.8,342.1 L420.5,341.4 L421.2,340.8 L422.0,340.0 L422.8,339.3 L423.5,338.4 L424.2,337.5 L425.0,336.6 L425.8,335.6 L426.5,334.5 L427.2,333.4 L428.0,332.3 L428.8,331.1 L429.5,329.8 L430.2,328.5 L431.0,327.2 L431.8,325.8 L432.5,324.5 L433.2,323.1 L434.0,321.7 L434.8,320.2 L435.5,318.9 L436.2,317.5 L437.0,316.1 L437.8,314.8 L438.5,313.6 L439.2,312.4 L440.0,311.3 L440.8,310.3 L441.5,309.3 L442.2,308.5 L443.0,307.8 L443.8,307.3 L444.5,306.9 L445.2,306.6 L446.0,306.5 L446.8,306.5 L447.5,306.8 L448.2,307.2 L449.0,307.7 L449.8,308.5 L450.5,309.3 L451.2,310.3 L452.0,311.5 L452.8,312.7 L453.5,314.0 L454.2,315.4 L455.0,316.8 L455.8,318.3 L456.5,319.8 L457.2,321.3 L458.0,322.9 L458.8,324.4 L459.5,325.9 L460.2,327.4 L461.0,328.8 L461.8,330.2 L462.5,331.6 L463.2,332.9 L464.0,334.1 L464.8,335.3 L465.5,336.4 L466.2,337.5 L467.0,338.5 L467.8,339.4 L468.5,340.3 L469.2,341.1 L470.0,341.8 L470.8,342.5 L471.5,343.1 L472.2,343.7 L473.0,344.2 L473.8,344.7 L474.5,345.1 L475.2,345.5 L476.0,345.8 L476.8,346.2 L477.5,346.4 L478.2,346.7 L479.0,346.9 L479.8,347.1 L480.5,347.3 L481.2,347.5 L482.0,347.6 L482.8,347.7 L483.5,347.8 L484.2,348.0 L485.0,348.0 L485.8,348.1 L486.5,348.2 L487.2,348.3 L488.0,348.3 L488.8,348.4 L489.5,348.4 L490.2,348.5 L491.0,348.5 L491.8,348.6 L492.5,348.6 L493.2,348.7 L494.0,348.7 L494.8,348.7 L495.5,348.8 L496.2,348.8 L497.0,348.8 L497.8,348.8 L498.5,348.9 L499.2,348.9 L500.0,348.9 L500.8,348.9 L501.5,349.0 L502.2,349.0 L503.0,349.0 L503.8,349.0 L504.5,349.0 L505.2,349.1 L506.0,349.1 L506.8,349.1 L507.5,349.1 L508.2,349.1 L509.0,349.2 L509.8,349.2 L510.5,349.2 L511.2,349.2 L512.0,349.2 L512.8,349.2 L513.5,349.3 L514.2,349.3 L515.0,349.3 L515.8,349.3 L516.5,349.3 L517.2,349.3 L518.0,349.3 L518.8,349.3 L519.5,349.4 L520.2,349.4 L521.0,349.4 L521.8,349.4 L522.5,349.4 L523.2,349.4 L524.0,349.4 L524.8,349.4 L525.5,349.5 L526.2,349.5 L527.0,349.5 L527.8,349.5 L528.5,349.5 L529.2,349.5 L530.0,349.5 L530.8,349.5 L531.5,349.5 L532.2,349.5 L533.0,349.6 L533.8,349.6 L534.5,349.6 L535.2,349.6 L536.0,349.6 L536.8,349.6 L537.5,349.6 L538.2,349.6 L539.0,349.6 L539.8,349.6 L540.5,349.6 L541.2,349.7 L542.0,349.7 L542.3,349.7 L542.3,349.9 L316.2,348.5 Z" fill="url(#g13)" fill-opacity="1.00" stroke="none"/>
<path d="M316.2,348.3 L317.0,348.3 L317.8,348.3 L318.5,348.3 L319.2,348.3 L320.0,348.3 L320.8,348.3 L321.5,348.3 L322.2,348.3 L323.0,348.3 L323.8,348.3 L324.5,348.4 L325.2,348.4 L326.0,348.4 L326.8,348.4 L327.5,348.4 L328.2,348.4 L329.0,348.4 L329.8,348.4 L330.5,348.4 L331.2,348.4 L332.0,348.4 L332.8,348.4 L333.5,348.4 L334.2,348.4 L335.0,348.4 L335.8,348.4 L336.5,348.4 L337.2,348.4 L338.0,348.4 L338.8,348.4 L339.5,348.4 L340.2,348.4 L341.0,348.4 L341.8,348.4 L342.5,348.4 L343.2,348.4 L344.0,348.4 L344.8,348.4 L345.5,348.4 L346.2,348.4 L347.0,348.4 L347.8,348.4 L348.5,348.4 L349.2,348.4 L350.0,348.4 L350.8,348.4 L351.5,348.4 L352.2,348.4 L353.0,348.4 L353.8,348.4 L354.5,348.4 L355.2,348.4 L356.0,348.4 L356.8,348.4 L357.5,348.4 L358.2,348.4 L359.0,348.4 L359.8,348.4 L360.5,348.4 L361.2,348.4 L362.0,348.4 L362.8,348.4 L363.5,348.4 L364.2,348.4 L365.0,348.4 L365.8,348.4 L366.5,348.4 L367.2,348.4 L368.0,348.4 L368.8,348.4 L369.5,348.4 L370.2,348.4 L371.0,348.4 L371.8,348.4 L372.5,348.4 L373.2,348.4 L374.0,348.4 L374.8,348.4 L375.5,348.4 L376.2,348.3 L377.0,348.3 L377.8,348.3 L378.5,348.3 L379.2,348.3 L380.0,348.3 L380.8,348.3 L381.5,348.3 L382.2,348.3 L383.0,348.3 L383.8,348.3 L384.5,348.3 L385.2,348.3 L386.0,348.2 L386.8,348.2 L387.5,348.2 L388.2,348.2 L389.0,348.2 L389.8,348.2 L390.5,348.2 L391.2,348.1 L392.0,348.1 L392.8,348.1 L393.5,348.1 L394.2,348.1 L395.0,348.0 L395.8,348.0 L396.5,348.0 L397.2,348.0 L398.0,347.9 L398.8,347.9 L399.5,347.9 L400.2,347.8 L401.0,347.8 L401.8,347.7 L402.5,347.7 L403.2,347.6 L404.0,347.6 L404.8,347.5 L405.5,347.4 L406.2,347.3 L407.0,347.2 L407.8,347.1 L408.5,347.0 L409.2,346.8 L410.0,346.7 L410.8,346.5 L411.5,346.3 L412.2,346.0 L413.0,345.8 L413.8,345.5 L414.5,345.2 L415.2,344.9 L416.0,344.5 L416.8,344.1 L417.5,343.7 L418.2,343.2 L419.0,342.6 L419.8,342.1 L420.5,341.4 L421.2,340.8 L422.0,340.0 L422.8,339.3 L423.5,338.4 L424.2,337.5 L425.0,336.6 L425.8,335.6 L426.5,334.5 L427.2,333.4 L428.0,332.3 L428.8,331.1 L429.5,329.8 L430.2,328.5 L431.0,327.2 L431.8,325.8 L432.5,324.5 L433.2,323.1 L434.0,321.7 L434.8,320.2 L435.5,318.9 L436.2,317.5 L437.0,316.1 L437.8,314.8 L438.5,313.6 L439.2,312.4 L440.0,311.3 L440.8,310.3 L441.5,309.3 L442.2,308.5 L443.0,309.4 L443.8,311.3 L444.5,313.1 L445.2,314.8 L446.0,316.5 L446.8,318.1 L447.5,319.6 L448.2,321.0 L449.0,322.4 L449.8,323.7 L450.5,324.9 L451.2,326.1 L452.0,327.2 L452.8,328.3 L453.5,329.3 L454.2,330.2 L455.0,331.1 L455.8,331.9 L456.5,332.7 L457.2,333.5 L458.0,334.2 L458.8,334.8 L459.5,335.4 L460.2,336.0 L461.0,336.6 L461.8,337.1 L462.5,337.6 L463.2,338.1 L464.0,338.5 L464.8,338.9 L465.5,339.3 L466.2,339.7 L467.0,340.0 L467.8,340.3 L468.5,340.7 L469.2,341.1 L470.0,341.8 L470.8,342.5 L471.5,343.1 L472.2,343.7 L473.0,344.2 L473.8,344.7 L474.5,345.1 L475.2,345.5 L476.0,345.8 L476.8,346.2 L477.5,346.4 L478.2,346.7 L479.0,346.9 L479.8,347.1 L480.5,347.3 L481.2,347.5 L482.0,347.6 L482.8,347.7 L483.5,347.8 L484.2,348.0 L485.0,348.0 L485.8,348.1 L486.5,348.2 L487.2,348.3 L488.0,348.3 L488.8,348.4 L489.5,348.4 L490.2,348.5 L491.0,348.5 L491.8,348.6 L492.5,348.6 L493.2,348.7 L494.0,348.7 L494.8,348.7 L495.5,348.8 L496.2,348.8 L497.0,348.8 L497.8,348.8 L498.5,348.9 L499.2,348.9 L500.0,348.9 L500.8,348.9 L501.5,349.0 L502.2,349.0 L503.0,349.0 L503.8,349.0 L504.5,349.0 L505.2,349.1 L506.0,349.1 L506.8,349.1 L507.5,349.1 L508.2,349.1 L509.0,349.2 L509.8,349.2 L510.5,349.2 L511.2,349.2 L512.0,349.2 L512.8,349.2 L513.5,349.3 L514.2,349.3 L515.0,349.3 L515.8,349.3 L516.5,349.3 L517.2,349.3 L518.0,349.3 L518.8,349.3 L519.5,349.4 L520.2,349.4 L521.0,349.4 L521.8,349.4 L522.5,349.4 L523.2,349.4 L524.0,349.4 L524.8,349.4 L525.5,349.5 L526.2,349.5 L527.0,349.5 L527.8,349.5 L528.5,349.5 L529.2,349.5 L530.0,349.5 L530.8,349.5 L531.5,349.5 L532.2,349.5 L533.0,349.6 L533.8,349.6 L534.5,349.6 L535.2,349.6 L536.0,349.6 L536.8,349.6 L537.5,349.6 L538.2,349.6 L539.0,349.6 L539.8,349.6 L540.5,349.6 L541.2,349.7 L542.0,349.7 L542.3,349.7 L542.3,349.9 L316.2,348.5 Z" fill="#55560f" fill-opacity="1.00" stroke="none"/>
<path d="M305.0,348.3 L305.8,348.3 L306.5,348.3 L307.2,348.3 L308.0,348.3 L308.8,348.3 L309.5,348.3 L310.2,348.3 L311.0,348.3 L311.8,348.3 L312.5,348.3 L313.2,348.3 L314.0,348.3 L314.8,348.3 L315.5,348.3 L316.2,348.3 L317.0,348.3 L317.8,348.3 L318.5,348.3 L319.2,348.3 L320.0,348.3 L320.8,348.3 L321.5,348.3 L322.2,348.3 L323.0,348.3 L323.8,348.3 L324.5,348.4 L325.2,348.4 L326.0,348.4 L326.8,348.4 L327.5,348.4 L328.2,348.4 L329.0,348.4 L329.8,348.4 L330.5,348.4 L331.2,348.4 L332.0,348.4 L332.8,348.4 L333.5,348.4 L334.2,348.4 L335.0,348.4 L335.8,348.4 L336.5,348.4 L337.2,348.4 L338.0,348.4 L338.8,348.4 L339.5,348.4 L340.2,348.4 L341.0,348.4 L341.8,348.4 L342.5,348.4 L343.2,348.4 L344.0,348.4 L344.8,348.4 L345.5,348.4 L346.2,348.4 L347.0,348.4 L347.8,348.4 L348.5,348.4 L349.2,348.4 L350.0,348.4 L350.8,348.4 L351.5,348.4 L352.2,348.4 L353.0,348.4 L353.8,348.4 L354.5,348.4 L355.2,348.4 L356.0,348.4 L356.8,348.4 L357.5,348.4 L358.2,348.4 L359.0,348.4 L359.8,348.4 L360.5,348.4 L361.2,348.4 L362.0,348.4 L362.8,348.4 L363.5,348.4 L364.2,348.4 L365.0,348.4 L365.8,348.4 L366.5,348.4 L367.2,348.4 L368.0,348.4 L368.8,348.4 L369.5,348.4 L370.2,348.4 L371.0,348.4 L371.8,348.4 L372.5,348.4 L373.2,348.4 L374.0,348.4 L374.8,348.4 L375.5,348.4 L376.2,348.3 L377.0,348.3 L377.8,348.3 L378.5,348.3 L379.2,348.3 L380.0,348.3 L380.8,348.3 L381.5,348.3 L382.2,348.3 L383.0,348.3 L383.8,348.3 L384.5,348.3 L385.2,348.3 L386.0,348.2 L386.8,348.2 L387.5,348.2 L388.2,348.2 L389.0,348.2 L389.8,348.2 L390.5,348.2 L391.2,348.1 L392.0,348.1 L392.8,348.1 L393.5,348.1 L394.2,348.1 L395.0,348.0 L395.8,348.0 L396.5,348.0 L397.2,348.0 L398.0,347.9 L398.8,347.9 L399.5,347.9 L400.2,347.8 L401.0,347.8 L401.8,347.7 L402.5,347.7 L403.2,347.6 L404.0,347.6 L404.8,347.5 L405.5,347.4 L406.2,347.3 L407.0,347.2 L407.8,347.1 L408.5,347.0 L409.2,346.8 L410.0,346.7 L410.8,346.5 L411.5,346.3 L412.2,346.0 L413.0,345.8 L413.8,345.5 L414.5,345.2 L415.2,344.9 L416.0,344.5 L416.8,344.1 L417.5,343.7 L418.2,343.2 L419.0,342.6 L419.8,342.1 L420.5,341.4 L421.2,340.8 L422.0,340.0 L422.8,339.3 L423.5,338.4 L424.2,337.5 L425.0,336.6 L425.8,335.6 L426.5,334.5 L427.2,333.4 L428.0,332.3 L428.8,331.1 L429.5,329.8 L430.2,328.5 L431.0,327.2 L431.8,325.8 L432.5,324.5 L433.2,323.1 L434.0,321.7 L434.8,320.2 L435.5,318.9 L436.2,317.5 L437.0,316.1 L437.8,314.8 L438.5,313.6 L439.2,312.4 L440.0,311.3 L440.8,310.3 L441.5,309.3 L442.2,308.5 L443.0,307.8 L443.8,307.3 L444.5,306.9 L445.2,306.6 L446.0,306.5 L446.8,306.5 L447.5,306.8 L448.2,307.2 L449.0,307.7 L449.8,308.5 L450.5,309.3 L451.2,310.3 L452.0,311.5 L452.8,312.7 L453.5,314.0 L454.2,315.4 L455.0,316.8 L455.8,318.3 L456.5,319.8 L457.2,321.3 L458.0,322.9 L458.8,324.4 L459.5,325.9 L460.2,327.4 L461.0,328.8 L461.8,330.2 L462.5,331.6 L463.2,332.9 L464.0,334.1 L464.8,335.3 L465.5,336.4 L466.2,337.5 L467.0,338.5 L467.8,339.4 L468.5,340.3 L469.2,341.1 L470.0,341.8 L470.8,342.5 L471.5,343.1 L472.2,343.7 L473.0,344.2 L473.8,344.7 L474.5,345.1 L475.2,345.5 L476.0,345.8 L476.8,346.2 L477.5,346.4 L478.2,346.7 L479.0,346.9 L479.8,347.1 L480.5,347.3 L481.2,347.5 L482.0,347.6 L482.8,347.7 L483.5,347.8 L484.2,348.0 L485.0,348.0 L485.8,348.1 L486.5,348.2 L487.2,348.3 L488.0,348.3 L488.8,348.4 L489.5,348.4 L490.2,348.5 L491.0,348.5 L491.8,348.6 L492.5,348.6 L493.2,348.7 L494.0,348.7 L494.8,348.7 L495.5,348.8 L496.2,348.8 L497.0,348.8 L497.8,348.8 L498.5,348.9 L499.2,348.9 L500.0,348.9 L500.8,348.9 L501.5,349.0 L502.2,349.0 L503.0,349.0 L503.8,349.0 L504.5,349.0 L505.2,349.1 L506.0,349.1 L506.8,349.1 L507.5,349.1 L508.2,349.1 L509.0,349.2 L509.8,349.2 L510.5,349.2 L511.2,349.2 L512.0,349.2 L512.8,349.2 L513.5,349.3 L514.2,349.3 L515.0,349.3 L515.8,349.3 L516.5,349.3 L517.2,349.3 L518.0,349.3 L518.8,349.3 L519.5,349.4 L520.2,349.4 L521.0,349.4 L521.8,349.4 L522.5,349.4 L523.2,349.4 L524.0,349.4 L524.8,349.4 L525.5,349.5 L526.2,349.5 L527.0,349.5 L527.8,349.5 L528.5,349.5 L529.2,349.5 L530.0,349.5 L530.8,349.5 L531.5,349.5 L532.2,349.5 L533.0,349.6 L533.8,349.6 L534.5,349.6 L535.2,349.6 L536.0,349.6 L536.8,349.6 L537.5,349.6 L538.2,349.6 L539.0,349.6 L539.8,349.6 L540.5,349.6 L541.2,349.7 L542.0,349.7 L542.3,349.7" fill="none" stroke="#008000" stroke-width="1.50" stroke-linejoin="round"/>
</g>
<rect x="305.0" y="203.0" width="237.3" height="158.5" fill="none" stroke="#000" stroke-width="1.60"/>
<path d="M305.0,361.5 v-2.9 M334.7,361.5 v-1.9 M364.4,361.5 v-2.9 M394.0,361.5 v-1.9 M423.7,361.5 v-2.9 M453.4,361.5 v-1.9 M483.1,361.5 v-2.9 M512.7,361.5 v-1.9 M542.4,361.5 v-2.9" stroke="#000" stroke-width="1" fill="none"/>
<text x="305.0" y="373.5" text-anchor="middle" font-size="11.0">60</text>
<text x="364.4" y="373.5" text-anchor="middle" font-size="11.0">58</text>
<text x="423.7" y="373.5" text-anchor="middle" font-size="11.0">56</text>
<text x="483.1" y="373.5" text-anchor="middle" font-size="11.0">54</text>
<text x="542.4" y="373.5" text-anchor="middle" font-size="11.0">52</text>
<text x="370.2" y="386.0" font-size="12.3" textLength="107.2" lengthAdjust="spacingAndGlyphs">Binding energy (eV)</text>
<text x="275.5" y="220.4" font-size="20.0">(d)</text>
<text x="515.3" y="215.4" font-size="8.5">Li 1s</text>
<text x="403.2" y="262.0" font-size="8.5">LiF</text>
<text x="465.5" y="306.0" font-size="8.5">Li-O</text>
</svg>
</body></html>
